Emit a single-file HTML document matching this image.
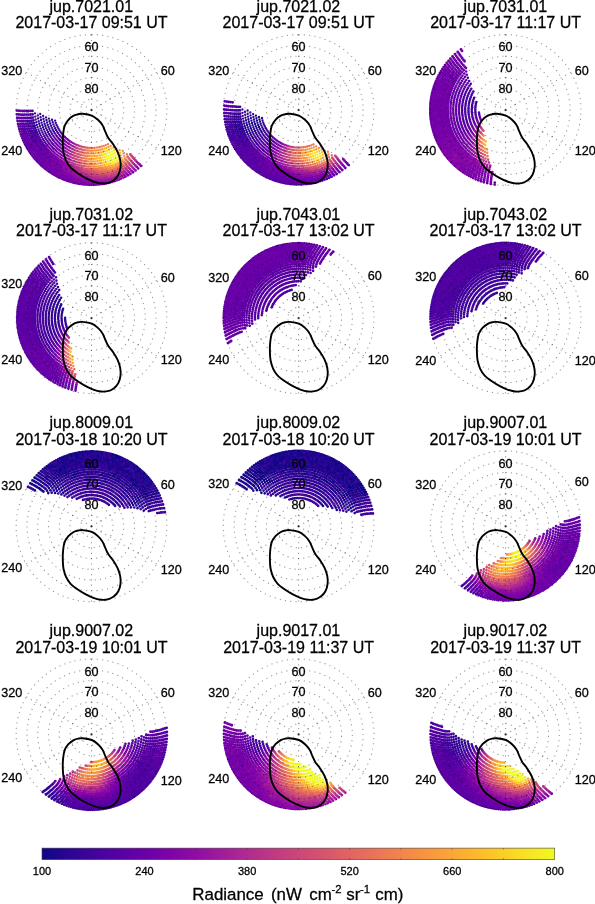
<!DOCTYPE html><html><head><meta charset="utf-8"><title>Radiance maps</title><style>html,body{margin:0;padding:0;background:#fff}svg{display:block}text{font-family:"Liberation Sans",sans-serif;fill:#000;stroke:#000;stroke-width:.28px}.t{font-size:16px;text-anchor:middle}.a{font-size:12.6px}.m{text-anchor:middle}.e{text-anchor:end}.c{font-size:11px;text-anchor:middle}.g{fill:none;stroke:#000;stroke-opacity:.42;stroke-width:1.05;stroke-dasharray:1.15 4.15}.d{fill:none;stroke-width:27.0;stroke-linecap:round}.b{stroke-width:28.5}.o{fill:none;stroke:#000;stroke-width:1.9}</style></head><body><svg width="595" height="904" viewBox="0 0 595 904"><rect width="595" height="904" fill="#fff"/><defs><g id="grid" class="g"><circle r="10.75" transform="rotate(-90)"/><circle r="21.50" transform="rotate(-90)"/><circle r="32.25" transform="rotate(-90)"/><circle r="43.00" transform="rotate(-90)"/><circle r="53.75" transform="rotate(-90)"/><circle r="64.50" transform="rotate(-90)"/><circle r="75.40" transform="rotate(-90)"/><path d="M0 0L0.00 -75.40"/><path d="M0 0L65.30 -37.70"/><path d="M0 0L65.30 37.70"/><path d="M0 0L0.00 75.40"/><path d="M0 0L-65.30 37.70"/><path d="M0 0L-65.30 -37.70"/><circle r="1.1" fill="#000" fill-opacity=".35" stroke="none"/></g><path id="oval" class="o" d="M-8.8 3.8C-6.5 4.0 -2.2 4.6 0.3 5.6C2.8 6.6 4.6 8.2 6.4 9.8C8.2 11.4 9.7 13.1 10.9 15.1C12.2 17.1 12.9 19.8 13.9 21.9C14.9 24.0 15.6 26.0 16.9 28.0C18.2 30.0 20.0 31.7 21.5 34.0C23.0 36.3 24.8 39.0 26.0 41.6C27.2 44.2 28.2 47.2 28.7 49.9C29.2 52.5 29.3 55.0 29.0 57.5C28.7 60.0 27.9 62.9 26.8 65.0C25.7 67.1 24.0 69.0 22.2 70.3C20.4 71.6 18.3 72.6 16.2 73.1C14.1 73.6 11.8 73.7 9.4 73.4C7.0 73.1 4.3 72.4 1.8 71.5C-0.7 70.6 -3.2 69.4 -5.7 68.1C-8.2 66.8 -10.8 65.3 -13.3 63.5C-15.8 61.7 -18.9 59.6 -20.9 57.5C-22.9 55.4 -24.2 53.2 -25.4 50.7C-26.6 48.2 -27.4 45.3 -28.0 42.4C-28.6 39.5 -28.6 36.3 -28.7 33.3C-28.8 30.3 -28.7 27.1 -28.4 24.2C-28.1 21.3 -27.8 18.3 -26.9 15.9C-26.0 13.5 -24.6 11.5 -23.1 9.8C-21.6 8.1 -19.4 6.6 -17.8 5.7C-16.2 4.8 -14.8 4.5 -13.3 4.2C-11.8 3.9 -11.1 3.6 -8.8 3.8Z"/></defs><g class="d" style="stroke-width:23.5" transform="scale(.1)"><path stroke="#1d068e" d="M447 1238h0"/><path stroke="#2a0593" d="M558 1228h0m-24 15h0m-7-22h0m-7-24h0m-18 38h0m-13-49h0m-11 62h0m-13-48h0m-3 82h0m-8-22h0m-13-46h0m-6-27h0m-12 63h0m-7-24h0m-9 57h0m-8-22h0m-30-13h0"/><path stroke="#370499" d="M566 1249h0m-15-43h0m19 110h0m-19-34h0m-15 31h0m-9-18h0m-9-19h0m-8-20h0m-15-44h0m8 96h0m-9-19h0m-8-20h0m-15-44h0m-11-52h0m39 182h0m-19-35h0m-49-162h0m44 208h0m-36-73h0m-8-21h0m-20-72h0m-5-28h0m18 152h0m-9-20h0m-22-67h0m-6-25h0m-6-28h0m-5 87h0m-13-49h0"/><path class="b" stroke="#370499" d="M368 1324h0m-8-21h0m-14-46h0m2 70h0m-22-68h0m-6 49h0m-20-73h0"/><path stroke="#41049d" d="M584 1285h0m-24 14h0m-18-36h0m-29 62h0m-24 13h0m-24 12h0m-18-37h0m-45-173h0m40 221h0m-64-207h0m31 199h0m-9-19h0m-8-19h0m-8-21h0m-27-99h0m-4-29h0"/><path class="b" stroke="#41049d" d="M353 1281h0m-14-49h0m-5-27h0m-5-29h0m-3-32h0m40 223h0m-26-61h0m-26-99h0m-21 80h0"/><path stroke="#4c02a1" d="M604 1317h0m-10-15h0m-19-35h0m5 64h0m-13 29h0m-21-31h0m-13 29h0m-62-57h0m-15 31h0m6 62h0m-29-51h0m-14 28h0m-69-238h0"/><path class="b" stroke="#4c02a1" d="M386 1363h0m-9-19h0m-53-235h0m51 276h0m-18-38h0m-24-64h0m-13-49h0m-10-57h0m45 211h0m-18-38h0m-9-21h0m-22-68h0m-11-53h0m-5-30h0m18 154h0m-7-22h0m-21-73h0m-5-28h0m-4-30h0m-4-33h0m0 118h0m-12-55h0m-28 56h0"/><path stroke="#5601a4" d="M615 1332h0m-2 41h0m-35 1h0m-22-29h0m-2 42h0m-32-45h0m-2 44h0m-13 27h0m-11-15h0m-11-15h0m-12 27h0m-21-32h0m8 58h0m-11-15h0m-20-32h0"/><path class="b" stroke="#5601a4" d="M437 1447h0m-22-32h0m-10-16h0m11 52h0m-11-15h0m-10-16h0m-10-17h0m-79-258h0m111 341h0m-52-80h0m-19-36h0m-33-85h0m-26-139h0m-2-36h0m112 381h0m-43-64h0m-10-17h0m-9-18h0m-9-20h0m-9-19h0m-31-91h0m-20-152h0m58 303h0m-9-19h0m-10-19h0m-8-20h0m-24-67h0m-22-109h0m138 365h0m-121-208h0m-7-23h0m-8-24h0m-6-25h0m-6-26h0m-6-28h0m88 278h0m-10-16h0m-39-72h0m-9-20h0m-17-43h0m-8-23h0m-7-24h0m-12-52h0m-5-28h0m12 128h0m-15-47h0m-17-82h0m-7-64h0m148 428h0m-121-211h0m-29-97h0m-18-122h0"/><path stroke="#6001a6" d="M649 1370h0m-23-25h0m-24 15h0m-11-14h0m-2 41h0m-12 27h0m-12-13h0m-22-28h0m-13 27h0m-21-29h0m20 69h0m-11-13h0m-1 38h0m-23-26h0m-11-14h0m11 52h0m-12-13h0m-11-14h0m-32-45h0"/><path class="b" stroke="#6001a6" d="M470 1489h0m-22-28h0m-22-30h0m-30-50h0m65 127h0m-12-13h0m-11-14h0m-11-15h0m-122-357h0m196 466h0m-95-104h0m-11-15h0m-10-16h0m-10-16h0m56 109h0m-23-28h0m-22-29h0m-22-32h0m58 108h0m-35-42h0m-33-46h0m-20-33h0m-46-97h0m-7-22h0m-21-75h0m-12-91h0m-2-36h0m179 473h0m-24-26h0m-67-89h0m-11-16h0m-10-18h0m-19-37h0m-9-19h0m-9-21h0m-45-178h0m-3-33h0m-1-36h0m176 479h0m-69-85h0m-31-49h0m-10-18h0m-10-18h0m-27-60h0m-44-180h0m-3-33h0m197 474h0m-104-128h0m-10-17h0m-20-35h0m-19-38h0m-9-20h0m-24-67h0m-13-50h0m-15-87h0m-4-71h0m477 697h0m-176-90h0m-53-41h0m-26-23h0m-85-92h0m-11-15h0m-11-15h0m-32-49h0m-10-18h0m-19-37h0m-9-20h0m-33-88h0m-7-25h0m-12-53h0m-5-29h0m-4-32h0"/><path stroke="#6a00a8" d="M637 1358h0m-12 27h0m0 38h0m-12-11h0m-12-12h0m-12 26h0m-12 26h0m-12-12h0m-12-13h0m-11-13h0m23 63h0m-24-24h0m25 59h0m-25-22h0m-12-12h0m-23-26h0m24 62h0"/><path class="b" stroke="#6a00a8" d="M557 1570h0m-63-56h0m-35-39h0m26 58h0m-12-12h0m67 85h0m-26-20h0m-25-23h0m-13-11h0m-12-12h0m-12-13h0m-23-27h0m76 104h0m-13-11h0m-12-11h0m-13-12h0m-12-12h0m-36-39h0m-44-59h0m162 191h0m-27-19h0m-13-10h0m-13-11h0m-26-22h0m-12-12h0m-12-13h0m-24-26h0m-12-13h0m-22-29h0m-11-16h0m-21-32h0m240 256h0m-14-8h0m-55-36h0m-14-10h0m-52-43h0m-12-12h0m-60-65h0m-11-15h0m-11-15h0m-11-16h0m-40-68h0m346 340h0m-102-51h0m-14-9h0m-28-18h0m-13-10h0m-27-21h0m-25-22h0m-13-11h0m-49-51h0m-11-14h0m-23-29h0m223 219h0m-14-8h0m-42-26h0m-67-50h0m-13-12h0m-13-11h0m-25-24h0m-12-13h0m-12-13h0m-12-14h0m-11-14h0m-12-15h0m-22-31h0m-31-50h0m-20-37h0m-26-61h0m-35-122h0m388 534h0m-58-31h0m-14-9h0m-14-9h0m-27-19h0m-53-42h0m-26-24h0m-12-12h0m-12-13h0m-13-13h0m-78-104h0m-31-53h0m-27-60h0m-16-44h0m-40-233h0"/><path stroke="#7401a8" d="M686 1402h0m-12-10h0m-25 16h0m-12-11h0m0 37h0m-36 4h0m0 36h0m-12-11h0m-12 25h0m-24-23h0m1 36h0m1 35h0m-13-11h0m-24-23h0m-12-12h0"/><path class="b" stroke="#7401a8" d="M544 1560h0m-13-11h0m-25-23h0m-24-24h0m107 114h0m-14-9h0m-27-19h0m-13-10h0m-13-11h0m-12-11h0m-13-11h0m97 97h0m-27-17h0m-127-111h0m160 154h0m-14-8h0m-14-8h0m-13-9h0m-14-9h0m-13-10h0m-89-78h0m178 155h0m-14-8h0m-29-15h0m-28-17h0m-79-61h0m142 119h0m-15-8h0m-42-24h0m-14-9h0m-54-38h0m-13-11h0m-13-11h0m-50-48h0m331 217h0m-32-9h0m-46-16h0m-30-12h0m-15-7h0m-44-22h0m-14-8h0m-42-26h0m-41-29h0m-26-21h0m-37-36h0m-25-25h0m-35-42h0m-149-425h0m561 703h0m-49-12h0m-16-4h0m-15-5h0m-16-5h0m-30-12h0m-15-6h0m-15-7h0m-15-7h0m-72-40h0m-27-18h0m-14-10h0m-13-10h0m-13-10h0m-134-142h0m1005 198h0m-378 124h0m-19 1h0m-36 0h0m-17-1h0m-18-1h0m-51-6h0m-17-2h0m-16-3h0m-17-3h0m-16-4h0m-16-4h0m-32-9h0m-16-5h0m-31-11h0m-15-6h0m-15-6h0m-15-7h0m-30-14h0m-14-8h0m-15-8h0m-83-55h0m-13-10h0m-100-97h0m-57-75h0"/><path stroke="#7e03a8" d="M661 1382h0m14 46h0m-13-10h0m-12 26h0m-24 15h0m-13-10h0m14 45h0m-13-10h0m2 34h0m-13-9h0m-13-11h0m-9 58h0m-13-10h0"/><path class="b" stroke="#7e03a8" d="M583 1589h0m-13-9h0m-51-42h0m84 86h0m-41-26h0m61 60h0m-15-8h0m-27-16h0m-28-18h0m-26-20h0m117 94h0m-126-76h0m147 106h0m-29-12h0m-44-22h0m-28-17h0m-41-27h0m196 118h0m-16-5h0m-15-5h0m-15-6h0m-31-12h0m-14-7h0m-100-56h0m264 128h0m-17-3h0m-48-12h0m-31-9h0m-16-5h0m-75-32h0m-15-7h0m424 91h0m-74 7h0m-18 0h0m-36 0h0m-34-2h0m-17-2h0m-17-2h0m-17-3h0m-50-9h0m-16-4h0m-78-25h0m-75-33h0m-43-24h0m871-64h0m-106 79h0m-158 72h0m-62 17h0m-20 5h0m-76 11h0m-19 2h0m-125-2h0m-17-1h0m-115-23h0"/><path stroke="#8707a6" d="M699 1412h0m-11 25h0m-25 17h0m-25 15h0m-9 58h0m3 33h0m-14-9h0m-13-9h0m-13-9h0m-13-10h0m42 60h0m-13-8h0m-14-9h0"/><path class="b" stroke="#8707a6" d="M625 1615h0m-14-9h0m-14-8h0m48 49h0m-14-7h0m-14-8h0m56 71h0m-44-20h0m-14-7h0m81 56h0m-16-6h0m-30-12h0m133 62h0m-32-8h0m-16-4h0m-78-26h0m202 68h0m-17-2h0m-34-4h0m-49-10h0m637-145h0m-28 24h0m-102 68h0m-271 86h0m-37 3h0m-89 0h0m-85-11h0m598-132h0m-103 69h0m-69 34h0m-43 17h0m-122 32h0m-19 4h0m-20 2h0m-92 6h0"/><path stroke="#8f0da4" d="M652 1479h0m-12 24h0m6 65h0m3 31h0"/><path class="b" stroke="#8f0da4" d="M667 1636h0m-14-6h0m-14-8h0m35 39h0m-15-7h0m52 42h0m-15-5h0m-15-6h0m-15-6h0m-14-7h0m-15-7h0m82 54h0m-16-5h0m-45-18h0m133 61h0m-33-7h0m-16-4h0m-15-4h0m-16-5h0m156 50h0m-17-2h0m-34-4h0m-17-2h0m-32-7h0m199 34h0m-36 2h0m-18 0h0m-18-1h0m-17 0h0m-52-5h0m490-94h0m-25 15h0m-47 26h0m-23 11h0m-44 19h0m-123 35h0m-20 4h0m-56 7h0m-73 2h0m451-123h0m-99 61h0m-23 11h0m-45 19h0m-63 22h0m-20 5h0"/><path stroke="#99159f" d="M740 1436h0m-14-8h0m-14-8h0m-11 26h0m-11 25h0m-14-8h0m16 41h0m-27-17h0m2 33h0m-13-8h0m16 40h0m-27-16h0m20 71h0m-28-16h0"/><path class="b" stroke="#99159f" d="M712 1655h0m-23 12h0m77 65h0m-16-4h0m-16-4h0m-46-16h0m187 60h0m-68-8h0m-33-6h0m594-136h0m-466 170h0m-18 0h0m-51-5h0m549-151h0m-81 61h0m-298 109h0m-18 2h0m-37 3h0m393-117h0m-143 80h0m-44 17h0m-41 13h0m-20 5h0m-20 5h0"/><path stroke="#a11b9b" d="M742 1468h0m-14-7h0m-14-7h0m-11 25h0m-25 17h0m17 40h0m-11 24h0m-28-16h0m32 46h0m-14-7h0m-14-7h0m18 37h0"/><path class="b" stroke="#a11b9b" d="M697 1649h0m-15-6h0m37 35h0m-15-5h0m54 37h0m-16-4h0m-15-5h0m88 41h0m-17-3h0m-16-3h0m75 30h0m-17-1h0m-16-2h0m132 24h0m-37 1h0m435-133h0m-101 67h0m-46 23h0m-44 18h0m-21 7h0m-41 13h0m-20 5h0m-20 5h0m-19 3h0m-20 4h0m111-6h0"/><path stroke="#aa2395" d="M768 1449h0m-14-6h0m-48 68h0m3 31h0m-28-14h0m22 69h0m-11 23h0"/><path class="b" stroke="#aa2395" d="M727 1660h0m7 23h0m72 37h0m-32-6h0m57 30h0m79 25h0m-18-1h0m448-127h0m-26 20h0m-264 114h0m-58 9h0m-18 2h0m-37 2h0m390-112h0m-50 32h0m-47 26h0m-45 20h0m-64 23h0"/><path stroke="#b12a90" d="M717 1486h0m3 32h0m-21 48h0m18 37h0m20 34h0m-30-11h0"/><path class="b" stroke="#b12a90" d="M742 1665h0m56 34h0m-32-7h0m-16-4h0m73 35h0m-33-6h0m75 30h0m-17-1h0m507-142h0m-428 165h0m361-91h0m-24 15h0m-24 14h0m-23 12h0m-187 60h0m-19 3h0"/><path stroke="#b7318a" d="M783 1455h0m-26 20h0m-26 18h0m4 32h0m-11 24h0m-11 24h0m19 35h0m-10 24h0"/><path class="b" stroke="#b7318a" d="M789 1677h0m-16-3h0m-15-4h0m24 26h0m57 29h0m503-136h0m-442 160h0m-18-1h0m445-121h0m-345 138h0m-19 2h0m-18 1h0m250-39h0m-22 9h0m-63 22h0m-41 11h0"/><path stroke="#bf3984" d="M771 1481h0m-11 25h0m-14-6h0m-8 55h0m-10 24h0m35 39h0m-16-5h0m21 33h0m-16-4h0"/><path class="b" stroke="#bf3984" d="M814 1702h0m515-127h0m-473 152h0m458-115h0m-379 137h0m365-102h0m-25 17h0m-24 14h0m-193 75h0m-19 4h0m-20 4h0m-18 2h0m150-17h0m-21 8h0m-41 12h0"/><path stroke="#c5407e" d="M797 1460h0m-44 100h0m20 34h0m-30-10h0"/><path class="b" stroke="#c5407e" d="M822 1683h0m-17-2h0m511-121h0m-452 148h0m-34-4h0m60 25h0m-17-1h0m117 17h0m-19 2h0m-18 1h0m-36 1h0m310-58h0m-109 46h0"/><path stroke="#cc4778" d="M812 1465h0m-26 21h0m-11 25h0m-26 19h0m9 60h0m36 36h0m-16-4h0m21 32h0m-15-4h0"/><path class="b" stroke="#cc4778" d="M1304 1545h0m-457 161h0m96 23h0m-18 1h0m-17 0h0m380-98h0m-83 71h0m-23 10h0m-21 9h0m-22 8h0m-41 13h0m-20 6h0"/><path stroke="#d14e72" d="M828 1469h0m-27 22h0m-7 54h0m-15-4h0m-15-5h0m20 34h0m-16-5h0m42 65h0m6 27h0"/><path class="b" stroke="#d14e72" d="M898 1710h0m-17-1h0m381-60h0m-215 87h0m-19 3h0m-19 4h0"/><path stroke="#d6556d" d="M843 1472h0m-26 23h0m-27 21h0m-1 82h0m43 61h0"/><path class="b" stroke="#d6556d" d="M872 1689h0m-17-1h0m-17-2h0m95 24h0m-17 0h0m385-112h0m-51 35h0m-289 95h0m254-52h0m-87 38h0m-61 17h0"/><path stroke="#dc5d67" d="M859 1475h0m-27 23h0m-27 22h0m5 29h0m-11 25h0m5 28h0m44 60h0"/><path class="b" stroke="#dc5d67" d="M1289 1583h0m-338 126h0m324-92h0m-258 104h0m-19 3h0m-18 2h0m258-63h0m-46 24h0m-43 19h0m-42 14h0m-20 6h0"/><path stroke="#e16462" d="M876 1477h0m-55 47h0m-6 54h0m5 27h0m22 30h0m-16-2h0m39 30h0"/><path class="b" stroke="#e16462" d="M1276 1567h0m-370 124h0m-17-1h0m80 18h0m87 6h0m-20 4h0m134-21h0"/><path stroke="#e66c5c" d="M892 1478h0m-44 23h0m-11 26h0m-11 26h0m33 84h0m409-95h0m-386 123h0"/><path class="b" stroke="#e66c5c" d="M924 1691h0m64 15h0m238-58h0m-23 12h0m-108 43h0m-20 6h0"/><path stroke="#ea7457" d="M926 1479h0m-17 0h0m-45 25h0m-11 26h0m-11 25h0m-11 26h0m22 29h0m-17-2h0m39 31h0m24 26h0"/><path class="b" stroke="#ea7457" d="M959 1689h0m-18 1h0m321-88h0m-237 98h0m-19 3h0m174-32h0m-64 26h0"/><path stroke="#ee7b51" d="M1080 1441h0m-22 10h0m-59 19h0m-55 8h0m-64 27h0m-17 80h0m-16-2h0m22 29h0m47 54h0"/><path class="b" stroke="#ee7b51" d="M978 1687h0m260-69h0m-174 74h0m-19 4h0m113-15h0m-21 8h0"/><path stroke="#f2844b" d="M980 1473h0m-18 3h0m-48 31h0m-17-1h0m-28 26h0m5 27h0m-16-1h0m370-50h0m-301 132h0m-17 0h0m-18 0h0m42 25h0"/><path class="b" stroke="#f2844b" d="M1250 1586h0m-235 96h0m-19 3h0m218-53h0"/><path stroke="#f58c46" d="M1038 1459h0m-20 6h0m-87 41h0m-45 27h0m5 28h0m-5 52h0m349-78h0m-283 129h0"/><path class="b" stroke="#f58c46" d="M1034 1679h0"/><path stroke="#f89540" d="M1107 1458h0m-121 43h0m-19 2h0m-18 2h0m-47 29h0m12 54h0m-17 0h0m-17-1h0m40 27h0m-17 0h0m42 25h0m297-78h0m-235 97h0m-37 5h0"/><path class="b" stroke="#f89540" d="M1053 1674h0m138-30h0m-66 29h0m-20 7h0m-21 6h0"/><path stroke="#fa9e3b" d="M1085 1469h0m-61 23h0m-20 5h0m-84 37h0m23 26h0m-35 1h0m288-62h0m-264 89h0m42 23h0m7 25h0"/><path class="b" stroke="#fa9e3b" d="M1226 1603h0m-133 60h0m-20 6h0m95-14h0m-21 10h0"/><path stroke="#fca636" d="M1064 1479h0m72-5h0m-181 58h0m-18 2h0m-12 27h0m42 24h0m-11 28h0m-18 1h0m88 41h0m-38 6h0"/><path stroke="#fdb130" d="M1044 1486h0m-34 38h0m-49 35h0m-12 28h0m253-61h0m-191 79h0m-48 33h0m254-60h0m-172 72h0"/><path class="b" stroke="#fdb130" d="M1202 1616h0m-45 23h0m-43 17h0"/><path stroke="#feba2c" d="M1030 1519h0m-39 8h0m-18 3h0m192-43h0m-167 67h0m-19 3h0m25 23h0m-18 3h0m6 25h0m26 22h0m-18 3h0"/><path class="b" stroke="#feba2c" d="M1179 1629h0m-44 19h0"/><path stroke="#fdc527" d="M1113 1486h0m-96 64h0m193 3h0m-172 73h0m155-34h0m-128 53h0"/><path stroke="#fcce25" d="M1050 1513h0m121 2h0m-148 61h0m7 25h0m76 31h0m-21 7h0"/><path stroke="#fad824" d="M1091 1497h0m-21 9h0m72-4h0m-92 94h0m7 25h0"/><path stroke="#f7e425" d="M1056 1539h0m-20 6h0m7 26h0m135-29h0m8 25h0m-109 48h0m94-10h0"/><path stroke="#f3ee27" d="M1097 1524h0m-34 41h0m85 50h0m-21 9h0"/><path stroke="#f0f921" d="M1119 1514h0m-43 18h0m72-3h0m-22 11h0m-22 10h0m-21 8h0m72-3h0m-22 11h0m-22 9h0m-21 8h0m-20 7h0m93-10h0m-23 11h0m-21 9h0m-21 8h0"/></g><use href="#grid" x="91.5" y="110.0"/><use href="#oval" x="91.5" y="110.0"/><text class="t" x="91.3" y="11.8">jup.7021.01</text><text class="t" x="91.5" y="28.3">2017-03-17 09:51 UT</text><text class="a m" x="91.5" y="51.4">60</text><text class="a m" x="91.5" y="72.0">70</text><text class="a m" x="91.5" y="92.7">80</text><text class="a e" x="22.2" y="74.5">320</text><text class="a" x="160.7" y="74.5">60</text><text class="a e" x="22.2" y="154.8">240</text><text class="a" x="160.7" y="154.8">120</text><g class="d" style="stroke-width:23.5" transform="scale(.1)"><path stroke="#0d0887" d="M2558 1261h0"/><path stroke="#1d068e" d="M2600 1216h0m-6-22h0m-5-25h0m9 118h0m-8-18h0m-21-63h0m-5-24h0m-5-26h0m-8 84h0m-7-22h0m-5-23h0m-13 56h0m-6-22h0m-6-23h0m-5-25h0m8 120h0m-8-19h0m-7-20h0m-7-22h0m-6-23h0m-5-25h0m-30 88h0"/><path stroke="#2a0593" d="M2640 1244h0m-8-20h0m-7-21h0m-5-23h0m3 95h0m-16-38h0m0 67h0m-25-55h0m-7-21h0m-1 70h0m-8-18h0m-32-111h0m-3-28h0m19 168h0m-16-37h0m-29-118h0m29 183h0m-8-17h0m-46-154h0m-4-61h0m26 225h0m-17-38h0m-7-21h0m-7-21h0m-11-48h0m-5-26h0m14 144h0m-22-61h0m-6-23h0m-5-24h0m-5-26h0"/><path class="b" stroke="#2a0593" d="M2430 1289h0m-6-22h0m-14 23h0m-13-45h0m-10-50h0m3 97h0m-6-22h0m-12-49h0"/><path stroke="#370499" d="M2657 1279h0m-9-17h0m-7 46h0m-9-16h0m-17-36h0m21 95h0m-19-31h0m-5 43h0m-20-31h0m-9-16h0m-15 27h0m-9-16h0m-18-36h0m-38-167h0m50 246h0m-76-233h0m52 243h0m-36-69h0m-28-84h0m-13-79h0m10 153h0m-35-143h0m-2-30h0m-1-34h0"/><path class="b" stroke="#370499" d="M2463 1366h0m-9-18h0m-37-104h0m-5-24h0m-9-53h0m-3-30h0m-1-33h0m35 246h0m-9-19h0m-7-20h0m-14-43h0m-12-47h0m13 112h0m-8-20h0m-19-67h0m-14-79h0m-3-30h0m16 177h0m-7-21h0m-6-23h0m-6-23h0m-6-25h0m-4-27h0m17 141h0m-21-65h0m-12-49h0m-22 73h0"/><path stroke="#41049d" d="M2676 1310h0m-10-15h0m-15 28h0m7 55h0m-11-13h0m-21-29h0m7 55h0m-11-14h0m-20-29h0m-25 11h0m-4 41h0m-10-15h0m-24 11h0m-19-32h0m-10-17h0m-60-230h0m65 289h0m-10-16h0m-9-16h0m-9-17h0m-9-18h0"/><path class="b" stroke="#41049d" d="M2491 1415h0m-10-16h0m-9-16h0m-26-54h0m-8-20h0m-31-114h0m63 224h0m-9-16h0m-19-35h0m-59-201h0m-2-30h0m-1-33h0m80 334h0m-20-32h0m-9-17h0m-9-18h0m-9-19h0m-46-157h0m-7-91h0m79 338h0m-38-69h0m-8-19h0m-8-19h0m-41-168h0m-2-30h0m48 257h0m-17-38h0m-16-41h0m-7-21h0m-12-47h0m-13-81h0m53 248h0m-9-18h0m-17-38h0m-8-21h0m-7-21h0m-7-22h0m-7-23h0m-5-24h0m-5-25h0m-5-27h0m-3-29h0m-2-31h0m54 281h0m-17-37h0m-16-41h0m-7-21h0m-14-46h0m-5-24h0m-5-26h0m26 159h0m-36-109h0m-5-25h0m-5-26h0m-4-27h0m38 208h0m-9-20h0m-15-41h0m-14-45h0m-16-76h0"/><path stroke="#4c02a1" d="M2719 1363h0m-12-12h0m-11-13h0m-10-13h0m19 64h0m-23-24h0m-21-27h0m-6 78h0m-11-13h0m-25 13h0m-11-13h0m-10-14h0m-11-15h0m8 54h0m-11-14h0m-40-60h0m73 134h0m-46-49h0m-11-14h0m-11-14h0m-3 39h0m-10-14h0m-11-15h0"/><path class="b" stroke="#4c02a1" d="M2533 1473h0m-11-13h0m-21-29h0m-101-363h0m51 318h0m-70-318h0m89 386h0m-20-32h0m-89-355h0m166 486h0m-68-80h0m-10-16h0m-20-31h0m-10-17h0m-9-18h0m-69-288h0m278 551h0m-191-193h0m-20-32h0m-9-18h0m-18-36h0m-53-180h0m-6-59h0m0-71h0m433 679h0m-145-72h0m-127-108h0m-34-40h0m-52-76h0m-10-17h0m-27-54h0m-58-276h0m1-38h0m3-42h0m281 659h0m-102-86h0m-68-80h0m-11-15h0m-10-16h0m-30-49h0m-34-75h0m-47-194h0m-2-32h0m204 491h0m-92-107h0m-20-31h0m-10-16h0m-20-34h0m-9-18h0m-8-19h0m-17-39h0m-8-21h0m-7-21h0m-7-23h0m-24-132h0m-2-32h0m0-34h0m5-81h0m524 801h0m-32-9h0m-121-51h0m-232-192h0m-22-29h0m-32-47h0m-19-33h0m-44-95h0m-14-43h0m-13-47h0m-5-25h0m-9-55h0m-3-30h0m-2-32h0"/><path stroke="#5601a4" d="M2755 1395h0m-24-20h0m-37 2h0m-22-25h0m8 51h0m-11-12h0m10 48h0m-12-11h0m-13 24h0m-12-11h0m-11-13h0m10 48h0m-12-11h0m-11-12h0m-12-12h0m-13 24h0m-11-13h0m47 81h0m-49-45h0m-11-12h0m-12-13h0"/><path class="b" stroke="#5601a4" d="M2604 1546h0m-36-34h0m-23-25h0m-33-42h0m58 96h0m-35-36h0m-12-13h0m-22-28h0m-10-14h0m-11-15h0m93 135h0m-37-35h0m-11-12h0m-12-13h0m-11-13h0m-11-14h0m-11-14h0m176 185h0m-67-46h0m-13-10h0m-13-10h0m-12-12h0m-12-11h0m-24-24h0m-23-26h0m-11-14h0m-11-14h0m-128-421h0m377 643h0m-140-83h0m-13-10h0m-12-11h0m-13-11h0m-12-11h0m-24-24h0m-12-13h0m-11-13h0m-12-13h0m-11-14h0m-10-15h0m-11-15h0m-20-31h0m-97-343h0m5-79h0m492 740h0m-221-100h0m-14-10h0m-13-10h0m-13-10h0m-13-10h0m-12-11h0m-13-12h0m-24-23h0m-24-26h0m-11-13h0m-22-28h0m-11-15h0m-10-15h0m-10-16h0m520 337h0m-226-57h0m-15-7h0m-43-23h0m-42-25h0m-27-18h0m-26-20h0m-13-11h0m-26-22h0m-12-12h0m-36-37h0m-11-13h0m-11-14h0m-11-14h0m-42-61h0m-10-16h0m-28-53h0m-60-204h0m-6-95h0m1-37h0m4-43h0m969 752h0m-284 52h0m-138-16h0m-33-8h0m-32-9h0m-16-5h0m-15-6h0m-31-12h0m-30-13h0m-14-7h0m-43-23h0m-14-9h0m-14-9h0m-14-9h0m-13-9h0m-14-10h0m-39-31h0m-12-12h0m-25-23h0m-47-52h0m-11-13h0m-11-15h0m-21-30h0m-30-49h0m-91-394h0m981 737h0m-23 8h0m-85 23h0m-118 15h0m-19 1h0m-18 0h0m-19-1h0m-18 0h0m-17-1h0m-18-2h0m-17-2h0m-18-2h0m-33-6h0m-17-4h0m-80-23h0m-16-5h0m-31-12h0m-15-7h0m-15-6h0m-43-23h0m-28-17h0m-14-8h0m-28-19h0m-26-20h0m-13-10h0m-26-22h0m-12-11h0m-13-12h0m-36-38h0m-11-13h0m-23-28h0m-21-30h0m-10-16h0m-49-85h0m-72-325h0m1-39h0m4-43h0"/><path stroke="#6001a6" d="M2742 1420h0m-13-9h0m-12-11h0m-1 35h0m-12-10h0m-12-11h0m-26 83h0m-25 13h0m-12-10h0m-24-23h0m49 76h0m-12-9h0m-26-21h0m-12-11h0m-12-12h0"/><path class="b" stroke="#6001a6" d="M2669 1594h0m-26-18h0m-13-10h0m-50-43h0m-24-24h0m118 121h0m-27-18h0m-14-9h0m-13-9h0m-13-10h0m-12-11h0m-37-34h0m-12-12h0m-34-39h0m224 196h0m-14-7h0m-57-30h0m-27-17h0m-14-9h0m-13-10h0m-13-10h0m-13-10h0m-25-22h0m-12-12h0m272 176h0m-78-25h0m-15-7h0m-43-21h0m-14-8h0m-42-25h0m-13-9h0m-112-100h0m261 199h0m-30-12h0m-45-20h0m-28-15h0m-14-8h0m-14-9h0m-41-27h0m-75-65h0m455 213h0m-71-5h0m-17-2h0m-49-10h0m-33-8h0m-16-4h0m-15-5h0m-46-18h0m-15-6h0m-15-7h0m-29-14h0m-14-8h0m-14-8h0m-14-8h0m-117-92h0m549 211h0m-38 3h0m-37 1h0m-36-1h0m-52-5h0m-17-3h0m-17-3h0m-33-7h0m-16-4h0m-32-9h0m-16-5h0m-16-5h0m-15-6h0m-15-6h0m-59-28h0m-28-16h0m-14-8h0m-54-37h0m-39-32h0m-49-47h0m999 53h0m-169 115h0m-114 44h0m-63 16h0m-20 3h0m-20 3h0m-20 3h0m-19 2h0m-19 1h0m-19 1h0m-55 0h0m-18-1h0m-17-2h0m-18-2h0m-17-2h0m-17-3h0m-17-3h0m-33-7h0m-32-8h0m-63-21h0m-30-13h0m-44-21h0m-14-8h0m-96-64h0m-13-11h0m-62-57h0m-12-13h0m-11-13h0m1046 75h0m-119 89h0m-26 14h0m-25 14h0m-24 11h0m-24 10h0m-68 24h0m-21 6h0m-21 6h0m-42 8h0m-20 4h0m-19 2h0m-20 2h0m-19 2h0m-180-9h0m-49-11h0m-33-8h0m-62-22h0m-60-27h0m-85-49h0m-27-20h0m-39-31h0m-50-47h0m-12-12h0m-98-132h0m-18-35h0"/><path stroke="#6a00a8" d="M2743 1385h0m12 45h0m-13 24h0m-13-9h0m-13 24h0m-25-19h0m13 43h0m-13-9h0m-12-10h0m-13-11h0m13 44h0m-25-20h0m26 53h0m-14-10h0m-12-9h0m68 75h0m-28-16h0m-13-8h0"/><path class="b" stroke="#6a00a8" d="M2697 1611h0m-41-26h0m-39-29h0m-25-21h0m124 108h0m-28-15h0m-28-17h0m-78-59h0m199 139h0m-74-31h0m-14-7h0m-42-24h0m153 90h0m-16-5h0m-15-5h0m-60-24h0m-71-39h0m-40-28h0m274 138h0m-16-3h0m-33-7h0m-16-5h0m-16-4h0m-16-5h0m-30-11h0m-45-19h0m-29-14h0m-69-43h0m479 132h0m-77 7h0m-54 0h0m-18-2h0m-17-1h0m-51-7h0m-17-3h0m-171-59h0m587 33h0m-46 18h0m-43 14h0m-83 18h0m-58 7h0m-38 2h0m-36-1h0m-53-3h0m-68-11h0m-48-12h0m-122-47h0m656 7h0m-49 24h0m-46 19h0m-22 8h0m-44 12h0m-21 5h0m-156 18h0m463-145h0m-59 43h0m-783 20h0"/><path stroke="#7401a8" d="M2808 1430h0m-14-8h0m-13-8h0m-13-9h0m0 34h0m-13 24h0m-12 24h0m-14-9h0m-25-18h0m26 51h0m-13-9h0m1 32h0m-13-8h0m-12 23h0m43 54h0m-28-15h0m-40-25h0"/><path class="b" stroke="#7401a8" d="M2739 1632h0m-56-30h0m107 72h0m-15-6h0m-45-18h0m-28-14h0m126 70h0m-31-9h0m-31-11h0m-15-6h0m-72-35h0m293 100h0m-87-8h0m-17-3h0m-16-3h0m-16-3h0m-79-25h0m-59-25h0m265 86h0m-18 0h0m-18-2h0m-17-2h0m-17-2h0m-50-9h0m282 21h0m-20 4h0m-40 6h0m-19 2h0m-19 1h0m-37 1h0m-250-45h0m576-17h0m-72 33h0m-45 16h0m-43 12h0m-20 5h0m-21 4h0m-40 6h0m365-135h0m-31 23h0m-28 20h0m-27 17h0m69-22h0"/><path stroke="#7e03a8" d="M2732 1542h0m-40-25h0m28 48h0m-14-8h0m59 59h0m-14-6h0"/><path class="b" stroke="#7e03a8" d="M2799 1656h0m-30-11h0m-15-6h0m-29-13h0m-14-8h0m95 61h0m-46-16h0m-15-7h0m132 60h0m-16-3h0m-17-3h0m-31-9h0m106 41h0m-17-2h0m173 19h0m-58 5h0m429-157h0m-117 85h0m-97 46h0m-22 9h0m-22 7h0m-21 6h0m-21 5h0m313-144h0m-33 28h0m-30 23h0m-28 19h0m-27 16h0m-50 27h0"/><path stroke="#8707a6" d="M2822 1437h0m-13 25h0m-14-7h0m-14-8h0m1 32h0m-13-8h0m1 32h0m-14-8h0m2 32h0m-14-8h0m16 38h0m-14-7h0m16 37h0m-14-7h0m-14-7h0"/><path class="b" stroke="#8707a6" d="M2814 1661h0m-30-10h0m69 41h0m-16-4h0m-16-4h0m107 39h0m-34-4h0m114 26h0m-18 0h0m-36 0h0m-18-2h0m497-151h0m-189 121h0m-23 9h0m-65 21h0m-42 9h0m-20 4h0m-39 5h0m-19 2h0m-37 2h0m-18 0h0m432-131h0m-57 42h0m-77 42h0m-24 11h0"/><path stroke="#8f0da4" d="M2836 1444h0m-52 66h0m-7 84h0m33 39h0m-15-5h0m-15-5h0"/><path class="b" stroke="#8f0da4" d="M2846 1670h0m-16-4h0m73 35h0m-17-3h0m-16-3h0m75 29h0m-34-3h0m154 19h0m-38 4h0m374-125h0m-202 111h0m-64 18h0m169-42h0"/><path stroke="#99159f" d="M2823 1468h0m-27 18h0m-10 55h0m-14-7h0m2 30h0m52 74h0"/><path class="b" stroke="#99159f" d="M2895 1680h0m-33-6h0m110 32h0m-52-3h0m135 19h0m-38 3h0m-18 1h0m-18 0h0m-18-1h0m182 0h0m-21 5h0m-40 8h0m-38 5h0m297-82h0m-26 16h0m-25 13h0m-25 12h0m-90 35h0m207-80h0"/><path stroke="#a11b9b" d="M2865 1455h0m-15-5h0m-12 24h0m-27 19h0m-13 24h0m6 59h0m-15-6h0m48 45h0m-15-5h0m-15-5h0m-15-5h0m65 47h0m-15-4h0"/><path class="b" stroke="#a11b9b" d="M2912 1682h0m-34-5h0m149 28h0m-73 0h0m-17-1h0m157 12h0m-20 4h0m-38 4h0m196-28h0m-66 24h0m-62 14h0"/><path stroke="#aa2395" d="M2828 1529h0m-15-6h0m2 30h0m-14-6h0m18 35h0m34 37h0m21 31h0"/><path class="b" stroke="#aa2395" d="M2929 1684h0m79 22h0m-18 0h0m387-117h0m-263 124h0m275-109h0m-109 70h0m-24 12h0m-46 19h0m-22 8h0m183-71h0"/><path stroke="#b12a90" d="M2880 1460h0m-13 25h0m-15-5h0m-12 25h0m-15-6h0m5 59h0m76 98h0m-16-3h0"/><path class="b" stroke="#b12a90" d="M2981 1687h0m-18-1h0m-17-1h0m119 16h0m-19 2h0m131-7h0m-21 6h0m-21 6h0m224-81h0m-28 18h0m-26 16h0"/><path stroke="#b7318a" d="M2896 1464h0m-41 46h0m3 29h0m-15-5h0m6 57h0m-15-4h0m51 40h0m-16-4h0m71 37h0m-17-2h0"/><path class="b" stroke="#b7318a" d="M3018 1686h0m-19 1h0m366-114h0m-281 125h0m185-40h0m-48 22h0"/><path stroke="#bf3984" d="M2911 1468h0m-28 21h0m-13 25h0m-9 54h0m-15-5h0m35 36h0m-16-3h0m37 33h0m56 32h0"/><path class="b" stroke="#bf3984" d="M3036 1685h0m68 10h0m141-25h0"/><path stroke="#c5407e" d="M2873 1543h0m24 59h0m38 32h0m-17-2h0m93 29h0m-36 1h0"/><path class="b" stroke="#c5407e" d="M3353 1558h0m-278 122h0m260-85h0m12 16h0m-27 18h0m-26 16h0m-95 43h0"/><path stroke="#cc4778" d="M2944 1473h0m-16-3h0m-30 23h0m-9 54h0m-12 24h0m116 91h0"/><path class="b" stroke="#cc4778" d="M3055 1683h0m111-4h0m-21 6h0m-21 5h0"/><path stroke="#d14e72" d="M2914 1496h0m-12 26h0m-16-4h0m7 57h0m37 32h0m22 28h0m78 25h0"/><path class="b" stroke="#d14e72" d="M3324 1580h0m-189 88h0m-41 9h0m214-63h0m-26 15h0m-72 34h0"/><path stroke="#d6556d" d="M2978 1475h0m-47 24h0m-26 51h0m4 28h0m38 31h0m-33-4h0m74 31h0m-18 0h0m98 20h0"/><path class="b" stroke="#d6556d" d="M3114 1673h0m143-31h0m-24 11h0m-45 19h0"/><path stroke="#dc5d67" d="M2996 1475h0m-35-1h0m-43 51h0m8 55h0m80 56h0m312-83h0m-269 105h0"/><path class="b" stroke="#dc5d67" d="M3297 1598h0m-141 64h0"/><path stroke="#e16462" d="M3134 1444h0m-187 57h0m-25 52h0m38 30h0m-17-1h0m22 28h0m78 23h0m-19 2h0m64 17h0"/><path stroke="#e66c5c" d="M3112 1453h0m-41 12h0m-57 9h0m-15 29h0m-17 0h0m-18-1h0m-30 25h0m21 29h0m45 54h0m-18 0h0m126 38h0"/><path class="b" stroke="#e66c5c" d="M3178 1655h0"/><path stroke="#ea7457" d="M3091 1460h0m-59 12h0m-64 58h0m-17-1h0m-13 26h0m57 29h0m295-12h0m-162 71h0"/><path class="b" stroke="#ea7457" d="M3271 1613h0m-25 13h0m-23 11h0m-23 9h0"/><path stroke="#ee7b51" d="M3051 1469h0m-33 33h0m-45 55h0m4 27h0m302-67h0m-242 91h0m-19 1h0m266-64h0m-222 86h0m87 6h0"/><path stroke="#f2844b" d="M3161 1463h0m-157 67h0m-18 0h0m22 27h0m-18 0h0m23 26h0m68 45h0"/><path stroke="#f58c46" d="M3138 1473h0m-83 24h0m133-17h0m60 27h0m-216 75h0m24 23h0m45 19h0m163-36h0m-48 25h0"/><path stroke="#f89540" d="M3075 1493h0m-39 7h0m-14 29h0m195-35h0m-167 86h0m25 22h0m164-1h0m-46 21h0m-22 8h0"/><path stroke="#fa9e3b" d="M3116 1481h0m-21 7h0m-35 36h0m-19 3h0m4 26h0m-18 2h0m231 7h0m-136 57h0"/><path stroke="#fca636" d="M3070 1577h0m182-42h0m-157 63h0m47 15h0"/><path stroke="#fdb130" d="M3165 1491h0m-81 56h0m-19 3h0m168 26h0"/><path stroke="#feba2c" d="M3142 1501h0m-42 14h0m-21 5h0m114-12h0m29 14h0m-132 51h0m25 20h0m94-6h0m-45 19h0"/><path stroke="#fdc527" d="M3105 1542h0m31 46h0m50 9h0"/><path stroke="#fcce25" d="M3121 1509h0m48 10h0m-59 49h0m117-18h0"/><path stroke="#fad824" d="M3198 1535h0m-67 27h0"/><path stroke="#f7e425" d="M3147 1528h0m-22 7h0m27 19h0m51 8h0m-45 18h0"/><path stroke="#f3ee27" d="M3174 1546h0m6 26h0"/></g><use href="#grid" x="298.6" y="110.0"/><use href="#oval" x="298.6" y="110.0"/><text class="t" x="298.4" y="11.8">jup.7021.02</text><text class="t" x="298.6" y="28.3">2017-03-17 09:51 UT</text><text class="a m" x="298.6" y="51.4">60</text><text class="a m" x="298.6" y="72.0">70</text><text class="a m" x="298.6" y="92.7">80</text><text class="a e" x="229.3" y="74.5">320</text><text class="a" x="367.8" y="74.5">60</text><text class="a e" x="229.3" y="154.8">240</text><text class="a" x="367.8" y="154.8">120</text><g class="d" style="stroke-width:25.5" transform="scale(.1)"><path stroke="#2a0593" d="M4759 1038h0m-18-60h0"/><path stroke="#370499" d="M4754 1119h0m2-65h0m8-33h0m-46 75h0m2-33h0m-35 25h0m31-137h0"/><path stroke="#41049d" d="M4755 1135h0m-2-32h0m1-32h0m-31 88h0m-2-16h0m-3-31h0m1-32h0m3-33h0m4-17h0m4-17h0m5-18h0m-49 141h0m-1-32h0m5-66h0m3-17h0m4-17h0m5-17h0m22-54h0m10-19h0m-81 214h0m-1-32h0m6-66h0m19-70h0m7-18h0"/><path stroke="#4c02a1" d="M4792 1142h0m-2-16h0m-37-39h0m-34 41h0m-21 69h0m-7-30h0m-3-16h0m-3-31h0m1-48h0m1-17h0m21-86h0m-42 236h0m-4-15h0m-3-15h0m-3-16h0m-2-15h0m-2-32h0m0-33h0m2-16h0m8-50h0m4-18h0m5-17h0m21-54h0m10-18h0m11-19h0m-78 326h0m-3-15h0m-10-63h0m-1-32h0m0-32h0m10-68h0m63-145h0m14-20h0m-115 207h0m19-86h0"/><path stroke="#5601a4" d="M4764 1181h0m-4-15h0m-3-16h0m-17 69h0m-14-45h0m-19 53h0m-5-15h0m-8 67h0m-7-14h0m-17-45h0m-14-174h0m-6 212h0m-10-30h0m-12-46h0m-2-15h0m-2-16h0m-3-32h0m0-32h0m2-33h0m2-17h0m3-17h0m8-34h0m5-17h0m6-18h0m7-18h0m8-18h0m9-19h0m11-19h0m-49 418h0m-7-15h0m-24-75h0m-3-15h0m-8-112h0m5-50h0m22-87h0m7-18h0m8-18h0m9-19h0m22-38h0m28-39h0m-100 464h0m-10-30h0m-5-15h0m-4-16h0m-12-95h0m1-49h0m3-33h0m25-104h0m7-18h0m17-37h0m65-98h0m-81 68h0m11-19h0m26-39h0m16-21h0"/><path stroke="#6001a6" d="M4799 1172h0m-4-15h0m-26 39h0m-34 8h0m-5-15h0m-11 68h0m-6-15h0m-19-60h0m15 126h0m-28-58h0m-6-15h0m3 81h0m-8-14h0m-14-29h0m-11-30h0m-5 66h0m-20-44h0m-5-14h0m-5-15h0m-4-16h0m-10-46h0m-2-16h0m-2-15h0m-1-16h0m-1-33h0m2-33h0m7-50h0m3-17h0m5-18h0m45-109h0m25-38h0m-66 488h0m-7-15h0m-6-14h0m-12-30h0m-16-61h0m-3-16h0m-2-16h0m-2-15h0m-1-16h0m-1-33h0m2-49h0m8-51h0m3-17h0m5-18h0m5-17h0m21-55h0m31-56h0m12-20h0m15-19h0m-99 481h0m-5-15h0m-5-15h0m-8-31h0m-11-63h0m-2-32h0m-1-32h0m3-50h0m3-17h0m6-34h0m4-18h0m4-17h0m6-18h0m6-18h0m7-18h0m17-37h0m33-57h0m-84 479h0m-32-156h0m0-17h0m0-16h0m4-67h0m37-140h0m8-19h0m88-137h0"/><path class="b" stroke="#6001a6" d="M4481 1037h0m79-233h0m25-40h0m-81 564h0m-32-355h0m115-243h0m-164 304h0m-21 21h0m232-457h0m-242 239h0m35-76h0m-100 428h0m-5-83h0m30 263h0"/><path stroke="#6a00a8" d="M4804 1187h0m-58 47h0m-20 37h0m-25 22h0m-15 37h0m-23-43h0m10 79h0m-9-14h0m-9-14h0m-65-228h0m73 292h0m-29-42h0m-8-14h0m-8-15h0m-57-246h0m63-228h0m-18 511h0m-23-44h0m-13-29h0m-20-61h0m-10-46h0m-3-16h0m-3-32h0m-2-32h0m1-33h0m1-17h0m6-50h0m39-124h0m90-137h0m-91 628h0m-15-29h0m-7-15h0m-13-29h0m-11-30h0m-5-16h0m-4-15h0m-4-15h0m-6-32h0m-3-15h0m-5-98h0m1-16h0m1-17h0m4-34h0m3-17h0m4-17h0m4-18h0m5-17h0m6-18h0m6-18h0m24-55h0m21-38h0m12-20h0m14-20h0m15-20h0m37-42h0"/><path class="b" stroke="#6a00a8" d="M4511 1293h0m-14-45h0m-4-16h0m-3-16h0m-3-15h0m-3-16h0m-2-16h0m-2-16h0m-1-16h0m-1-49h0m1-17h0m5-51h0m5-34h0m4-17h0m5-18h0m5-18h0m5-18h0m14-36h0m8-18h0m9-19h0m10-19h0m51-79h0m17-20h0m20-22h0m22-22h0m-188 541h0m-3-16h0m-5-31h0m-2-17h0m-2-48h0m0-17h0m0-17h0m4-50h0m3-17h0m10-52h0m5-18h0m5-18h0m13-36h0m16-37h0m9-19h0m10-19h0m11-19h0m13-20h0m14-20h0m32-41h0m42-43h0m-173 637h0m-18-62h0m-9-47h0m-2-16h0m-3-32h0m-2-33h0m0-33h0m1-17h0m5-51h0m14-69h0m17-54h0m33-75h0m11-19h0m11-19h0m60-81h0m20-22h0m-109 740h0m-42-90h0m-35-140h0m-3-33h0m-1-99h0m4-34h0m9-52h0m4-18h0m5-18h0m5-18h0m13-36h0m15-37h0m9-19h0m20-38h0m12-20h0m13-20h0m14-20h0m34-41h0m68-67h0m-232 622h0m-3-16h0m-9-64h0m-1-17h0m-1-16h0m0-17h0m0-16h0m5-68h0m5-35h0m81-220h0m12-19h0m62-82h0m20-22h0m-130 765h0m-33-75h0m-10-31h0m-9-31h0m-11-47h0m-7-48h0m-2-17h0m-2-33h0m0-16h0m0-34h0m2-34h0m2-17h0m2-17h0m2-17h0m7-35h0m4-18h0m16-54h0m14-37h0m16-37h0m10-19h0m10-20h0m24-39h0m13-20h0m50-62h0m20-22h0m49-46h0m-234 710h0m-15-64h0m-10-81h0m-2-66h0m1-17h0m1-17h0m4-35h0m2-17h0m3-17h0m12-54h0m5-18h0m5-18h0m6-18h0m31-75h0m21-38h0m11-20h0m27-40h0m32-41h0m18-22h0m21-22h0m23-22h0m-194 768h0m-16-46h0m-5-16h0m-8-31h0m-10-48h0m-2-16h0m-7-82h0m0-51h0m1-17h0m3-34h0m3-18h0m23-106h0m36-93h0m9-19h0m46-79h0m14-20h0m15-21h0m17-21h0m19-21h0m71-69h0m310 1269h0m-532-440h0m-12-31h0m-27-94h0m-8-49h0m-4-32h0m-2-17h0m-2-33h0m6-120h0m18-88h0m5-18h0m5-18h0m13-37h0m67-135h0m13-20h0m15-21h0m33-42h0m40-43h0m-224 645h0m-5-33h0m-2-16h0m-1-17h0m-2-33h0m0-34h0m3-68h0m29-142h0m5-19h0m14-37h0m34-76h0m11-20h0m37-60h0m15-20h0m53-64h0m22-23h0m24-23h0m60-48h0"/><path stroke="#7401a8" d="M4809 1202h0m-29 23h0m-6-15h0m-22 38h0m-24 87h0m-10-13h0m-23 22h0m-1 49h0m-11-13h0m-36-56h0m38 105h0m-32-41h0m-10-14h0m-76-356h0m100 433h0m-12-14h0m-11-13h0m-10-14h0m-10-14h0m-10-14h0m-16-29h0m-8-14h0m-14-29h0m-34-107h0m120 282h0m-25-26h0m-11-14h0m-11-14h0m-10-13h0m-9-14h0m-9-15h0m-17-28h0m-21-44h0m-33-107h0m-8-47h0m-1-16h0m66-312h0"/><path class="b" stroke="#7401a8" d="M4621 1480h0m-12-13h0m-11-14h0m-10-14h0m-10-14h0m-18-28h0m-8-15h0m-8-14h0m-8-15h0m-7-15h0m-6-15h0m-6-14h0m-11-31h0m-5-15h0m-23-142h0m0-17h0m8-101h0m29-106h0m57-113h0m28 702h0m-42-56h0m-9-14h0m-9-14h0m-16-29h0m-7-15h0m-7-15h0m-12-30h0m-6-15h0m-5-15h0m-4-15h0m-5-16h0m-4-15h0m-9-47h0m-5-49h0m-1-16h0m1-66h0m1-17h0m8-51h0m23-89h0m14-36h0m117-178h0m6 858h0m-13-14h0m-37-40h0m-31-42h0m-27-43h0m-30-59h0m-6-15h0m-6-15h0m-11-30h0m-9-31h0m-7-31h0m-3-16h0m-7-48h0m-2-32h0m-1-33h0m2-51h0m2-17h0m5-34h0m3-17h0m4-18h0m9-35h0m6-18h0m13-37h0m8-18h0m53-96h0m14-20h0m16-21h0m59-64h0m3 927h0m-41-39h0m-47-55h0m-29-43h0m-53-103h0m-21-61h0m-5-15h0m-3-16h0m-4-16h0m-3-15h0m-3-16h0m-4-32h0m-3-33h0m0-16h0m0-17h0m0-17h0m8-85h0m3-17h0m23-89h0m14-36h0m92-156h0m38-43h0m22-22h0m-160 738h0m-7-15h0m-6-16h0m-6-15h0m-5-15h0m-6-15h0m-4-16h0m-4-15h0m-4-16h0m-10-48h0m-2-16h0m-2-16h0m-3-99h0m2-34h0m4-34h0m6-35h0m8-35h0m5-18h0m6-18h0m6-18h0m7-19h0m8-18h0m8-19h0m9-19h0m10-19h0m37-59h0m30-41h0m61-65h0m243 1123h0m-28-10h0m-94-43h0m-92-61h0m-139-149h0m-27-43h0m-30-59h0m-7-15h0m-6-16h0m-11-30h0m-18-62h0m-4-16h0m-6-32h0m-7-65h0m-1-50h0m1-34h0m11-86h0m12-53h0m5-18h0m12-36h0m15-37h0m40-77h0m41-60h0m16-21h0m62-66h0m317 1175h0m-34-8h0m-195-85h0m-69-50h0m-136-150h0m-10-15h0m-40-73h0m-7-15h0m-7-15h0m-12-31h0m-5-15h0m-5-16h0m-9-31h0m-8-32h0m-6-32h0m-2-16h0m-2-16h0m-2-16h0m-3-50h0m0-17h0m4-67h0m10-70h0m32-108h0m7-19h0m8-19h0m19-38h0m35-59h0m29-41h0m106-110h0m300 1234h0m-66-17h0m-56-20h0m-111-57h0m-36-24h0m-192-204h0m-9-15h0m-9-14h0m-15-30h0m-8-15h0m-6-15h0m-7-15h0m-12-31h0m-5-15h0m-14-47h0m-8-32h0m-3-16h0m-7-48h0m-2-17h0m-2-16h0m-1-50h0m0-17h0m3-51h0m10-70h0m3-18h0m4-17h0m5-18h0m11-37h0m6-18h0m15-37h0m39-77h0m12-20h0m99-125h0m24-23h0m375 1252h0m-74-15h0m-32-9h0m-56-20h0m-72-32h0m-21-12h0m-224-197h0m-30-43h0m-9-15h0m-17-29h0m-8-15h0m-7-15h0m-8-15h0m-19-46h0m-16-46h0m-9-32h0m-4-15h0m-7-32h0m-12-98h0m-1-51h0m1-17h0m0-17h0m2-17h0m1-17h0m5-35h0m3-18h0m3-17h0m4-18h0m21-73h0m14-37h0m8-19h0m9-19h0m9-19h0m11-20h0m11-19h0m56-81h0m36-43h0m45-45h0m27-24h0m319 1305h0m-35-8h0m-33-9h0m-29-10h0m-27-10h0m-50-21h0m-65-35h0m-38-24h0m-122-105h0m-59-70h0m-20-29h0m-35-58h0m-16-30h0m-7-16h0m-7-15h0m-6-15h0m-12-31h0m-5-16h0m-5-15h0m-5-16h0m-4-16h0m-4-16h0m-4-16h0m-8-48h0m-7-66h0m-1-34h0m0-34h0m1-17h0m1-17h0m3-34h0m3-18h0m6-35h0m3-18h0m5-18h0m4-18h0m18-55h0m14-38h0m9-19h0m9-19h0m31-58h0m13-20h0m44-62h0m18-22h0m93-90h0"/><path stroke="#7e03a8" d="M4734 1285h0m-19 86h0m-10-13h0m-31 57h0m5 49h0m25 60h0m-29-25h0m-26-27h0"/><path class="b" stroke="#7e03a8" d="M4688 1546h0m-15-13h0m-14-13h0m-13-13h0m-13-13h0m-64-83h0m-89-357h0m234 536h0m-33-25h0m-15-13h0m-29-26h0m-48-54h0m-11-13h0m-10-14h0m-36-58h0m126 185h0m-67-66h0m-33-42h0m-20-28h0m-9-14h0m-16-29h0m-8-15h0m-7-15h0m-34-90h0m36-440h0m306 852h0m-24-10h0m-22-12h0m-21-11h0m-72-48h0m-45-39h0m-14-13h0m-26-27h0m-23-27h0m-21-28h0m-10-14h0m-18-29h0m-16-29h0m-8-15h0m-7-15h0m-7-15h0m-18-45h0m-5-15h0m-29-225h0m75-268h0m360 924h0m-28-9h0m-26-11h0m-67-33h0m-39-23h0m-51-37h0m-30-26h0m-14-13h0m-38-41h0m-12-14h0m-11-13h0m-11-14h0m-10-15h0m-10-14h0m-9-14h0m-17-29h0m-8-15h0m-7-15h0m-50-437h0m114-244h0m385 1054h0m-34-8h0m-85-29h0m-24-11h0m-23-11h0m-42-23h0m-37-24h0m-17-12h0m-135-134h0m-11-14h0m-19-28h0m-9-15h0m-17-29h0m-15-29h0m-41-107h0m-20-95h0m461 571h0m-29-10h0m-26-10h0m-25-10h0m-44-23h0m-21-11h0m-55-37h0m-48-38h0m-15-13h0m-40-40h0m-24-28h0m-12-14h0m-10-14h0m-11-14h0m-36-58h0m-8-14h0m-8-15h0m-27-61h0m-29-93h0m-18-129h0m17-189h0m497 849h0m-60-18h0m-52-21h0m-23-11h0m-22-11h0m-21-12h0m-39-24h0m-35-25h0m-16-12h0m-15-13h0m-15-13h0m-54-54h0m-12-14h0m-23-28h0m-10-14h0m-10-14h0m-10-15h0m-35-58h0m-82-299h0m9-153h0m462 810h0m-53-20h0m-23-11h0m-64-35h0m-19-12h0m-18-12h0m-18-13h0m-16-12h0m-31-26h0m-15-14h0m-14-13h0m-13-13h0m-13-14h0m-13-14h0m-11-14h0m-71-100h0m-38-75h0m-23-61h0m-10-32h0m-18-79h0m288-713h0m327 1337h0m-190-54h0m-47-23h0m-21-11h0m-40-24h0m-36-25h0m-17-12h0m-32-26h0m-15-14h0m-14-13h0m-64-69h0m-11-14h0m-21-28h0m-19-29h0m-9-15h0m-9-15h0m-16-29h0m-70-203h0m-3-270h0"/><path stroke="#8707a6" d="M4768 1276h0m-8-14h0m-18 37h0m-12 134h0m-13-13h0m-12-13h0m6 48h0m-13-13h0m38 73h0m-30-25h0m-14-13h0m44 72h0m-17-12h0m-30-25h0"/><path class="b" stroke="#8707a6" d="M4757 1595h0m-19-12h0m-34-25h0m67 67h0m-20-11h0m-19-12h0m-35-24h0m-46-39h0m-27-26h0m-12-13h0m199 166h0m-24-11h0m-22-11h0m-20-11h0m-19-12h0m-36-24h0m-16-13h0m-31-25h0m-40-40h0m-35-41h0m355 244h0m-64-17h0m-28-10h0m-111-55h0m-19-12h0m-17-12h0m-114-104h0m349 230h0m-142-48h0m-22-11h0m-41-23h0m-37-24h0m-17-13h0m-31-25h0m-42-40h0m-13-13h0m-84-113h0m199 235h0m-67-50h0m-15-13h0m-15-13h0m-13-13h0m-13-14h0m-25-27h0m-11-14h0m215 199h0m-80-47h0m-34-25h0m-60-52h0m-13-14h0m-26-27h0m-72-99h0m103 160h0m-13-14h0m-50-55h0m86 115h0m-106-109h0m-21-28h0m-10-14h0m130 171h0m-58-53h0m-26-28h0m-12-14h0"/><path stroke="#8f0da4" d="M4787 1239h0m-35 74h0m-14 36h0m-14 119h0m-3 35h0m33 58h0"/><path class="b" stroke="#8f0da4" d="M4720 1571h0m72 65h0m71 50h0m-27-10h0m-129-67h0m182 105h0m-238-123h0m234 142h0m-332-182h0m-16 40h0"/><path stroke="#99159f" d="M4795 1253h0m-18 37h0m-15 36h0m-13 36h0m-11 36h0m-12-13h0m13 96h0m14 46h0"/><path class="b" stroke="#99159f" d="M4821 1628h0m-23-11h0m-21-11h0m120 70h0m-29-9h0m-52-20h0m77 48h0"/><path stroke="#a11b9b" d="M4755 1493h0m16 46h0m21 45h0"/><path class="b" stroke="#a11b9b" d="M4902 1657h0m-57-19h0m-5 19h0"/><path stroke="#aa2395" d="M4803 1267h0m-42 109h0m-2 83h0m-15-13h0m45 105h0m25 44h0m-42-22h0"/><path class="b" stroke="#aa2395" d="M4872 1648h0"/><path stroke="#b12a90" d="M4787 1304h0m-36 107h0m20 94h0m66 101h0"/><path stroke="#b7318a" d="M4813 1281h0m-41 59h0m1 49h0m1 82h0m36 91h0m80 64h0m-28-10h0"/><path stroke="#bf3984" d="M4797 1317h0m-13 36h0m-19 71h0m24 93h0"/><path stroke="#c5407e" d="M4823 1294h0"/><path stroke="#cc4778" d="M4779 1436h0m29 93h0m23 44h0"/><path stroke="#d14e72" d="M4835 1307h0m-26 23h0m-18 153h0m90 111h0m-26-10h0"/><path stroke="#d6556d" d="M4797 1366h0m-10 35h0m8 48h0m14 46h0m19 45h0"/><path stroke="#e16462" d="M4822 1343h0m-20 71h0m48 137h0"/><path stroke="#e66c5c" d="M4810 1379h0m2 82h0m16 45h0m47 55h0"/><path stroke="#ee7b51" d="M4835 1356h0m14 161h0"/><path stroke="#f2844b" d="M4825 1391h0m5 81h0m42 56h0"/><path stroke="#f58c46" d="M4817 1426h0"/><path stroke="#f89540" d="M4850 1484h0"/><path stroke="#fa9e3b" d="M4841 1403h0m-6 35h0"/><path stroke="#fca636" d="M4871 1494h0"/><path stroke="#feba2c" d="M4859 1415h0m-6 34h0"/></g><use href="#grid" x="505.6" y="110.0"/><use href="#oval" x="505.6" y="110.0"/><text class="t" x="505.4" y="11.8">jup.7031.01</text><text class="t" x="505.6" y="28.3">2017-03-17 11:17 UT</text><text class="a m" x="505.6" y="51.4">60</text><text class="a m" x="505.6" y="72.0">70</text><text class="a m" x="505.6" y="92.7">80</text><text class="a e" x="436.3" y="74.5">320</text><text class="a" x="574.8" y="74.5">60</text><text class="a e" x="436.3" y="154.8">240</text><text class="a" x="574.8" y="154.8">120</text><g class="d" style="stroke-width:25.5" transform="scale(.1)"><path stroke="#1d068e" d="M626 3103h0m-39 24h0m18-67h0m7-18h0m-59 91h0m21-84h0m25-52h0"/><path stroke="#2a0593" d="M651 3194h0m-34 6h0m-1-15h0m0-16h0m1-16h0m2-16h0m12-50h0m-44 151h0m-4-31h0m-1-16h0m1-32h0m1-16h0m6-33h0m4-16h0m5-17h0m-41 183h0m-5-31h0m-4-47h0m1-16h0m1-16h0m7-50h0m5-17h0m5-16h0m13-35h0m9-18h0m21-36h0m-87 272h0m-4-31h0m8-129h0m5-17h0m36-87h0m-82 208h0m105-293h0"/><path stroke="#370499" d="M658 3240h0m-3-15h0m-2-16h0m-2-31h0m-31 53h0m-2-15h0m4-96h0m-32 133h0m-5-30h0m-3-48h0m-16 115h0m-4-15h0m-7-31h0m-4-31h0m-1-15h0m5-81h0m-4 224h0m-6-15h0m-18-60h0m-6-31h0m-3-31h0m0-16h0m0-16h0m1-16h0m1-17h0m2-16h0m3-16h0m13-51h0m6-17h0m15-35h0m21-36h0m12-19h0m-77 383h0m-10-30h0m-8-30h0m-3-16h0m-5-31h0m-1-63h0m2-33h0m9-50h0m5-17h0m5-17h0m14-35h0m8-17h0m9-18h0m23-37h0m13-18h0m-108 358h0m-3-16h0m-5-31h0m-2-48h0m0-16h0m1-16h0m6-49h0m3-17h0m8-34h0m12-34h0m15-36h0m10-18h0m35-55h0m32-38h0m-94 82h0"/><path stroke="#41049d" d="M662 3255h0m-35 7h0m-4-15h0m-19 51h0m-10-30h0m-11 66h0m-25 21h0m-18-44h0m-5-15h0m-4-15h0m20-260h0m-24 341h0m-6-15h0m-12-30h0m-8-30h0m-10-46h0m-3-32h0m-1-31h0m2-33h0m4-33h0m3-16h0m20-68h0m35-71h0m-47 426h0m-13-30h0m-6-15h0m-9-30h0m-5-15h0m-9-46h0m-3-32h0m1-80h0m2-17h0m10-50h0m10-34h0m13-35h0m28-54h0m12-18h0m28-38h0m-80 515h0m-26-60h0m-17-61h0m-6-31h0m-2-16h0m-3-47h0m1-33h0m1-16h0m1-17h0m3-16h0m10-50h0m52-123h0m11-19h0m13-18h0m14-19h0m17-20h0m-117 507h0m-5-15h0m-28-140h0m-1-32h0m2-33h0m3-33h0m6-33h0m71-176h0m27-38h0m54-59h0m-189 344h0m16-100h0m4-17h0m166-260h0"/><path class="b" stroke="#41049d" d="M409 3436h0m-59-216h0m115-415h0m-171 311h0"/><path stroke="#4c02a1" d="M666 3270h0m-34 7h0m-23 36h0m-11-30h0m-27 22h0m-37 71h0m4 64h0m-9-14h0m-17-29h0m-14-29h0m-18-45h0m-22-124h0m33 219h0m-15-29h0m-7-15h0m-6-15h0m-11-30h0m-5-15h0m-4-15h0m-6-31h0m-8-96h0m9-82h0m3-17h0m9-34h0m6-17h0m6-17h0m7-18h0m101-149h0m-61 658h0m-20-29h0m-18-28h0m-9-15h0m-14-29h0m-23-60h0m-5-16h0m-4-15h0m-3-15h0m-3-16h0m-3-16h0m-2-15h0m-4-48h0m1-33h0m2-32h0m4-34h0m12-50h0m5-17h0m5-18h0m7-17h0m7-18h0m8-18h0m10-18h0m10-18h0m24-37h0m30-38h0m17-20h0m-128 559h0m-6-15h0m-11-30h0m-4-15h0m-8-31h0m-3-16h0m-4-31h0m-3-32h0m-1-32h0m0-17h0m2-32h0m4-34h0m20-85h0m5-17h0m7-18h0m8-17h0m8-18h0m9-18h0m10-18h0m11-19h0m13-18h0m14-19h0m15-20h0"/><path class="b" stroke="#4c02a1" d="M425 3465h0m-42-89h0m-10-31h0m-15-62h0m-7-47h0m-2-32h0m0-17h0m0-16h0m1-33h0m2-16h0m2-17h0m5-34h0m4-17h0m4-17h0m5-17h0m5-17h0m7-18h0m6-17h0m8-18h0m28-54h0m11-19h0m12-19h0m14-19h0m32-38h0m-153 502h0m-3-16h0m-8-64h0m1-98h0m4-33h0m15-68h0m41-106h0m132-173h0m25-21h0m-214 629h0m-15-62h0m-5-32h0m-3-130h0m4-34h0m6-34h0m12-51h0m34-89h0m144-191h0m25-22h0m-243 539h0m-3-33h0m-1-32h0m1-33h0m5-50h0m77-229h0m36-56h0m49-59h0m-146 652h0m-34-322h0m3-17h0m16-69h0m-43 123h0m13-85h0m166-313h0m43-41h0m56-44h0m-264 761h0m-36-191h0m1-66h0m177-451h0m-157 778h0m-53-389h0m5-34h0m215-392h0m-241 430h0m13-70h0m113-255h0m13-20h0m50-60h0m19-20h0"/><path stroke="#5601a4" d="M672 3284h0m-29 22h0m-6-15h0m-47 58h0m-16 35h0m-8-14h0m-6 50h0m-9-15h0m-9-14h0m6 63h0m-28-42h0m8 63h0m-10-14h0m-10-14h0m-9-14h0m-68-212h0m-1-16h0m47-235h0m21 512h0m-19-29h0m-24-44h0m-14-29h0m-38-154h0m12-164h0m87 468h0m-22-28h0m-10-14h0m-18-29h0m-24-44h0m-7-15h0m-18-45h0m-13-46h0m-9-47h0m-4-31h0m-2-32h0m3-82h0m5-33h0m4-17h0m132-253h0m19-20h0"/><path class="b" stroke="#5601a4" d="M511 3578h0m-77-98h0m-32-59h0m-7-15h0m-6-15h0m-11-30h0m-9-31h0m-4-16h0m-12-62h0m-4-97h0m57-223h0m10-18h0m99-134h0m21-20h0m-47 823h0m-36-42h0m-64-101h0m-13-30h0m-6-15h0m-6-15h0m-5-15h0m-5-16h0m-9-31h0m-9-47h0m-2-16h0m-2-16h0m-2-32h0m-1-16h0m0-16h0m1-33h0m4-33h0m5-34h0m3-17h0m4-17h0m10-35h0m6-17h0m6-18h0m7-17h0m8-18h0m18-36h0m11-19h0m11-18h0m13-19h0m14-19h0m33-39h0m19-21h0m6 864h0m-86-97h0m-37-58h0m-8-15h0m-7-15h0m-7-15h0m-13-30h0m-11-30h0m-13-47h0m-3-16h0m-6-31h0m-6-48h0m-1-16h0m0-16h0m0-17h0m1-33h0m3-33h0m11-68h0m5-17h0m10-35h0m20-53h0m17-36h0m21-36h0m12-19h0m13-19h0m14-19h0m33-39h0m20-21h0m26 912h0m-179-244h0m-17-45h0m-19-79h0m-5-31h0m-6-65h0m0-33h0m2-33h0m9-67h0m4-17h0m4-17h0m4-18h0m5-17h0m6-18h0m6-17h0m23-54h0m10-18h0m61-94h0m16-20h0m37-40h0m23-21h0m25-21h0m-179 790h0m-22-45h0m-6-15h0m-17-46h0m-13-47h0m-3-16h0m-4-16h0m-2-16h0m-3-16h0m-2-16h0m-1-16h0m-1-16h0m-1-33h0m0-16h0m1-33h0m2-17h0m10-68h0m8-34h0m10-35h0m13-36h0m15-35h0m29-55h0m11-19h0m13-19h0m13-19h0m15-20h0m34-39h0m69-63h0m-13 1023h0m-175-213h0m-28-60h0m-11-31h0m-5-15h0m-9-32h0m-4-15h0m-4-16h0m-3-16h0m-2-16h0m-8-64h0m0-17h0m-1-16h0m0-17h0m1-16h0m0-17h0m6-50h0m5-34h0m8-35h0m10-35h0m5-17h0m14-36h0m16-36h0m41-74h0m58-78h0m39-40h0m48-43h0m112 1133h0m-254-214h0m-61-103h0m-20-46h0m-25-78h0m-8-31h0m-3-16h0m-3-16h0m-2-16h0m-2-16h0m-4-66h0m0-33h0m8-84h0m3-17h0m7-35h0m4-17h0m5-18h0m12-35h0m6-18h0m8-18h0m35-73h0m11-19h0m12-19h0m13-19h0m30-39h0m17-19h0m18-21h0m21-20h0m23-21h0m144 1147h0m-105-63h0m-244-316h0m-11-31h0m-14-47h0m-4-16h0m-4-16h0m-3-15h0m-3-17h0m-4-32h0m-2-16h0m-2-33h0m-1-16h0m0-33h0m1-17h0m1-17h0m3-34h0m5-34h0m4-17h0m3-17h0m9-35h0m5-18h0m6-18h0m6-17h0m7-18h0m16-37h0m9-18h0m31-56h0m12-19h0m44-58h0m17-20h0m63-63h0m26-21h0m100 1192h0m-250-216h0m-70-120h0m-25-61h0m-15-47h0m-8-32h0m-7-32h0m-3-16h0m-4-32h0m-2-16h0m-2-17h0m-1-16h0m0-33h0m0-17h0m0-17h0m1-17h0m2-16h0m6-52h0m11-52h0m9-35h0m5-17h0m6-18h0m7-18h0m7-18h0m26-55h0m9-19h0m11-19h0m12-19h0m26-38h0m15-20h0m16-19h0m36-41h0m72-64h0m31-23h0m153 1286h0m-214-124h0m-130-141h0m-11-15h0m-27-45h0m-67-153h0m-4-16h0m-5-16h0m-4-16h0m-3-16h0m-11-65h0m-1-16h0m-4-49h0m0-17h0m0-17h0m1-16h0m1-17h0m1-17h0m1-17h0m5-34h0m6-35h0m13-53h0m11-35h0m13-36h0m7-18h0m8-19h0m9-18h0m10-19h0m10-18h0m11-19h0m12-19h0m199-207h0"/><path stroke="#6001a6" d="M624 3342h0m-8-14h0m-18 35h0m-21-43h0m6 79h0m-13 35h0m-7 82h0m-12-13h0m-12-14h0m-7 34h0m-12-13h0m35 75h0m-28-27h0m-12-14h0m-24-28h0m-30-42h0m-18-29h0m-8-15h0"/><path class="b" stroke="#6001a6" d="M525 3592h0m-27-28h0m-12-13h0m-12-14h0m-11-14h0m-10-15h0m-10-14h0m-26-44h0m-56-151h0m-6-32h0m1-179h0m122-268h0m39 790h0m-41-41h0m-11-13h0m-42-57h0m-9-15h0m-9-15h0m-8-14h0m-15-30h0m-33-91h0m-19-176h0m210 498h0m-46-40h0m-14-14h0m-48-56h0m-29-43h0m-9-14h0m-38-75h0m-11-30h0m-15-46h0m-17-95h0m-3-81h0m8-84h0m28-103h0m7-18h0m34-72h0m66-95h0m96 898h0m-17-13h0m-32-27h0m-28-27h0m-38-41h0m-12-15h0m-10-14h0m-11-14h0m-9-15h0m-18-29h0m-9-15h0m-7-15h0m-8-14h0m-7-16h0m-12-30h0m-6-15h0m-10-31h0m-4-15h0m-4-16h0m-3-16h0m-6-31h0m-6-48h0m6-149h0m39-139h0m8-18h0m39-73h0m12-19h0m206 911h0m-59-37h0m-66-53h0m-14-14h0m-39-41h0m-11-14h0m-22-29h0m-20-29h0m-9-15h0m-8-14h0m-23-45h0m-25-61h0m-10-31h0m-4-16h0m-21-143h0m0-50h0m4-50h0m13-68h0m20-70h0m14-35h0m17-37h0m9-18h0m79-114h0m38-41h0m154 1056h0m-164-116h0m-63-69h0m-21-29h0m-10-15h0m-19-29h0m-24-45h0m-7-15h0m-6-15h0m-13-31h0m-15-46h0m-20-95h0m-2-16h0m-1-16h0m1-132h0m21-103h0m17-53h0m14-36h0m18-36h0m9-19h0m11-18h0m24-38h0m14-19h0m15-20h0m268 1053h0m-75-34h0m-22-13h0m-75-51h0m-47-40h0m-41-42h0m-24-28h0m-51-73h0m-8-15h0m-17-29h0m-14-31h0m-7-15h0m-12-30h0m-10-31h0m-5-16h0m-8-31h0m-16-97h0m-1-16h0m-1-49h0m2-50h0m1-17h0m2-17h0m9-51h0m19-70h0m27-72h0m9-18h0m9-18h0m61-95h0m120-123h0m30-23h0m64 1180h0m-22-12h0m-20-13h0m-20-13h0m-36-26h0m-63-54h0m-27-27h0m-12-15h0m-35-42h0m-10-15h0m-10-15h0m-10-14h0m-9-15h0m-16-30h0m-8-15h0m-8-15h0m-7-15h0m-6-16h0m-12-30h0m-10-31h0m-5-16h0m-20-96h0m-5-48h0m-2-50h0m4-67h0m4-34h0m13-69h0m37-106h0m26-56h0m11-18h0m37-57h0m14-20h0m73-80h0m80-66h0m176 1261h0m-30-11h0m-27-11h0m-26-12h0m-46-24h0m-41-25h0m-54-39h0m-16-14h0m-30-27h0m-15-14h0m-38-42h0m-12-15h0m-32-43h0m-10-15h0m-10-14h0m-9-15h0m-8-15h0m-16-30h0m-20-46h0m-7-16h0m-11-31h0m-14-47h0m-7-32h0m-8-48h0m-7-82h0m4-100h0m12-69h0m8-35h0m38-107h0m8-19h0m54-94h0m62-78h0m64-63h0m274 1262h0m-33-10h0m-58-22h0m-26-11h0m-89-50h0m-19-13h0m-36-26h0m-32-27h0m-43-41h0m-14-14h0m-24-29h0m-12-14h0m-11-15h0m-30-44h0m-10-15h0m-17-30h0m-15-30h0m-8-15h0m-6-16h0m-7-15h0m-6-15h0m-6-16h0m-29-111h0m-3-16h0m-3-16h0m-5-49h0m-1-17h0m11-169h0m11-52h0m10-35h0m12-36h0m115-207h0m17-20h0m59-61h0m24-22h0"/><path stroke="#6a00a8" d="M607 3377h0m-15 36h0m-12 34h0m-21 21h0m-1 83h0m-13-14h0m-4 34h0"/><path class="b" stroke="#6a00a8" d="M555 3618h0m-15-13h0m42 58h0m-18-13h0m-17-13h0m-45-40h0m-60-70h0m-10-14h0m143 169h0m-18-13h0m-34-26h0m-56-55h0m-12-13h0m-12-15h0m-31-42h0m156 183h0m-82-66h0m-28-28h0m-12-13h0m-64-86h0m179 212h0m-36-26h0m-33-27h0m-42-40h0m-13-14h0m-35-43h0m-21-28h0m-43-74h0m150-770h0m156 1089h0m-48-24h0m-21-12h0m-20-12h0m-19-13h0m-18-13h0m-33-26h0m-16-14h0m-28-27h0m-13-14h0m-13-14h0m-12-14h0m-22-29h0m-47-73h0m-74-430h0m379 734h0m-90-48h0m-20-13h0m-18-13h0m-34-26h0m-15-14h0m-29-27h0m-39-42h0m-23-28h0m-21-29h0m-10-15h0m-26-44h0m446 360h0m-36-10h0m-33-10h0m-30-11h0m-27-11h0m-164-100h0m-16-13h0m-15-14h0m-28-27h0m-38-43h0m-12-14h0m-58-88h0m417 351h0m-183-81h0m-39-25h0m-18-13h0m-49-40h0m-42-42h0m-13-14h0m-35-43h0m-117-226h0m531 512h0m-202-77h0m-22-12h0m-57-39h0m-65-54h0m-14-13h0m-40-43h0m-100-147h0m-45-108h0m250-817h0"/><path stroke="#7401a8" d="M651 3321h0m-80 161h0m6 48h0m-4 34h0"/><path class="b" stroke="#7401a8" d="M589 3644h0m-18-13h0m-40-7h0m63 70h0m36 43h0m-22-12h0m-21-12h0m38 43h0m-44-24h0m-73-51h0m-157-149h0m344 296h0m-276-177h0m338 235h0m-482-370h0m301 325h0"/><path stroke="#7e03a8" d="M659 3335h0m-27 21h0m-29 71h0m-11 34h0m-9 35h0m5 81h0m-1 34h0m-16-13h0"/><path class="b" stroke="#7e03a8" d="M608 3657h0m13 31h0m-20-13h0m13 31h0m40 43h0m21 30h0m-26-11h0m50 41h0m-29-11h0m94 49h0m-37-9h0"/><path stroke="#8707a6" d="M668 3349h0m-52 43h0m-25 151h0"/><path class="b" stroke="#8707a6" d="M627 3669h0m16 31h0m17 30h0m-24-12h0m96 101h0"/><path stroke="#8f0da4" d="M641 3370h0m-15 35h0m-12 35h0m-10 35h0m-8 34h0m8 81h0m1 33h0"/><path class="b" stroke="#8f0da4" d="M680 3760h0m24 30h0"/><path stroke="#99159f" d="M611 3522h0m-5 34h0m17 80h0"/><path class="b" stroke="#99159f" d="M666 3711h0"/><path stroke="#a11b9b" d="M678 3363h0m-27 21h0m-29 219h0m21 45h0"/><path class="b" stroke="#a11b9b" d="M649 3681h0m60 90h0m27 29h0m32 28h0"/><path stroke="#aa2395" d="M638 3419h0m-12 35h0m-9 34h0m6 81h0"/><path class="b" stroke="#aa2395" d="M672 3693h0m14 48h0"/><path stroke="#b12a90" d="M689 3376h0m-27 22h0m-36 137h0m39 125h0"/><path class="b" stroke="#b12a90" d="M692 3723h0m49 58h0"/><path stroke="#b7318a" d="M650 3433h0m-11 34h0m-7 34h0m8 81h0m0 33h0"/><path stroke="#bf3984" d="M642 3548h0"/><path class="b" stroke="#bf3984" d="M714 3752h0"/><path stroke="#c5407e" d="M675 3411h0m-14 216h0"/><path class="b" stroke="#c5407e" d="M697 3704h0"/><path stroke="#cc4778" d="M654 3480h0m34 192h0"/><path class="b" stroke="#cc4778" d="M720 3733h0"/><path stroke="#d14e72" d="M663 3446h0m-16 68h0m12 80h0"/><path class="b" stroke="#d14e72" d="M746 3762h0"/><path stroke="#d6556d" d="M683 3639h0"/><path class="b" stroke="#d6556d" d="M725 3715h0"/><path stroke="#dc5d67" d="M688 3425h0"/><path class="b" stroke="#dc5d67" d="M751 3743h0"/><path stroke="#e16462" d="M660 3561h0m20 45h0"/><path stroke="#e66c5c" d="M678 3459h0m-9 34h0m-5 34h0m43 124h0m7 32h0"/><path stroke="#ea7457" d="M679 3573h0"/><path stroke="#f2844b" d="M693 3472h0m9 146h0"/><path stroke="#f58c46" d="M686 3506h0m-4 34h0m51 121h0m10 32h0"/><path stroke="#f89540" d="M700 3585h0"/><path stroke="#fa9e3b" d="M711 3484h0m16 145h0"/><path stroke="#fca636" d="M701 3552h0"/><path stroke="#fdb130" d="M705 3518h0m19 78h0"/><path stroke="#feba2c" d="M723 3563h0"/></g><use href="#grid" x="91.5" y="318.1"/><use href="#oval" x="91.5" y="318.1"/><text class="t" x="91.3" y="219.9">jup.7031.02</text><text class="t" x="91.5" y="236.4">2017-03-17 11:17 UT</text><text class="a m" x="91.5" y="259.5">60</text><text class="a m" x="91.5" y="280.2">70</text><text class="a m" x="91.5" y="300.8">80</text><text class="a e" x="22.2" y="287.5">320</text><text class="a" x="160.7" y="282.0">60</text><text class="a e" x="22.2" y="364.1">240</text><text class="a" x="160.7" y="364.1">120</text><g class="d" style="stroke-width:27" transform="scale(.1)"><path stroke="#41049d" d="M2717 3073h0"/><path stroke="#4c02a1" d="M2731 3042h0m9-14h0m9-14h0m30-36h0m35-30h0m13-9h0m27-16h0m15-7h0m47-17h0m-236 156h0m61-97h0m46-42h0m54-33h0m15-6h0m15-6h0m33-11h0m-271 213h0m27-65h0m26-41h0m9-13h0m10-12h0m11-12h0m22-22h0m12-10h0m12-10h0m204-75h0m20-1h0m-403 347h0m23-116h0m47-90h0m99-101h0m116-57h0m52-13h0m100-4h0m-314 68h0m12-9h0m-191 261h0m113-230h0m154-112h0m-221 154h0m558-202h0"/><path stroke="#5601a4" d="M2724 3057h0m34-55h0m10-12h0m22-23h0m12-10h0m38-27h0m44-20h0m16-6h0m-237 203h0m5-18h0m6-18h0m13-32h0m8-15h0m36-54h0m21-23h0m23-21h0m25-19h0m27-16h0m60-26h0m34-9h0m18-3h0m18-2h0m-339 300h0m3-21h0m18-74h0m6-17h0m7-15h0m16-30h0m9-14h0m50-61h0m48-41h0m26-16h0m15-8h0m14-7h0m15-7h0m15-6h0m17-5h0m16-5h0m17-4h0m18-3h0m19-3h0m61-1h0m-424 324h0m3-20h0m4-20h0m4-19h0m5-18h0m13-34h0m14-31h0m17-29h0m18-26h0m10-13h0m21-24h0m22-22h0m24-20h0m26-18h0m13-9h0m14-7h0m14-8h0m30-13h0m16-6h0m33-10h0m17-4h0m36-6h0m40-3h0m21 0h0m-449 393h0m1-22h0m2-22h0m7-40h0m5-18h0m17-52h0m7-16h0m7-16h0m8-14h0m9-15h0m8-14h0m9-13h0m10-13h0m20-25h0m11-11h0m11-11h0m48-41h0m13-9h0m28-17h0m28-15h0m15-6h0m16-7h0m16-5h0m16-5h0m17-5h0m17-4h0m18-3h0m18-3h0m20-2h0m62-1h0m-494 440h0m0-23h0m1-23h0m3-21h0m17-76h0m12-35h0m7-16h0m23-45h0m9-14h0m9-14h0m9-13h0m20-25h0m33-35h0m11-11h0m12-10h0m25-20h0m13-9h0m117-57h0m16-5h0m17-5h0m18-4h0m18-3h0m18-3h0m20-2h0m61-1h0m23 2h0m48 7h0m-588 455h0m0-23h0m34-155h0m21-47h0m17-30h0m18-27h0m9-13h0m20-25h0m57-56h0m25-20h0m39-26h0m59-30h0m64-22h0m-349 275h0m8-16h0m23-45h0m47-68h0m10-12h0m57-56h0m38-29h0m27-17h0m14-8h0m43-22h0m31-13h0m33-11h0m17-5h0m53-11h0m19-2h0m177 9h0"/><path class="b" stroke="#5601a4" d="M2454 3067h0m158-280h0m48-41h0m194-92h0m277 3h0m-709 568h0m-2-50h0m1-24h0m4-44h0m7-40h0m9-38h0m12-36h0m20-50h0m80-126h0m-133 213h0m46-118h0m34-58h0m84-99h0m504-151h0m-632 249h0m92-188h0m199-117h0m-223 114h0m12-11h0m-260 595h0m249-632h0m155-97h0m169-54h0"/><path stroke="#6001a6" d="M2703 3010h0m9-14h0m9-13h0m42-47h0m50-37h0m-189 211h0m4-19h0m160-221h0m-206 312h0m38-171h0m15-30h0m47-66h0m22-23h0m23-21h0m94-59h0m137-34h0m85 3h0m-493 413h0m6-88h0m14-56h0m6-18h0m74-130h0m44-45h0m63-47h0m28-16h0m186-49h0m21 0h0m44 2h0m24 4h0m-537 486h0m-3-27h0m11-132h0m5-18h0m11-36h0m20-48h0m8-15h0m45-69h0m31-36h0m47-42h0m39-28h0m14-8h0m14-8h0m14-7h0m30-14h0m16-6h0m142-28h0m21 0h0m67 5h0m51 10h0m-608 528h0m-4-28h0m-2-26h0m2-71h0m3-21h0m3-20h0m4-20h0m4-18h0m6-19h0m5-17h0m13-33h0m8-16h0m15-30h0m46-68h0m21-24h0m11-12h0m11-11h0m12-11h0m50-39h0m13-9h0m27-16h0m29-15h0m31-13h0m16-6h0m16-6h0m34-9h0m18-4h0m18-3h0m18-3h0m20-2h0m19-1h0m21 0h0m21 0h0m23 2h0m23 2h0m24 4h0m26 6h0m-632 553h0m-3-28h0m-2-26h0m0-25h0m1-23h0m2-22h0m2-21h0m3-21h0m4-19h0m5-19h0m5-19h0m6-17h0m6-17h0m21-49h0m43-71h0m10-13h0m31-37h0m11-11h0m11-11h0m12-11h0m24-21h0m39-28h0m42-24h0m14-7h0m62-26h0m51-14h0m18-4h0m76-9h0m21 0h0m21 1h0m23 1h0m23 2h0m24 4h0m53 12h0"/><path class="b" stroke="#6001a6" d="M2452 3282h0m-5-30h0m-3-28h0m-2-50h0m1-23h0m2-23h0m2-21h0m12-59h0m5-19h0m6-18h0m6-17h0m13-33h0m7-16h0m16-30h0m8-15h0m28-41h0m20-26h0m21-24h0m11-11h0m23-22h0m25-21h0m25-19h0m13-9h0m14-8h0m14-9h0m14-8h0m76-33h0m16-6h0m52-14h0m18-3h0m18-3h0m39-4h0m41-2h0m44 2h0m23 3h0m49 8h0m56 16h0m-730 617h0m-9-84h0m2-70h0m5-42h0m8-40h0m11-37h0m12-34h0m7-17h0m14-31h0m53-86h0m10-13h0m21-24h0m11-12h0m11-12h0m11-11h0m24-21h0m12-10h0m13-10h0m13-9h0m13-10h0m14-8h0m13-9h0m15-8h0m14-7h0m15-8h0m15-7h0m15-6h0m16-6h0m16-6h0m17-5h0m89-20h0m39-3h0m63-1h0m22 1h0m23 3h0m25 4h0m52 11h0m-726 651h0m-9-84h0m0-25h0m1-23h0m6-66h0m4-20h0m4-19h0m29-90h0m7-16h0m7-16h0m16-31h0m8-14h0m9-15h0m18-27h0m31-39h0m21-23h0m11-12h0m24-22h0m24-21h0m26-19h0m13-9h0m13-9h0m14-8h0m29-16h0m14-8h0m15-7h0m32-13h0m16-6h0m33-10h0m35-9h0m36-7h0m38-5h0m20-1h0m42-1h0m22 1h0m96 13h0m56 16h0m-779 666h0m-8-58h0m-2-51h0m1-24h0m3-45h0m3-21h0m7-41h0m15-56h0m13-34h0m29-64h0m17-30h0m48-67h0m21-25h0m11-12h0m11-11h0m11-11h0m12-11h0m12-11h0m25-20h0m27-19h0m13-8h0m28-17h0m29-16h0m15-7h0m15-7h0m16-6h0m32-12h0m34-10h0m17-4h0m18-4h0m18-4h0m19-3h0m39-4h0m20-1h0m42-1h0m22 1h0m23 2h0m24 3h0m51 10h0m27 7h0m60 20h0m-840 649h0m-5-55h0m-1-26h0m2-47h0m1-22h0m3-22h0m7-41h0m9-38h0m6-19h0m5-18h0m28-66h0m15-31h0m9-15h0m17-29h0m29-40h0m21-25h0m22-24h0m34-34h0m13-10h0m25-20h0m13-10h0m113-65h0m32-13h0m121-32h0m19-3h0m39-4h0m21 0h0m42 0h0m70 6h0m25 5h0m26 5h0m28 7h0m-793 756h0m-16-92h0m-4-53h0m0-24h0m1-24h0m4-44h0m7-42h0m4-20h0m5-19h0m5-18h0m11-36h0m14-34h0m7-17h0m79-130h0m21-25h0m22-24h0m23-22h0m89-70h0m42-25h0m29-15h0m15-8h0m32-13h0m49-16h0m17-5h0m18-5h0m55-10h0m19-3h0m20-2h0m20-1h0m21-1h0m21 0h0m22 1h0m46 4h0m50 8h0m115 35h0m-893 694h0m-6-57h0m-2-26h0m7-115h0m8-41h0m9-38h0m6-19h0m5-17h0m35-84h0m34-59h0m9-14h0m20-27h0m10-13h0m10-13h0m22-24h0m34-35h0m75-61h0m42-26h0m29-16h0m14-8h0m63-26h0m50-17h0m35-8h0m56-10h0m19-2h0m105-3h0m23 2h0m24 3h0m135 32h0m-888 729h0m-4-29h0m-5-80h0m4-70h0m3-21h0m11-61h0m15-56h0m20-52h0m22-49h0m8-15h0m66-98h0m10-12h0m33-37h0m72-64h0m13-10h0m41-28h0m28-16h0m15-8h0m144-57h0m36-8h0m18-3h0m19-3h0m19-3h0m104-4h0m176 29h0m30 11h0m33 12h0m-934 806h0m-8-34h0m-13-90h0m-3-52h0m2-48h0m4-45h0m20-101h0m11-36h0m28-68h0m7-16h0m34-60h0m18-28h0m20-27h0m10-13h0m11-13h0m22-24h0m22-24h0m49-43h0m80-56h0m29-17h0m15-7h0m15-8h0m80-32h0m17-5h0m168-29h0m187 16h0m87 26h0m-954 639h0m8-91h0m3-20h0m4-21h0m4-20h0m5-19h0m6-19h0m5-18h0m6-18h0m7-17h0m7-17h0m30-64h0m17-30h0m18-29h0m30-41h0m43-50h0m11-12h0m35-34h0m25-21h0m13-10h0m53-37h0m153-74h0m17-5h0m89-22h0m120-11h0m167 19h0m28 7h0m29 9h0m65 25h0m-997 818h0m-15-92h0m-4-79h0m2-48h0m12-86h0m19-77h0m6-18h0m6-18h0m37-83h0m53-88h0m10-13h0m42-51h0m58-58h0m38-31h0m26-20h0m14-9h0m14-9h0m28-18h0m124-56h0m17-6h0m17-5h0m17-5h0m18-5h0m18-4h0m76-12h0m40-4h0m64 0h0m46 3h0m49 6h0m26 5h0m55 13h0m61 21h0m71 32h0m-1052 860h0m-9-36h0m-7-33h0m-6-31h0m-7-134h0m1-24h0m2-23h0m22-124h0m30-90h0m39-80h0m9-15h0m37-57h0m20-27h0m32-38h0m11-12h0m35-35h0m13-11h0m91-69h0m14-9h0m14-9h0m45-24h0m15-7h0m81-32h0m17-6h0m17-5h0m72-16h0m39-6h0m40-4h0m86-1h0m240 51h0"/><path stroke="#6a00a8" d="M2680 2793h0m81-52h0m-232 192h0m17-29h0m9-13h0m121-127h0m113-64h0m156-37h0"/><path class="b" stroke="#6a00a8" d="M2443 3199h0m8-113h0m31-109h0m22-47h0m25-44h0m9-14h0m20-26h0m20-25h0m57-55h0m108-71h0m14-7h0m16-7h0m15-6h0m49-17h0m90-17h0m40-3h0m42 0h0m70 7h0m-654 608h0m63-341h0m9-14h0m8-15h0m9-14h0m9-13h0m86-97h0m247-129h0m18-3h0m18-4h0m38-5h0m40-2h0m21-1h0m117 14h0m56 15h0m-748 674h0m-11-62h0m-3-28h0m0-97h0m2-22h0m27-116h0m6-17h0m82-149h0m31-38h0m58-55h0m25-20h0m67-45h0m60-29h0m48-17h0m34-10h0m36-8h0m37-6h0m60-4h0m65 3h0m24 2h0m77 16h0m60 20h0m-803 688h0m-11-63h0m-5-54h0m1-72h0m8-64h0m9-39h0m5-18h0m11-36h0m14-34h0m7-16h0m23-46h0m18-29h0m9-14h0m10-13h0m9-13h0m21-26h0m81-78h0m25-19h0m41-27h0m28-16h0m77-34h0m33-11h0m108-22h0m61-4h0m115 10h0m82 21h0m-796 724h0m-8-33h0m-8-58h0m-3-77h0m9-88h0m8-39h0m23-73h0m6-17h0m7-16h0m15-32h0m44-72h0m9-14h0m20-26h0m22-24h0m22-24h0m12-11h0m36-31h0m39-29h0m13-9h0m14-9h0m14-8h0m14-8h0m15-8h0m15-7h0m31-14h0m49-17h0m16-5h0m18-5h0m17-4h0m19-4h0m56-8h0m62-3h0m44 2h0m23 2h0m132 30h0m32 11h0m-862 702h0m-5-30h0m-6-56h0m2-97h0m5-42h0m23-97h0m13-34h0m21-49h0m8-16h0m8-15h0m9-15h0m9-14h0m9-14h0m9-14h0m10-14h0m20-25h0m22-25h0m22-23h0m24-22h0m12-11h0m12-10h0m13-10h0m13-10h0m13-9h0m27-18h0m14-8h0m29-16h0m46-21h0m32-13h0m16-5h0m88-22h0m164-8h0m48 6h0m52 11h0m28 7h0m30 10h0m-849 770h0m-7-33h0m-10-60h0m-4-79h0m1-23h0m1-23h0m3-23h0m6-42h0m8-39h0m23-73h0m6-17h0m7-17h0m8-16h0m24-46h0m36-57h0m41-51h0m22-24h0m35-34h0m12-10h0m12-11h0m13-10h0m13-9h0m27-19h0m14-9h0m28-16h0m45-23h0m15-7h0m48-18h0m17-6h0m34-9h0m36-8h0m19-3h0m58-7h0m21-1h0m21-1h0m21 0h0m94 9h0m25 5h0m27 6h0m28 8h0m62 23h0m-906 782h0m-8-34h0m-13-89h0m-1-26h0m0-50h0m1-23h0m8-65h0m4-21h0m9-39h0m5-18h0m11-36h0m7-17h0m14-34h0m7-16h0m25-46h0m9-15h0m9-14h0m9-14h0m9-13h0m10-14h0m32-38h0m11-12h0m22-23h0m12-11h0m12-11h0m25-21h0m39-30h0m13-9h0m28-17h0m59-31h0m15-7h0m16-7h0m49-18h0m17-5h0m35-9h0m94-15h0m20-2h0m21-1h0m21 0h0m44 2h0m24 2h0m24 3h0m24 4h0m26 5h0m27 6h0m-856 771h0m-4-30h0m-5-55h0m-1-50h0m3-46h0m6-43h0m3-21h0m4-20h0m15-57h0m13-36h0m6-17h0m7-17h0m23-47h0m8-16h0m9-15h0m18-28h0m19-28h0m42-51h0m22-24h0m23-23h0m50-42h0m39-29h0m14-9h0m28-16h0m60-31h0m32-13h0m16-6h0m51-16h0m17-5h0m18-4h0m19-3h0m18-4h0m19-3h0m20-2h0m20-2h0m41-2h0m22 0h0m22 1h0m22 1h0m24 3h0m24 3h0m25 4h0m54 12h0m29 9h0m64 23h0m-949 868h0m-12-38h0m-8-35h0m-7-32h0m-5-30h0m-5-56h0m-1-26h0m1-49h0m2-23h0m2-22h0m64-224h0m8-16h0m17-31h0m17-29h0m19-28h0m10-14h0m20-26h0m11-12h0m10-13h0m34-35h0m12-12h0m63-52h0m13-9h0m14-9h0m28-18h0m14-9h0m14-8h0m15-7h0m15-8h0m16-7h0m15-7h0m16-7h0m16-6h0m51-16h0m17-5h0m18-4h0m18-4h0m38-7h0m19-3h0m20-2h0m20-1h0m20-1h0m43-1h0m23 1h0m23 2h0m24 3h0m24 3h0m26 4h0m114 33h0m70 31h0m-1011 875h0m-13-39h0m-16-68h0m-5-31h0m-5-56h0m-2-26h0m1-49h0m3-46h0m3-22h0m3-22h0m8-40h0m5-20h0m5-19h0m24-71h0m14-34h0m8-16h0m16-31h0m9-15h0m8-15h0m10-15h0m9-14h0m29-40h0m11-13h0m11-13h0m22-24h0m11-12h0m11-12h0m12-11h0m25-22h0m38-30h0m55-37h0m43-25h0m16-7h0m30-15h0m16-6h0m16-7h0m160-40h0m40-4h0m41-3h0m21 0h0m45 2h0m47 4h0m78 15h0m58 17h0m65 25h0m-1002 918h0m-38-170h0m-3-27h0m-1-27h0m-1-26h0m6-93h0m3-21h0m4-21h0m4-21h0m14-58h0m6-18h0m6-18h0m7-17h0m14-34h0m7-17h0m8-16h0m8-16h0m44-73h0m20-28h0m21-26h0m10-12h0m34-37h0m12-11h0m36-33h0m13-11h0m12-10h0m13-10h0m14-10h0m13-9h0m57-35h0m15-8h0m46-22h0m16-7h0m16-6h0m16-6h0m69-21h0m17-5h0m19-4h0m37-6h0m81-8h0m21-1h0m22 0h0m45 2h0m23 3h0m25 3h0m25 4h0m26 5h0m27 6h0m29 8h0m30 9h0m66 26h0m37 19h0"/><path class="b" stroke="#7401a8" d="M2839 2635h0m-414 376h0m104-197h0m-85 98h0m339-320h0m74-39h0m-452 317h0m17-30h0m102-129h0m219-142h0m-58 6h0m78-33h0m-451 470h0m263-391h0m13-9h0m131-72h0m-384 351h0m190-253h0m-211 256h0m321-354h0m233-80h0m-610 546h0m92-220h0m9-14h0m555-336h0"/></g><use href="#grid" x="298.6" y="318.1"/><use href="#oval" x="298.6" y="318.1"/><text class="t" x="298.4" y="219.9">jup.7043.01</text><text class="t" x="298.6" y="236.4">2017-03-17 13:02 UT</text><text class="a m" x="298.6" y="259.5">60</text><text class="a m" x="298.6" y="280.2">70</text><text class="a m" x="298.6" y="300.8">80</text><text class="a e" x="229.3" y="282.0">320</text><text class="a" x="367.8" y="280.4">60</text><text class="a e" x="229.3" y="364.1">240</text><text class="a" x="367.8" y="364.1">120</text><g class="d" style="stroke-width:27" transform="scale(.1)"><path stroke="#2a0593" d="M4833 3034h0m19-26h0m22-22h0m-26-33h0m-175 208h0m-27-58h0"/><path stroke="#370499" d="M4863 2997h0m23-22h0m12-9h0m26-17h0m14-7h0m14-7h0m-186 140h0m6-17h0m8-16h0m17-29h0m29-38h0m46-42h0m13-9h0m13-9h0m28-14h0m15-7h0m15-5h0m32-9h0m17-4h0m18-2h0m-308 238h0m16-55h0m40-76h0m30-37h0m23-22h0m24-20h0m40-25h0m75-31h0m89-13h0m-353 208h0m22-47h0m9-15h0m9-14h0m29-38h0m11-12h0m47-41h0m82-47h0m16-6h0m15-6h0m16-4h0m52-11h0m18-2h0m39-1h0m-424 349h0m22-100h0m85-145h0m11-12h0m47-41h0m13-10h0m27-17h0m57-28h0m137-29h0m40 1h0m22 1h0m22 3h0m23 5h0m-524 298h0m117-207h0m35-32h0m140-77h0m49-13h0m54-8h0m59-1h0m-468 220h0"/><path class="b" stroke="#370499" d="M4510 3116h0m7-43h0m35-110h0m241-288h0"/><path stroke="#41049d" d="M4842 3021h0m69-64h0m57-28h0m-208 164h0m28-66h0m18-27h0m10-13h0m21-24h0m23-21h0m52-34h0m130-36h0m-322 221h0m5-19h0m20-50h0m9-15h0m8-14h0m19-27h0m10-12h0m21-23h0m24-21h0m25-19h0m13-8h0m28-16h0m14-6h0m15-7h0m16-5h0m32-9h0m17-4h0m18-2h0m18-2h0m40 0h0m-397 304h0m3-22h0m4-20h0m5-19h0m18-52h0m8-16h0m35-57h0m10-13h0m44-45h0m37-29h0m13-9h0m13-8h0m14-8h0m15-7h0m78-26h0m17-4h0m55-6h0m41 1h0m21 3h0m23 3h0m-490 366h0m4-46h0m8-41h0m5-19h0m12-36h0m7-16h0m7-16h0m8-15h0m9-15h0m9-14h0m9-14h0m10-13h0m10-12h0m32-35h0m12-11h0m12-10h0m38-27h0m28-16h0m28-14h0m31-12h0m32-10h0m17-4h0m17-4h0m18-2h0m18-2h0m39-2h0m-451 419h0m1-25h0m2-23h0m2-22h0m14-59h0m6-19h0m6-17h0m7-17h0m7-16h0m8-15h0m9-15h0m8-15h0m9-13h0m20-27h0m10-12h0m45-45h0m37-29h0m13-9h0m14-8h0m14-8h0m43-21h0m47-17h0m51-11h0m18-3h0m37-3h0m20-1h0m63 5h0m23 4h0m24 5h0m-584 481h0m-2-28h0m0-26h0m3-47h0m3-22h0m4-21h0m4-20h0m5-19h0m6-18h0m7-17h0m7-17h0m7-16h0m8-16h0m8-15h0m9-15h0m9-14h0m19-27h0m10-12h0m32-36h0m12-11h0m24-20h0m51-37h0m28-15h0m29-14h0m31-13h0m16-5h0m16-5h0m34-8h0m35-6h0m19-2h0m19-1h0m20 0h0m20 0h0m43 4h0m47 8h0m25 7h0m27 9h0m-662 488h0m-1-27h0m0-26h0m1-24h0m2-23h0m7-42h0m22-75h0m30-65h0m8-15h0m9-14h0m19-28h0m20-25h0m11-12h0m22-23h0m11-11h0m24-21h0m26-19h0m13-9h0m70-39h0m30-12h0m16-6h0m67-18h0m17-3h0m19-2h0m37-3h0m41 0h0m43 3h0m22 4h0m24 4h0m25 7h0"/><path class="b" stroke="#41049d" d="M4529 3190h0m4-72h0m7-43h0m10-39h0m5-19h0m28-68h0m34-59h0m29-40h0m11-13h0m21-23h0m12-12h0m101-76h0m14-8h0m14-8h0m45-20h0m48-16h0m51-12h0m18-2h0m18-3h0m39-3h0m19 0h0m64 4h0m23 4h0m24 4h0m24 6h0m54 18h0m-732 404h0m13-60h0m32-88h0m73-114h0m80-79h0m12-10h0m13-9h0m26-18h0m42-24h0m30-14h0m15-6h0m16-6h0m48-16h0m70-14h0m38-3h0m39-1h0m21 0h0m21 2h0m45 5h0m24 5h0m108 36h0m-794 484h0m6-69h0m38-134h0m15-32h0m8-16h0m8-15h0m18-29h0m61-78h0m46-44h0m65-48h0m86-44h0m16-7h0m82-24h0m131-13h0m43 2h0m69 11h0m79 23h0m-748 315h0m7-17h0m7-17h0m8-16h0m17-30h0m18-29h0m187-177h0m28-16h0m91-39h0m122-26h0m122 0h0m179 47h0m-845 584h0m39-263h0m30-66h0m45-72h0m41-51h0m23-24h0m11-11h0m75-60h0m56-34h0m212-67h0m38-3h0m-582 508h0m8-42h0m11-39h0m6-19h0m20-52h0m59-107h0m98-110h0m91-67h0m28-16h0m91-40h0m66-20h0m36-7h0m304 24h0m-832 714h0m-10-170h0m23-128h0m75-166h0m39-55h0m21-26h0m82-78h0m138-85h0m15-6h0m-400 721h0m6-282h0m44-127h0m82-131h0m91-94h0m497-152h0m70 12h0m-820 658h0m0-26h0m1-25h0m20-132h0m24-74h0m318-357h0m159-59h0m171-18h0m-707 755h0m-4-84h0m43-235h0m257-331h0m339-121h0m81-2h0m-732 598h0m116-302h0m85-103h0m364-197h0m133-14h0m-705 874h0m0-319h0m22-78h0m7-18h0m82-159h0m348-272h0m388-35h0m133 38h0m63 28h0m-981 285h0m28-44h0m19-29h0m88-100h0"/><path stroke="#4c02a1" d="M4972 2884h0m-234 156h0m-46 19h0m98-155h0m24-21h0m59-77h0m61-24h0m-317 310h0m80-179h0m31-37h0m22-22h0m37-31h0m67-41h0m14-8h0m30-12h0m49-15h0m150-12h0m-516 415h0m88-246h0m30-39h0m11-11h0m35-33h0m24-20h0m13-9h0m13-9h0m27-17h0m29-15h0m29-13h0m65-20h0m34-7h0m117-5h0m45 6h0m-581 387h0m9-40h0m5-19h0m6-19h0m13-34h0m7-17h0m42-74h0m20-27h0m32-36h0m34-33h0m25-20h0m39-27h0m14-8h0m14-8h0m91-37h0m17-5h0m16-4h0m72-11h0m39-2h0m42 2h0m119 25h0"/><path class="b" stroke="#4c02a1" d="M4533 3247h0m-3-30h0m-1-52h0m7-69h0m8-41h0m17-56h0m7-17h0m7-17h0m16-31h0m8-15h0m9-15h0m18-28h0m10-13h0m31-38h0m34-34h0m12-10h0m12-10h0m13-10h0m13-9h0m13-9h0m13-9h0m57-31h0m15-6h0m31-12h0m16-6h0m33-9h0m17-4h0m72-11h0m60 0h0m21 1h0m120 24h0m-704 597h0m-5-31h0m-2-30h0m-1-53h0m1-24h0m14-86h0m10-38h0m6-18h0m7-18h0m22-49h0m8-15h0m9-15h0m9-14h0m9-14h0m10-14h0m10-13h0m20-25h0m11-12h0m11-12h0m12-11h0m11-11h0m12-11h0m51-38h0m70-40h0m61-25h0m17-5h0m33-9h0m35-7h0m37-5h0m38-2h0m84 4h0m72 14h0m26 8h0m28 9h0m-761 580h0m-3-29h0m-1-28h0m1-50h0m2-23h0m7-43h0m4-21h0m5-20h0m6-19h0m6-18h0m6-18h0m14-33h0m33-62h0m18-28h0m10-14h0m10-13h0m10-13h0m33-36h0m12-11h0m11-11h0m25-20h0m12-10h0m13-10h0m13-9h0m27-17h0m14-8h0m29-15h0m15-7h0m46-18h0m16-6h0m17-5h0m17-4h0m34-8h0m18-3h0m18-2h0m19-2h0m39-2h0m41 1h0m44 4h0m23 3h0m49 11h0m26 8h0m58 22h0m-812 623h0m-4-32h0m-3-30h0m-1-28h0m0-26h0m1-24h0m5-46h0m3-21h0m4-21h0m5-20h0m5-19h0m6-19h0m6-18h0m38-82h0m17-30h0m29-41h0m10-13h0m10-13h0m45-47h0m11-11h0m25-21h0m12-9h0m13-10h0m13-9h0m14-9h0m28-16h0m28-16h0m15-7h0m31-13h0m15-6h0m33-10h0m16-5h0m35-8h0m35-6h0m38-4h0m19-1h0m41 0h0m21 1h0m44 4h0m23 4h0m24 5h0m26 6h0m26 8h0m28 10h0m-807 659h0m-5-33h0m-4-109h0m5-46h0m3-22h0m4-21h0m5-20h0m10-39h0m6-18h0m14-35h0m7-17h0m8-16h0m16-31h0m9-15h0m9-14h0m29-42h0m21-25h0m21-24h0m35-34h0m25-21h0m12-10h0m13-9h0m27-18h0m14-9h0m13-8h0m29-15h0m15-7h0m15-7h0m15-7h0m16-6h0m16-5h0m16-6h0m17-4h0m17-5h0m17-4h0m18-3h0m18-3h0m37-5h0m39-2h0m20 0h0m21 0h0m21 1h0m22 2h0m22 3h0m74 16h0m27 8h0m28 10h0m30 13h0m-864 668h0m-5-33h0m-3-30h0m-2-28h0m0-27h0m0-25h0m2-24h0m2-23h0m7-44h0m9-40h0m18-56h0m7-17h0m14-34h0m34-62h0m9-14h0m19-28h0m10-13h0m54-61h0m12-11h0m24-22h0m13-10h0m38-29h0m14-9h0m27-16h0m44-23h0m15-7h0m15-7h0m16-6h0m32-11h0m16-5h0m17-4h0m90-17h0m19-2h0m19-1h0m20 0h0m20 0h0m21 0h0m22 2h0m22 2h0m47 8h0m25 5h0m25 7h0m86 32h0m-883 726h0m-13-70h0m-6-86h0m0-25h0m4-48h0m3-23h0m12-62h0m17-57h0m21-52h0m8-16h0m8-16h0m8-15h0m9-15h0m18-29h0m73-91h0m11-11h0m12-11h0m62-52h0m13-9h0m14-9h0m14-8h0m14-9h0m14-8h0m14-7h0m61-28h0m16-6h0m16-5h0m16-5h0m34-9h0m35-8h0m18-3h0m37-5h0m20-1h0m19-1h0m21 0h0m41 1h0m22 2h0m23 2h0m23 4h0m24 4h0m25 6h0m82 27h0m64 30h0m-964 574h0m0-26h0m1-25h0m2-24h0m3-22h0m3-22h0m4-21h0m10-41h0m5-19h0m13-37h0m6-17h0m8-17h0m15-33h0m8-16h0m9-15h0m18-30h0m49-67h0m11-13h0m11-12h0m23-23h0m12-11h0m12-11h0m24-21h0m13-10h0m13-10h0m27-18h0m14-9h0m14-8h0m14-8h0m14-8h0m30-15h0m15-6h0m16-7h0m15-6h0m17-5h0m16-6h0m17-5h0m17-4h0m17-4h0m17-4h0m18-3h0m19-3h0m18-2h0m39-4h0m40 0h0m21 0h0m22 1h0m45 5h0m23 4h0m76 18h0m27 9h0m30 11h0m65 31h0m-972 754h0m-9-37h0m-6-34h0m-4-32h0m-2-29h0m1-103h0m3-23h0m7-44h0m15-60h0m5-19h0m7-18h0m13-35h0m8-17h0m24-49h0m8-15h0m9-15h0m10-14h0m29-42h0m10-13h0m44-49h0m12-11h0m11-12h0m13-11h0m24-20h0m13-10h0m13-10h0m13-9h0m14-9h0m14-9h0m14-9h0m14-8h0m44-22h0m31-14h0m15-6h0m49-16h0m52-13h0m36-7h0m18-2h0m19-2h0m20-2h0m40-1h0m41 0h0m68 7h0m23 4h0m25 6h0m25 6h0m27 8h0m28 9h0m95 43h0m-1000 776h0m-9-38h0m-6-34h0m-8-90h0m2-76h0m13-89h0m10-40h0m6-19h0m6-19h0m20-53h0m16-33h0m8-16h0m17-30h0m28-44h0m10-13h0m10-14h0m11-13h0m10-13h0m11-12h0m11-12h0m23-24h0m12-11h0m12-11h0m25-21h0m13-10h0m13-9h0m27-19h0m28-17h0m14-8h0m14-8h0m30-15h0m15-7h0m16-7h0m31-12h0m33-11h0m17-4h0m17-5h0m35-8h0m18-3h0m38-5h0m38-3h0m20-1h0m108 5h0m23 4h0m24 4h0m77 20h0m29 10h0m30 12h0m66 32h0m-1028 799h0m-9-39h0m-7-34h0m-7-63h0m-2-55h0m1-51h0m3-24h0m6-44h0m4-22h0m4-20h0m5-21h0m12-38h0m6-18h0m14-36h0m7-17h0m8-16h0m16-32h0m9-16h0m9-15h0m28-43h0m10-14h0m10-13h0m11-13h0m11-13h0m11-12h0m34-36h0m12-11h0m25-21h0m12-11h0m13-10h0m13-10h0m13-9h0m14-9h0m14-9h0m14-9h0m14-8h0m14-8h0m15-7h0m15-8h0m15-7h0m16-6h0m15-7h0m16-6h0m16-6h0m17-5h0m17-5h0m34-9h0m36-7h0m18-3h0m19-3h0m58-5h0m41 0h0m21 0h0m44 3h0m23 3h0m23 4h0m25 5h0m51 12h0m27 9h0m29 10h0m30 12h0m32 15h0m35 18h0m-1056 822h0m-17-75h0m-5-32h0m-5-60h0m0-53h0m1-25h0m2-24h0m3-24h0m3-22h0m4-22h0m9-41h0m5-20h0m6-19h0m19-55h0m15-34h0m8-16h0m8-16h0m9-16h0m9-15h0m18-30h0m19-28h0m10-14h0m11-13h0m10-13h0m11-13h0m22-24h0m24-24h0m12-11h0m12-11h0m12-11h0m39-30h0m27-18h0m14-9h0m14-9h0m43-24h0m30-15h0m16-6h0m47-19h0m34-11h0m17-4h0m17-5h0m18-4h0m17-3h0m19-4h0m37-5h0m39-3h0m20-1h0m20 0h0m21 0h0m22 1h0m22 1h0m22 2h0m23 3h0m49 9h0m52 14h0m27 8h0m60 23h0m-1017 879h0m-11-39h0m-7-36h0m-5-34h0m-3-31h0m-2-29h0m-1-54h0m1-26h0m1-24h0m3-23h0m3-23h0m4-22h0m4-21h0m10-41h0m5-20h0m6-19h0m6-18h0m7-18h0m7-18h0m15-34h0m8-16h0m9-16h0m17-31h0m9-15h0m40-56h0m10-13h0m11-13h0m11-13h0m11-12h0m11-13h0m35-34h0m13-11h0m12-11h0m39-30h0m13-10h0m42-26h0m43-25h0m15-7h0m15-7h0m16-7h0m15-7h0m16-6h0m33-12h0m34-10h0m17-5h0m17-4h0m18-4h0m18-3h0m57-8h0m19-1h0m20-2h0m20 0h0m21 0h0m43 1h0m22 2h0m23 2h0m23 4h0m24 4h0m51 11h0m27 8h0m27 9h0"/><path stroke="#5601a4" d="M4834 2730h0m30-13h0"/><path class="b" stroke="#5601a4" d="M4531 3140h0m-24 49h0m270-481h0m14-8h0m157-58h0m-454 637h0m135-476h0m397-191h0m-556 507h0m106-280h0m41-51h0m11-12h0m11-12h0m35-32h0m151-93h0m97-32h0m35-7h0m95-8h0m-603 606h0m0-26h0m2-49h0m20-105h0m83-180h0m30-40h0m79-80h0m507-134h0m24 6h0m-696 308h0m8-16h0m9-15h0m58-83h0m10-12h0m11-13h0m11-11h0m72-65h0m13-9h0m83-51h0m161-55h0m36-7h0m185 2h0m130 36h0m-870 639h0m-2-29h0m10-144h0m4-21h0m16-58h0m13-37h0m7-17h0m68-122h0m9-14h0m21-26h0m22-25h0m46-45h0m12-11h0m25-20h0m111-68h0m111-41h0m34-8h0m55-10h0m98-4h0m164 26h0m27 9h0m60 24h0m-911 749h0m-14-71h0m-3-31h0m-3-29h0m34-245h0m61-132h0m19-29h0m10-14h0m10-13h0m53-63h0m99-83h0m85-49h0m236-65h0m40-2h0m181 21h0m114 41h0m-952 491h0m8-42h0m51-146h0m8-16h0m45-74h0m10-14h0m31-39h0m11-13h0m11-12h0m59-56h0m136-89h0m30-14h0m47-19h0m17-5h0m86-22h0m94-10h0m107 4h0m180 47h0m32 14h0m-988 660h0m-1-80h0m4-47h0m3-23h0m4-22h0m9-41h0m30-94h0m15-33h0m24-48h0m18-30h0m10-15h0m84-103h0m48-44h0m79-58h0m57-32h0m61-27h0m33-11h0m67-19h0m55-10h0m98-6h0m42 1h0m22 2h0m95 15h0m25 7h0m117 44h0m-1014 711h0m-4-58h0m0-53h0m29-175h0m19-55h0m30-68h0m35-61h0m83-105h0m47-46h0m293-155h0m109-19h0m19-2h0m104 0h0m118 19h0m-902 755h0m-2-56h0m60-295h0m50-95h0m81-108h0m23-24h0m61-55h0m13-10h0m26-19h0m56-35h0m14-8h0m30-15h0m46-21h0m49-17h0m123-28h0m38-5h0m244 20h0m182 74h0m-1114 647h0m20-186h0m45-130h0m69-124h0m87-102h0m61-55h0m13-10h0m40-29h0m14-9h0m28-17h0m14-8h0m108-48h0m34-11h0m106-24h0m18-3h0m121-5h0m139 18h0m110 34h0m31 13h0m33 16h0m36 19h0"/><path class="b" stroke="#6001a6" d="M4882 2524h0m231-20h0"/></g><use href="#grid" x="505.6" y="318.1"/><use href="#oval" x="505.6" y="318.1"/><text class="t" x="505.4" y="219.9">jup.7043.02</text><text class="t" x="505.6" y="236.4">2017-03-17 13:02 UT</text><text class="a m" x="505.6" y="259.5">60</text><text class="a m" x="505.6" y="280.2">70</text><text class="a m" x="505.6" y="300.8">80</text><text class="a e" x="436.3" y="280.7">320</text><text class="a" x="574.8" y="280.1">60</text><text class="a e" x="436.3" y="364.7">240</text><text class="a" x="574.8" y="364.7">120</text><g class="d" style="stroke-width:27" transform="scale(.1)"><path stroke="#0d0887" d="M820 4966h0m263 34h0m55 44h0m42-51h0m-137-118h0m-410 52h0m259-102h0m162-8h0m214 141h0m-717-29h0m508-139h0m-337-11h0m152-35h0m16-1h0m112 7h0m16 2h0m91 28h0m117 66h0m170 217h0m-892-160h0m116-99h0m36-22h0m122-48h0m34-7h0m99-10h0m48 2h0m170 42h0m15 6h0m59 32h0m178 179h0m24 44h0m-875-180h0m94-70h0m37-19h0m87-35h0m199-24h0m187 43h0m15 6h0m131 82h0m55 53h0m66 86h0"/><path class="b" stroke="#0d0887" d="M496 4842h0m77-64h0m74-44h0m18-9h0m35-15h0m153-37h0m66-4h0m49 3h0m16 1h0m63 11h0m122 43h0m159 110h0m14 13h0m13 15h0m-894-14h0m260-169h0m85-22h0m34-5h0m50-5h0m49 0h0m48 4h0m110 24h0m15 5h0m46 17h0m30 14h0m30 16h0m58 38h0m29 22h0m14 12h0m14 12h0m27 28h0m14 15h0m27 32h0m-998 3h0m178-166h0m18-11h0m18-10h0m36-18h0m105-37h0m52-11h0m66-7h0m17-1h0m192 23h0m92 33h0m147 93h0m14 13h0m14 12h0m106 134h0m-1071-58h0m102-112h0m77-57h0m36-21h0m37-19h0m35-15h0m88-28h0m151-18h0m16 0h0m81 7h0m32 5h0m47 12h0m31 9h0m46 17h0m30 14h0m15 7h0m45 25h0m15 10h0m114 94h0m53 63h0m75 129h0m-1143-133h0m236-203h0m36-17h0m53-22h0m35-11h0m17-4h0m86-16h0m50-5h0m33-1h0m33 1h0m64 7h0m80 16h0m31 10h0m31 11h0m30 12h0m46 22h0m59 36h0m29 21h0m98 90h0m79 109h0m-1099-120h0m119-107h0m37-25h0m19-11h0m55-28h0m71-28h0m18-5h0m17-5h0m35-9h0m34-6h0m17-3h0m100-7h0m49 2h0m17 2h0m48 6h0m63 14h0m32 10h0m15 5h0m31 12h0m76 36h0m15 8h0m15 9h0m73 53h0m56 51h0m28 30h0m40 51h0m-1140-10h0m22-29h0m21-26h0m139-122h0m19-12h0m37-22h0m37-19h0m54-22h0m87-27h0m18-4h0m17-3h0m34-6h0m17-2h0m33-2h0m100 1h0m112 18h0m47 13h0m78 30h0m15 7h0m30 16h0m30 17h0m59 40h0m29 23h0m28 25h0m28 28h0m14 15h0m41 49h0m13 18h0m38 61h0m-1129-174h0m60-52h0m113-73h0m54-26h0m36-14h0m36-11h0m17-6h0m35-8h0m17-4h0m52-8h0m34-4h0m16-1h0m17 0h0m50 0h0m82 7h0m95 21h0m32 10h0m15 6h0m16 6h0m15 6h0m31 14h0m149 94h0m14 12h0m14 13h0m29 27h0m-1131 82h0m44-56h0m21-24h0m100-89h0m76-50h0m37-20h0m36-17h0m18-7h0m36-14h0m35-11h0m36-9h0m17-4h0m34-7h0m35-5h0m17-1h0m50-3h0m50 0h0m17 1h0m16 1h0m49 6h0m96 21h0m32 10h0m15 5h0m16 6h0m15 6h0m137 74h0m29 21h0m15 12h0m57 50h0m55 61h0m91 141h0"/><path stroke="#1d068e" d="M1089 5048h0m-220-94h0m-60-20h0m50-12h0m360 117h0m-483-143h0m135-39h0m260 59h0m96 83h0m-538-112h0m187-61h0m127 7h0m191 91h0m41 39h0m-614-63h0m56-39h0m121-50h0m83-14h0m16-1h0m111 9h0m91 29h0m58 30h0m85 65h0m77 100h0m12 22h0m-722-176h0m37-27h0m18-11h0m238-68h0m32 0h0m16 1h0m32 3h0m167 54h0m14 8h0m43 28h0m14 11h0m14 11h0m68 70h0m73 127h0m-760-244h0m125-65h0m17-6h0m34-10h0m33-7h0m330 50h0m58 35h0m56 45h0m28 27h0m64 86h0m-877-64h0m41-48h0m20-19h0m183-112h0m17-6h0m134-26h0m160 13h0m46 13h0m15 5h0m60 26h0m15 7h0m86 58h0m14 12h0m-784 30h0m275-169h0m17-5h0m17-3h0m51-9h0m49-3h0m128 11h0m15 3h0m122 43h0m30 16h0m15 8h0m57 40h0m83 79h0m76 115h0"/><path class="b" stroke="#1d068e" d="M434 4915h0m21-28h0m81-80h0m56-42h0m90-48h0m35-14h0m18-6h0m17-5h0m68-15h0m17-2h0m33-4h0m33-1h0m112 8h0m63 14h0m15 5h0m91 37h0m73 44h0m29 22h0m147 173h0m-1015-69h0m63-74h0m59-52h0m37-27h0m73-41h0m105-39h0m68-14h0m50-6h0m33-1h0m175 23h0m181 84h0m125 115h0m27 34h0m25 39h0m-994-105h0m60-59h0m57-43h0m73-42h0m141-50h0m84-13h0m49-3h0m17 1h0m32 1h0m143 26h0m15 5h0m16 6h0m15 5h0m45 20h0m15 8h0m15 8h0m15 9h0m44 28h0m28 22h0m57 50h0m13 14h0m27 32h0m27 34h0m12 19h0m25 42h0m-1020-154h0m20-19h0m58-49h0m56-37h0m37-20h0m36-17h0m122-39h0m34-6h0m33-4h0m99-3h0m49 4h0m32 4h0m32 7h0m93 28h0m90 43h0m44 28h0m15 11h0m14 10h0m111 110h0m27 35h0m-1104 12h0m65-87h0m41-42h0m20-18h0m38-32h0m38-26h0m74-41h0m36-16h0m17-7h0m36-12h0m52-14h0m34-7h0m17-3h0m50-6h0m99 0h0m16 2h0m16 2h0m48 7h0m16 4h0m16 3h0m139 52h0m30 15h0m116 84h0m14 13h0m14 13h0m41 45h0m40 53h0m49 86h0m-1166-112h0m123-131h0m113-76h0m55-26h0m18-7h0m122-35h0m68-10h0m83-2h0m65 5h0m48 7h0m16 4h0m16 3h0m31 9h0m47 16h0m30 12h0m31 14h0m89 53h0m72 57h0m109 127h0m37 63h0m-1027-256h0m130-74h0m18-7h0m35-14h0m35-11h0m221-27h0m16 0h0m33 3h0m80 13h0m48 12h0m31 10h0m16 6h0m30 12h0m76 38h0m59 38h0m29 22h0m57 51h0m42 44h0m66 91h0m24 45h0m-1249-63h0m23-34h0m22-30h0m22-26h0m61-63h0m20-17h0m39-31h0m19-13h0m19-13h0m92-50h0m36-15h0m89-28h0m52-11h0m17-3h0m101-8h0m66 3h0m81 11h0m48 11h0m139 53h0m15 8h0m30 17h0m30 19h0m15 10h0m15 11h0m113 104h0m27 32h0m14 18h0m13 18h0m-1190-46h0m123-124h0m151-94h0m54-22h0m36-13h0m35-10h0m52-12h0m35-5h0m51-6h0m50-2h0m17 0h0m65 4h0m17 2h0m128 29h0m78 29h0m76 39h0m15 9h0m15 9h0m73 55h0m14 12h0m43 41h0m28 30h0m40 51h0m26 39h0m26 43h0"/><path stroke="#2a0593" d="M973 4992h0m-87-40h0m31-1h0m47 4h0m31 6h0m15 5h0m29 11h0m85 54h0m35-13h0m-360-115h0m33-9h0m97-9h0m181 54h0m42 30h0m14 12h0m-521-25h0m55-41h0m187-60h0m16-1h0m94 9h0m16 3h0m60 20h0m86 49h0m55 49h0m51 68h0m-651-108h0m128-84h0m198-35h0m47 5h0m76 20h0m223 179h0m12 21h0m-715-115h0m57-50h0m141-70h0m67-14h0m191 12h0m30 9h0m74 33h0m29 18h0m83 70h0m26 30h0m-711-65h0m20-18h0m38-29h0m54-34h0m18-9h0m17-8h0m52-20h0m68-15h0m49-6h0m32 0h0m48 2h0m78 15h0m45 14h0m30 13h0m143 98h0m53 61h0m13 18h0m24 42h0m12 23h0m-847-128h0m41-43h0m19-17h0m128-80h0m218-45h0m32 2h0m31 3h0m47 9h0m16 4h0m15 4h0m15 5h0m60 24h0m44 24h0m15 9h0m42 30h0m42 38h0m53 61h0m13 18h0m25 41h0m-809-169h0m37-29h0m73-43h0m18-8h0m69-26h0m34-9h0m34-6h0m16-3h0m130-1h0m78 15h0m61 20h0m75 36h0m57 38h0m42 35h0m14 14h0m14 14h0m13 15h0m26 33h0m13 18h0m25 41h0m23 48h0m11 27h0m-957-167h0m80-82h0m19-15h0m19-14h0m18-12h0m37-22h0m35-18h0m18-8h0m35-13h0m102-24h0m82-6h0m16 0h0m142 22h0m31 10h0m15 6h0m119 62h0m70 57h0m14 13h0m40 46h0m26 35h0m49 89h0"/><path class="b" stroke="#2a0593" d="M476 4863h0m40-40h0m94-69h0m19-11h0m140-55h0m34-8h0m83-10h0m223 32h0m45 18h0m45 22h0m15 8h0m14 9h0m15 9h0m57 43h0m95 103h0m13 18h0m12 20h0m25 44h0m34 81h0m10 34h0m-969-317h0m38-30h0m38-24h0m18-11h0m18-10h0m140-52h0m231-11h0m47 9h0m78 23h0m45 19h0m60 32h0m58 39h0m56 50h0m80 97h0m25 42h0m12 22h0m11 25h0m12 28h0m10 30h0m-1073-208h0m61-65h0m186-120h0m18-7h0m17-6h0m18-6h0m17-5h0m52-13h0m50-7h0m99-4h0m32 2h0m64 10h0m16 3h0m108 35h0m90 46h0m43 30h0m210 279h0m11 30h0m-1108-213h0m139-128h0m145-75h0m18-6h0m17-5h0m17-5h0m52-12h0m34-5h0m66-6h0m66 2h0m16 1h0m95 16h0m32 9h0m30 10h0m46 19h0m45 22h0m117 81h0m14 12h0m14 14h0m27 28h0m66 87h0m13 20h0m24 46h0m-1109-136h0m42-47h0m97-83h0m38-24h0m18-11h0m195-72h0m68-10h0m82-3h0m207 38h0m31 12h0m31 13h0m74 41h0m30 20h0m28 22h0m15 11h0m96 101h0m14 17h0m-1127 27h0m87-110h0m40-39h0m39-32h0m38-27h0m74-42h0m71-31h0m70-21h0m86-15h0m33-3h0m34-2h0m49 1h0m65 7h0m188 56h0m162 105h0m28 25h0m55 60h0m13 17h0m39 57h0m13 21h0m36 73h0m-1150-221h0m21-20h0m135-103h0m36-20h0m296-76h0m17-1h0m16 0h0m82 6h0m16 2h0m279 105h0m15 10h0m72 56h0m83 88h0m89 143h0m12 27h0m-1185-227h0m211-155h0m90-37h0m156-33h0m83-4h0m66 4h0m16 2h0m33 5h0m32 6h0m63 17h0m78 30h0m60 31h0m30 17h0m116 91h0m28 28h0m28 32h0m78 114h0m13 24h0m23 51h0m11 30h0m-1212-284h0m21-19h0m20-18h0m58-45h0m19-13h0m372-121h0m181 13h0m16 4h0m32 7h0m125 46h0m15 7h0m16 8h0m15 8h0m74 48h0m73 59h0m42 42h0m41 49h0"/><path stroke="#370499" d="M830 4999h0m65-12h0m16-1h0m122 26h0m14 7h0m28 18h0m-307-49h0m18-9h0m67-22h0m80-5h0m46 6h0m46 13h0m43 20h0m29 18h0m54 50h0m-429-83h0m36-21h0m134-37h0m16-1h0m31 1h0m47 7h0m30 7h0m30 11h0m58 30h0m14 10h0m14 11h0m13 11h0m27 27h0m13 15h0m-510-76h0m37-26h0m17-11h0m18-9h0m35-16h0m67-18h0m64-6h0m63 5h0m16 3h0m104 38h0m28 17h0m-460-7h0m18-14h0m36-22h0m35-17h0m18-7h0m17-6h0m50-13h0m97-7h0m16 1h0m31 4h0m46 10h0m59 22h0m15 7h0m15 8h0m56 39h0m14 12h0m14 12h0m-494-93h0m52-24h0m34-11h0m34-9h0m16-3h0m81-5h0m32 1h0m16 2h0m61 13h0m90 36h0m28 17h0m15 9h0m55 46h0m40 44h0m49 80h0m-598-231h0m52-21h0m51-14h0m50-8h0m48-3h0m32 1h0m32 3h0m107 28h0m144 88h0m66 75h0m49 84h0m-608-273h0m51-16h0m17-5h0m50-9h0m17-1h0m158 11h0m76 24h0m30 14h0m114 78h0m27 26h0m14 15h0m-751-35h0m58-53h0m37-26h0m141-63h0m34-9h0m33-6h0m17-2h0m49-3h0m187 32h0m30 12h0m45 22h0m85 60h0m55 54h0m75 115h0m-675-280h0m153-37h0m65-3h0m64 5h0m16 3h0m15 3h0m47 11h0m149 70h0m14 9h0m206 288h0m-927-245h0m203-132h0m102-28h0m67-7h0m80 1h0m16 1h0m16 2h0m16 3h0m47 10h0m31 9h0m90 38h0m44 25h0m29 20h0m42 34h0m81 89h0m73 134h0m10 30h0"/><path class="b" stroke="#370499" d="M555 4791h0m231-107h0m149-14h0m17 1h0m79 10h0m31 7h0m210 101h0m42 35h0m55 56h0m13 16h0m75 124h0m-1017-144h0m61-65h0m167-109h0m18-8h0m17-6h0m35-12h0m51-13h0m68-10h0m65-3h0m33 1h0m64 8h0m16 3h0m31 7h0m77 25h0m104 54h0m260 357h0m-1042-287h0m59-52h0m19-15h0m447-116h0m16 2h0m16 3h0m48 10h0m196 87h0m154 144h0m74 128h0m-1065-181h0m434-215h0m17-1h0m532 229h0m77 113h0m-996-214h0m536-139h0m79 19h0m296 182h0m79 103h0m25 44h0m24 49h0m11 28h0m11 31h0m10 34h0m9 40h0m-1197-300h0m62-68h0m448-190h0m349 78h0m103 66h0m85 78h0m116 173h0m23 54h0m-1120-288h0m19-17h0m240-131h0m35-10h0m69-14h0m51-6h0m180 8h0m16 3h0m457 307h0m72 145h0m11 31h0m10 35h0m9 40h0m-1070-487h0m18-11h0m399-91h0m130 19h0m274 133h0m166 181h0m-1248-1h0m245-243h0m37-21h0m529-68h0m443 308h0m26 41h0m37 71h0m11 27h0"/><path stroke="#41049d" d="M846 4995h0m33-7h0m48-2h0m31 3h0m30 7h0m15 4h0m15 6h0m-215-34h0m33-11h0m66-10h0m47 2h0m161 67h0m-370-55h0m35-18h0m51-18h0m17-4h0m32-5h0m48-2h0m47 4h0m31 6h0m30 9h0m44 20h0m14 8h0m109 99h0m-434-148h0m133-30h0m155 25h0m15 6h0m72 41h0m54 49h0m13 15h0m-401-153h0m16-4h0m33-6h0m65-5h0m47 3h0m92 23h0m87 45h0m108 108h0m24 40h0m-625-161h0m19-13h0m53-31h0m52-21h0m34-10h0m50-9h0m48-3h0m110 12h0m30 8h0m30 11h0m30 13h0m29 16h0m71 51h0m40 41h0m-646-61h0m128-82h0m17-7h0m182-31h0m63 6h0m31 7h0m91 31h0m14 7h0m58 36h0m14 10h0m107 116h0m-555-213h0m68-18h0m177-3h0m16 3h0m61 17h0m118 58h0m148 157h0m-689-196h0m18-10h0m18-9h0m284-50h0m351 193h0m-739-108h0m312-113h0m48 1h0m399 205h0m-476-228h0m547 290h0"/><path class="b" stroke="#41049d" d="M999 4675h0m125 32h0m15 6h0m329 334h0m-497-394h0m232 69h0m-377-85h0m567 212h0m89 135h0m44 116h0m-1017-347h0m820 6h0m195 272h0m21 65h0m-646-504h0m361 95h0m34-1h0m30 20h0m249 347h0m19 75h0m-1278-243h0m167-183h0m619-124h0m78 26h0m61 28h0m302 257h0m37 71h0m43 123h0m-578-557h0m597 555h0m9 41h0"/><path stroke="#4c02a1" d="M942 4987h0m112-3h0m-262-44h0m163-20h0m105 29h0m-367 8h0m172-69h0m16-1h0m64-1h0m16 2h0m46 8h0m15 5h0m15 4h0m44 19h0m151 133h0m8-42h0m-147-153h0m87 51h0m-522-40h0m37-22h0m137-48h0m382 101h0m-36-60h0m-239-101h0m468 348h0m-769-299h0"/><path class="b" stroke="#4c02a1" d="M1535 5062h0m48 26h0m28-41h0m9-34h0m10 32h0"/><path stroke="#5601a4" d="M863 4991h0m-47-93h0m428 179h0m30-66h0"/><path class="b" stroke="#5601a4" d="M1630 5123h0"/><path stroke="#6001a6" d="M1061 5028h0m-100-230h0"/></g><use href="#grid" x="91.5" y="526.3"/><use href="#oval" x="91.5" y="526.3"/><text class="t" x="91.3" y="428.1">jup.8009.01</text><text class="t" x="91.5" y="444.6">2017-03-18 10:20 UT</text><text class="a m" x="91.5" y="467.7">60</text><text class="a m" x="91.5" y="488.3">70</text><text class="a m" x="91.5" y="509.0">80</text><text class="a e" x="22.2" y="490.0">320</text><text class="a" x="160.7" y="489.1">60</text><text class="a e" x="22.2" y="572.1">240</text><text class="a" x="160.7" y="574.0">120</text><g class="d" style="stroke-width:27" transform="scale(.1)"><path stroke="#0d0887" d="M3180 4932h0m82 64h0m-61-88h0m50-2h0m-604 27h0m40-37h0m199-95h0m-272 127h0m119-97h0m445-30h0m128 77h0m-703 24h0m278-155h0m164-7h0m32 4h0m151 51h0m15 8h0m14 8h0m14 9h0m56 42h0m116 138h0m22 45h0m-896-143h0m21-24h0m61-54h0m76-49h0m243-64h0m336 102h0m28 21h0m67 65h0m106 183h0m-951-202h0m21-23h0m61-53h0m19-14h0m38-25h0m56-28h0m71-26h0m18-5h0m68-14h0m99-5h0m16 1h0m17 1h0m16 2h0m31 5h0m62 14h0m311 225h0m12 18h0"/><path class="b" stroke="#0d0887" d="M2542 4860h0m62-59h0m20-16h0m77-49h0m18-10h0m73-30h0m52-16h0m18-3h0m51-9h0m50-4h0m65 1h0m32 3h0m16 2h0m16 3h0m93 25h0m15 5h0m45 19h0m30 16h0m14 8h0m58 38h0m82 75h0m51 64h0m12 19h0m12 19h0m-977-113h0m21-23h0m21-20h0m20-17h0m20-16h0m20-15h0m39-25h0m74-38h0m54-20h0m17-5h0m35-10h0m35-6h0m17-3h0m33-4h0m67-2h0m32 2h0m16 1h0m17 2h0m78 15h0m122 46h0m29 16h0m15 9h0m57 39h0m14 11h0m14 12h0m105 119h0m-1033-23h0m88-100h0m41-34h0m114-71h0m212-60h0m16-2h0m50-2h0m33 1h0m49 5h0m47 8h0m16 3h0m77 24h0m16 6h0m45 20h0m14 7h0m44 26h0m15 9h0m84 68h0m40 42h0m13 15h0m13 17h0m13 17h0m-1010-68h0m103-93h0m20-14h0m38-24h0m38-20h0m18-9h0m19-8h0m18-7h0m18-7h0m18-6h0m35-10h0m52-11h0m102-10h0m49 1h0m16 1h0m17 2h0m32 4h0m63 13h0m16 5h0m61 21h0m30 12h0m15 7h0m15 8h0m15 8h0m29 17h0m86 63h0m13 13h0m28 26h0m13 14h0m26 31h0m13 17h0m38 55h0m34 66h0m-1126-150h0m22-27h0m43-44h0m21-18h0m20-17h0m20-16h0m20-13h0m38-25h0m94-46h0m18-6h0m18-7h0m18-5h0m17-6h0m18-4h0m69-13h0m17-2h0m17-2h0m100-1h0m49 5h0m48 8h0m31 7h0m16 4h0m31 10h0m31 11h0m45 20h0m15 8h0m30 16h0m58 37h0m14 11h0m28 22h0m14 12h0m28 26h0m40 44h0m25 33h0m26 37h0m-1093-97h0m43-44h0m42-36h0m20-16h0m96-61h0m74-33h0m18-6h0m36-12h0m18-4h0m18-5h0m17-4h0m35-6h0m68-7h0m50-1h0m33 2h0m33 3h0m16 2h0m16 2h0m32 6h0m32 7h0m15 5h0m47 15h0m61 25h0m30 15h0m15 8h0m29 18h0m29 19h0m29 21h0m28 24h0m27 25h0m27 28h0m14 15h0m13 15h0m26 34h0m25 37h0m-1175-42h0m24-32h0m23-27h0m64-65h0m81-61h0m76-44h0m92-37h0m53-16h0m18-4h0m87-14h0m84-3h0m16 1h0m17 1h0m16 1h0m16 2h0m33 5h0m16 2h0m32 7h0m31 8h0m108 40h0m60 32h0m15 9h0m44 29h0m28 22h0m42 36h0m41 42h0m52 65h0m37 59h0m-1154-151h0m22-22h0m141-107h0m19-11h0m38-19h0m73-30h0m90-24h0m69-11h0m17-2h0m68-3h0m33 1h0m49 4h0m81 14h0m32 9h0m15 4h0m16 5h0m47 17h0m60 28h0m30 17h0m15 8h0m15 10h0m29 19h0m14 11h0m98 88h0m13 14h0m40 49h0m13 18h0m12 19h0m13 20h0m12 20h0m12 22h0m11 24h0m-1235-177h0m22-25h0m84-77h0m40-30h0m39-25h0m113-55h0m19-7h0m18-6h0m36-11h0m18-4h0m35-8h0m18-4h0m34-5h0m52-5h0m34-1h0m16 0h0m34 1h0m33 3h0m33 4h0m16 2h0m64 14h0m47 14h0m47 17h0m46 20h0m15 7h0m15 8h0m74 46h0m43 32h0m29 24h0m14 13h0m54 57h0m52 68h0m25 39h0m24 44h0"/><path stroke="#1d068e" d="M2911 4990h0m17-4h0m49-6h0m-127-5h0m18-7h0m282 23h0m68 54h0m-308-125h0m367 146h0m-262-186h0m92 19h0m205 161h0m-244-204h0m215 118h0m62 82h0m12 21h0m11 23h0m-557-245h0m69-24h0m51-9h0m16-2h0m112 4h0m16 3h0m90 29h0m43 22h0m56 38h0m66 66h0m-296-190h0m167 49h0m71 45h0m27 22h0m27 26h0m51 62h0m12 19h0m-694-159h0m57-35h0m36-18h0m53-19h0m34-9h0m100-12h0m17 0h0m16 0h0m16 1h0m63 9h0m15 3h0m46 13h0m44 18h0m44 23h0m97 73h0m100 135h0m-750-206h0m19-13h0m19-11h0m55-28h0m53-20h0m35-9h0m67-12h0m130 3h0m77 17h0m16 5h0m15 5h0m15 6h0m15 6h0m86 49h0m69 56h0m27 28h0m25 31h0m25 36h0m45 89h0m-806-260h0m20-13h0m127-60h0m69-17h0m34-5h0m33-3h0m82 1h0m31 4h0m78 17h0m119 52h0m57 37h0m119 125h0m12 18h0m-853-129h0m116-82h0m19-10h0m72-29h0m52-15h0m68-11h0m17-2h0m177 14h0m15 4h0m46 14h0m15 6h0m30 13h0m15 7h0m29 15h0m29 17h0m28 20h0m14 11h0m28 23h0m27 25h0m13 14h0m26 30h0m13 16h0m60 100h0m11 24h0"/><path class="b" stroke="#1d068e" d="M2563 4838h0m81-67h0m38-25h0m56-29h0m18-8h0m123-36h0m17-3h0m50-5h0m33-2h0m33 1h0m32 2h0m64 10h0m16 3h0m15 4h0m91 33h0m88 48h0m14 10h0m42 32h0m14 12h0m14 13h0m114 152h0m22 47h0m30 88h0m-919-374h0m129-64h0m53-16h0m35-8h0m84-11h0m66 0h0m143 24h0m31 9h0m30 12h0m15 6h0m45 22h0m72 46h0m82 72h0m40 46h0m72 118h0m22 51h0m-1079-189h0m22-26h0m103-92h0m20-14h0m19-12h0m19-11h0m19-10h0m37-18h0m18-8h0m36-13h0m18-6h0m17-5h0m35-8h0m35-7h0m149-6h0m17 2h0m110 22h0m16 4h0m15 5h0m61 25h0m59 31h0m43 28h0m42 33h0m41 38h0m78 96h0m12 19h0m12 21h0m-1092-69h0m89-101h0m20-18h0m20-16h0m97-64h0m180-64h0m34-6h0m34-4h0m34-2h0m33-1h0m114 11h0m16 3h0m15 3h0m212 91h0m14 10h0m43 32h0m81 80h0m39 50h0m36 59h0m12 22h0m-1139-96h0m68-81h0m178-131h0m19-9h0m178-55h0m68-7h0m34-1h0m16 0h0m98 8h0m16 3h0m78 19h0m31 11h0m120 57h0m15 9h0m14 10h0m177 176h0m37 59h0m-992-247h0m38-25h0m94-47h0m142-42h0m35-5h0m17-2h0m17-2h0m34-1h0m241 35h0m46 18h0m16 6h0m104 57h0m28 21h0m29 22h0m28 24h0m80 88h0m25 35h0m60 107h0m-1153-213h0m21-21h0m42-37h0m20-16h0m59-40h0m19-12h0m94-44h0m18-7h0m36-12h0m18-5h0m53-13h0m17-3h0m17-2h0m17-3h0m68-5h0m17 0h0m147 15h0m94 27h0m16 6h0m15 6h0m61 28h0m59 35h0m14 10h0m29 21h0m42 35h0m41 40h0m27 29h0m13 16h0m39 53h0m12 19h0m24 42h0m-1062-263h0m40-26h0m94-50h0m73-28h0m18-5h0m18-5h0m71-15h0m85-8h0m17-1h0m33 1h0m50 3h0m33 3h0m32 6h0m16 3h0m110 32h0m31 13h0m15 6h0m15 8h0m30 15h0m103 68h0m28 23h0m14 13h0m68 71h0m-1160 7h0m89-95h0m61-51h0m40-27h0m39-23h0m38-19h0m37-17h0m73-27h0m106-23h0m35-5h0m17-1h0m199 10h0m32 7h0m79 23h0m16 6h0m46 19h0m90 48h0m14 10h0m72 54h0m56 52h0m54 62h0m38 55h0m24 41h0"/><path stroke="#2a0593" d="M2945 4983h0m79 0h0m16 2h0m15 3h0m59 22h0m42 26h0m-64-73h0m99 57h0m39 40h0m-407-109h0m153-39h0m48 1h0m162 61h0m27 21h0m27 25h0m13 14h0m12 15h0m-470-119h0m36-18h0m35-14h0m51-13h0m82-6h0m31 3h0m62 12h0m143 77h0m13 12h0m-500-60h0m242-75h0m109 16h0m74 29h0m56 34h0m67 61h0m-578-80h0m75-45h0m121-39h0m176 7h0m30 8h0m30 11h0m30 13h0m14 7h0m111 83h0m13 14h0m72 110h0m-627-231h0m157-51h0m66-5h0m64 4h0m15 3h0m31 6h0m15 4h0m31 9h0m15 6h0m29 12h0m214 201h0m-744-148h0m114-75h0m53-22h0m119-26h0m17-1h0m81 2h0m15 2h0m16 3h0m46 10h0m16 4h0m74 30h0m113 76h0m27 26h0m13 14h0m95 157h0m9 29h0m-724-319h0m158-53h0m66-7h0m17-1h0m16 0h0m16 1h0m16 1h0m63 9h0m31 7h0m176 86h0m42 34h0m26 26h0m26 29h0m61 93h0m32 76h0m-855-258h0m77-54h0m37-20h0m37-16h0m53-18h0m68-15h0m83-6h0m64 4h0m63 11h0m16 4h0m75 26h0m15 7h0m15 7h0m15 7h0m43 26h0m69 55h0m14 13h0m13 14h0m39 46h0m36 55h0m34 68h0m20 58h0m-984-206h0m144-129h0m92-48h0m18-7h0m104-27h0m84-8h0m16 0h0m80 6h0m94 22h0m89 38h0m100 67h0m130 153h0m12 21h0m32 74h0"/><path class="b" stroke="#2a0593" d="M2520 4886h0m289-196h0m18-5h0m103-19h0m225 22h0m60 21h0m200 135h0m27 29h0m-756-152h0m19-10h0m19-9h0m36-15h0m157-39h0m50-4h0m16 0h0m113 10h0m16 3h0m16 3h0m46 13h0m31 11h0m118 60h0m15 9h0m69 57h0m41 41h0m13 15h0m62 89h0m12 22h0m22 47h0m-1024-211h0m231-149h0m71-21h0m34-8h0m35-5h0m197 5h0m139 42h0m59 30h0m72 47h0m14 11h0m28 23h0m41 40h0m143 248h0m-1123-226h0m164-146h0m303-98h0m67-1h0m175 30h0m16 5h0m15 6h0m177 98h0m55 49h0m91 111h0m69 138h0m-945-374h0m56-27h0m125-40h0m18-4h0m102-11h0m50 0h0m32 2h0m17 2h0m80 13h0m108 36h0m60 28h0m101 68h0m42 36h0m27 27h0m40 46h0m73 117h0m-1150-133h0m86-90h0m80-60h0m76-43h0m19-9h0m72-27h0m207-33h0m33 1h0m223 46h0m61 27h0m44 25h0m142 112h0m115 157h0m12 22h0m22 50h0m10 28h0m-1071-356h0m77-47h0m38-19h0m18-8h0m230-55h0m149 5h0m80 16h0m31 9h0m16 5h0m61 23h0m31 15h0m29 15h0m116 80h0m42 39h0m140 196h0m-1246-111h0m23-32h0m23-28h0m65-66h0m21-17h0m60-45h0m133-71h0m18-7h0m90-27h0m35-8h0m86-10h0m166 8h0m64 13h0m63 20h0m165 83h0m58 43h0m42 38h0m164 239h0m-1202-249h0m42-39h0m138-92h0m182-67h0m139-17h0m50 0h0m33 1h0m98 14h0m64 17h0m153 66h0m15 8h0m73 50h0m70 61h0m54 60h0m26 34h0m125 273h0"/><path stroke="#370499" d="M2961 4981h0m124 17h0m14 6h0m-196-48h0m16-4h0m50-7h0m108 13h0m45 17h0m83 57h0m-400-70h0m54-27h0m17-6h0m17-5h0m34-8h0m16-2h0m127 8h0m15 4h0m44 16h0m43 23h0m28 19h0m27 23h0m-469-53h0m19-13h0m37-21h0m35-16h0m52-15h0m50-8h0m16-1h0m110 10h0m74 26h0m14 8h0m29 16h0m14 10h0m14 10h0m53 50h0m12 15h0m-578-71h0m20-16h0m38-27h0m36-20h0m36-16h0m17-6h0m18-5h0m67-13h0m65-2h0m108 19h0m29 11h0m15 7h0m29 14h0m70 49h0m-579-7h0m59-47h0m37-23h0m54-25h0m18-6h0m17-5h0m117-18h0m16 1h0m32 1h0m15 2h0m62 13h0m30 9h0m143 84h0m13 12h0m88 115h0m-712-142h0m59-45h0m19-12h0m36-20h0m18-8h0m53-19h0m85-17h0m16-1h0m17-1h0m32 0h0m16 1h0m212 66h0m14 9h0m14 10h0m54 45h0m27 27h0m13 15h0m60 94h0m11 24h0m-787-175h0m40-36h0m182-91h0m34-8h0m17-3h0m254 27h0m59 26h0m43 26h0m28 20h0m92 94h0m13 17h0m12 19h0m12 20h0m22 45h0m-821-181h0m21-19h0m150-89h0m18-7h0m35-11h0m68-14h0m33-3h0m265 50h0m206 174h0m-808-104h0m153-100h0m35-15h0m53-15h0m17-5h0m68-10h0m65-2h0m16 1h0m141 27h0m15 5h0m15 6h0m89 44h0m70 52h0m138 184h0m-868-210h0m256-122h0m410 72h0m28 18h0m226 310h0m9 33h0"/><path class="b" stroke="#370499" d="M2584 4818h0m79-60h0m111-56h0m396-10h0m90 38h0m44 25h0m57 40h0m94 94h0m12 17h0m60 99h0m22 51h0m10 30h0m-1054-212h0m575-223h0m170 52h0m171 120h0m65 76h0m25 36h0m-540-310h0m33 0h0m81 7h0m469 339h0m22 48h0m30 91h0m-1088-309h0m389-191h0m166 1h0m171 47h0m75 37h0m297 377h0m9 34h0m8 37h0m-369-498h0m228 168h0m77 104h0m35 68h0m11 25h0m20 58h0m-1217-208h0m228-205h0m402-86h0m65 9h0m32 7h0m47 12h0m462 468h0m17 72h0m-718-589h0m604 284h0m85 145h0m11 26h0m37 133h0m-1153-455h0m117-73h0m234-73h0m622 213h0m54 61h0m128 252h0m9 35h0m8 39h0m-1342-303h0m709-317h0m113 22h0m93 33h0m150 85h0m112 101h0m137 215h0"/><path stroke="#41049d" d="M2993 4980h0m77 13h0m58 25h0m-192-69h0m96-1h0m15 3h0m15 3h0m45 15h0m57 31h0m14 9h0m-337-66h0m151-32h0m16 1h0m46 6h0m46 12h0m44 19h0m14 7h0m-274-63h0m99-14h0m63 5h0m15 3h0m61 17h0m178 138h0m-515-142h0m36-18h0m70-23h0m33-6h0m49-5h0m64 3h0m16 3h0m30 6h0m46 13h0m86 44h0m28 20h0m66 66h0m25 34h0m-578-154h0m141-56h0m67-8h0m48 0h0m211 68h0m14 9h0m106 102h0m12 17h0m45 87h0m-693-221h0m110-60h0m18-6h0m34-10h0m34-8h0m224 14h0m88 38h0m70 48h0m79 82h0m-650-136h0m212-77h0m353 91h0m94 88h0m-709-99h0m94-58h0m350-38h0m205 100h0m-231-131h0m16 3h0m377 285h0m-517-320h0m145 12h0m107 33h0m172 112h0m39 42h0"/><path class="b" stroke="#41049d" d="M2996 4664h0m582 417h0m-1004-306h0m574-130h0m417 349h0m22 53h0m27 100h0m-811-516h0m573 102h0m219 282h0m-972-324h0m1002 347h0m-1139-260h0m1102 134h0m75 187h0m-623-569h0m632 470h0m11 29h0m-1007-453h0m994 369h0m22 53h0m20 61h0m17 75h0"/><path stroke="#4c02a1" d="M2894 4995h0m275 52h0m13 12h0m-297-98h0m67-14h0m49-2h0m15 1h0m120 37h0m-176-71h0m79 3h0m76 21h0m-181-53h0m202 27h0m187 170h0m-415-224h0m113-6h0m-323 74h0m669 110h0m-286-235h0m90 29h0m262 279h0m-183-269h0m164 76h0"/><path class="b" stroke="#4c02a1" d="M3587 5114h0m-633-489h0m-115-3h0m805 480h0m8 38h0m21-77h0m9 34h0m20-70h0"/><path stroke="#5601a4" d="M3142 5027h0m-157-82h0m-28-96h0m313 112h0m51 58h0m-515-223h0"/><path class="b" stroke="#5601a4" d="M3663 5032h0"/><path stroke="#6001a6" d="M3009 4981h0"/></g><use href="#grid" x="298.6" y="526.3"/><use href="#oval" x="298.6" y="526.3"/><text class="t" x="298.4" y="428.1">jup.8009.02</text><text class="t" x="298.6" y="444.6">2017-03-18 10:20 UT</text><text class="a m" x="298.6" y="467.7">60</text><text class="a m" x="298.6" y="488.3">70</text><text class="a m" x="298.6" y="509.0">80</text><text class="a e" x="229.3" y="488.4">320</text><text class="a" x="367.8" y="488.4">60</text><text class="a e" x="229.3" y="574.0">240</text><text class="a" x="367.8" y="574.0">120</text><g class="d" style="stroke-width:27" transform="scale(.1)"><path class="b" stroke="#41049d" d="M4647 5836h0m-14 12h0m-14 12h0"/><path class="b" stroke="#4c02a1" d="M4692 5844h0m1010-300h0m-967 346h0m-57-33h0m16 31h0m-43-6h0"/><path stroke="#5601a4" d="M5557 5320h0"/><path class="b" stroke="#5601a4" d="M5622 5360h0m5 69h0m-29 78h0m4 36h0m-125 167h0m195-304h0m-26 83h0m-8 19h0m65-306h0m-12 202h0m-6 22h0m-40 153h0m-39 63h0m-901 189h0m891-145h0m-935 138h0m1094-479h0m-117 315h0m-930 215h0m1070-623h0m-49 272h0m-954 404h0m-26-12h0m-27-13h0m-57-33h0m1024-224h0m-30 46h0m-872 260h0m-25-10h0m-26-12h0m-27-13h0m-28-16h0"/><path stroke="#6001a6" d="M5471 5334h0m34-37h0m-3 27h0m59-62h0m-12 107h0m-17 63h0m46-80h0"/><path class="b" stroke="#6001a6" d="M5608 5244h0m-1 61h0m-17 98h0m-61 146h0m-74 96h0m175-398h0m0 32h0m-2 29h0m-2 27h0m-9 49h0m-5 22h0m-27 80h0m-142 201h0m207-439h0m0 31h0m-4 57h0m-13 72h0m33-73h0m-13 73h0m-19 63h0m-8 19h0m-82 145h0m-56 64h0m200-457h0m-4 90h0m-7 51h0m-11 45h0m-13 42h0m-40 91h0m-9 16h0m-9 16h0m-51 72h0m-11 13h0m-59 59h0m232-499h0m0 33h0m-3 58h0m-24 119h0m-13 41h0m-8 19h0m-43 86h0m-29 46h0m-32 41h0m-11 13h0m-35 36h0m-24 23h0m-767 65h0m-30-20h0m1036-565h0m1 34h0m-1 30h0m-2 28h0m-36 163h0m-50 107h0m-19 32h0m-20 29h0m-10 14h0m-11 14h0m-11 13h0m-11 13h0m-12 12h0m-12 12h0m-114 92h0m-682 22h0m-59-37h0m1064-619h0m3 101h0m-2 29h0m-2 27h0m-14 73h0m-12 44h0m-21 60h0m-17 36h0m-56 96h0m-10 14h0m-33 41h0m-11 13h0m-36 36h0m-12 11h0m-64 51h0m-13 9h0m-664 55h0m-26-12h0m1012-619h0m0 32h0m-8 83h0m-10 48h0m-5 23h0m-6 21h0m-7 21h0m-7 20h0m-41 91h0m-9 17h0m-10 16h0m-9 16h0m-111 132h0m-77 62h0m-27 18h0m-552 88h0m-94-31h0m-25-12h0m1015-684h0m1 66h0m-4 58h0m-4 26h0m-9 49h0m-5 23h0m-13 44h0m-30 77h0m-26 52h0m-39 63h0m-10 14h0m-11 15h0m-11 13h0m-11 14h0m-11 13h0m-23 24h0m-12 12h0m-12 12h0m-25 22h0m-122 83h0m-237 79h0m-167 5h0m794-809h0m4 38h0m2 36h0m-7 117h0m-4 26h0m-5 24h0m-5 24h0m-6 22h0m-20 63h0m-16 38h0m-8 18h0m-17 35h0m-29 48h0m-10 15h0m-21 30h0m-10 14h0m-11 13h0m-12 13h0m-11 13h0m-12 13h0m-48 46h0m-26 22h0m-39 29h0m-84 51h0m-60 27h0m-79 28h0m-17 4h0m-176 23h0m-78-3h0m-41-5h0m-86-19h0m-23-7h0m-24-8h0"/><path stroke="#6a00a8" d="M5474 5309h0m-8 48h0m32-9h0m36-66h0m-2 28h0m-3 26h0m-4 24h0m-6 22h0m41-90h0m-6 53h0m-10 46h0m-27 78h0m68-198h0m-1 29h0m-3 27h0m-8 49h0m-5 22h0"/><path class="b" stroke="#6a00a8" d="M5608 5276h0m-4 56h0m-4 25h0m-4 23h0m-25 84h0m-24 53h0m-28 47h0m-10 15h0m-21 28h0m-44 49h0m156-208h0m-7 19h0m-16 37h0m-36 66h0m-9 15h0m-10 14h0m-21 27h0m-22 26h0m-12 12h0m182-451h0m0 95h0m-11 77h0m-17 65h0m-15 39h0m-16 36h0m-18 33h0m-19 31h0m-9 15h0m-11 14h0m-10 13h0m-22 27h0m-11 12h0m-12 12h0m-12 11h0m-24 22h0m226-504h0m2 35h0m0 32h0m-2 29h0m-6 53h0m-15 69h0m-6 21h0m-22 58h0m-8 18h0m-27 50h0m-19 31h0m-10 14h0m-21 28h0m-11 13h0m-11 13h0m-12 12h0m-36 34h0m-12 11h0m-12 10h0m-26 20h0m272-555h0m2 68h0m-1 29h0m-6 54h0m-21 91h0m-38 95h0m-37 64h0m-20 30h0m-10 13h0m-34 40h0m-11 12h0m-12 12h0m-49 43h0m-53 37h0m-696-10h0m999-430h0m-4 25h0m-22 89h0m-23 57h0m-17 36h0m-9 16h0m-18 32h0m-10 15h0m-21 29h0m-10 14h0m-34 38h0m-11 13h0m-24 23h0m-25 21h0m-52 39h0m-41 26h0m343-631h0m-7 181h0m-5 24h0m-5 23h0m-6 22h0m-6 21h0m-14 39h0m-8 19h0m-8 18h0m-9 18h0m-27 49h0m-133 157h0m-12 11h0m-13 10h0m-26 19h0m-682 54h0m981-634h0m1 34h0m-9 113h0m-5 24h0m-10 46h0m-21 62h0m-15 37h0m-26 52h0m-10 16h0m-9 16h0m-10 15h0m-42 57h0m-34 38h0m-12 12h0m-36 34h0m-13 10h0m-13 11h0m-53 37h0m-14 9h0m-28 16h0m-29 14h0m-530 27h0m-24-9h0m-79-38h0m1036-675h0m3 37h0m-1 95h0m-49 207h0m-16 37h0m-8 17h0m-58 95h0m-10 14h0m-11 14h0m-22 27h0m-12 12h0m-11 13h0m-12 12h0m-24 22h0m-13 11h0m-13 11h0m-26 20h0m-54 36h0m-28 16h0m-14 8h0m-15 7h0m-45 20h0m-47 17h0m-48 13h0m-34 7h0m-202 10h0m-20-3h0m-63-11h0m-68-19h0m-24-8h0m962-744h0m3 135h0m-26 148h0m-13 42h0m-15 39h0m-17 36h0m-9 18h0m-18 33h0m-10 16h0m-10 15h0m-76 96h0m-48 47h0m-25 21h0m-13 10h0m-27 20h0m-13 9h0m-14 9h0m-14 9h0m-14 8h0m-28 15h0m-15 8h0m-15 7h0m-93 35h0m-16 4h0m-50 12h0m-52 8h0m-72 6h0m-19 0h0m-19 0h0m-20-1h0m-102-13h0m-22-5h0m-22-6h0m-46-14h0m973-667h0m-4 59h0m-29 144h0m-7 20h0m-15 40h0m-24 55h0m-19 33h0m-130 167h0m-63 54h0m-13 10h0m-41 27h0m-13 9h0m-58 31h0m-15 7h0m-46 20h0m-15 5h0m-16 6h0m-16 5h0m-118 25h0m-17 3h0m-18 1h0m-19 2h0m-95-1h0m-103-14h0m-22-5h0"/><path stroke="#7401a8" d="M5437 5341h0m-11 42h0m35-4h0m32-8h0m-5 21h0m-7 20h0m32-9h0m-6 20h0m31-11h0m-14 39h0m-16 35h0m-8 17h0m62-84h0m-7 20h0m-7 19h0m-8 18h0m-8 18h0m-8 17h0m-19 32h0m-9 14h0m-20 29h0m-11 13h0m-34 37h0m-11 12h0"/><path class="b" stroke="#7401a8" d="M5584 5424h0m-6 20h0m-15 38h0m-8 18h0m-17 33h0m-60 87h0m-58 59h0m186-252h0m-37 95h0m-18 32h0m-40 59h0m-21 26h0m-35 37h0m-24 22h0m-12 10h0m-13 10h0m-13 10h0m-13 9h0m263-376h0m-29 109h0m-33 72h0m-18 32h0m-51 71h0m-58 60h0m-50 40h0m-13 9h0m-14 9h0m281-379h0m-65 176h0m-18 32h0m-148 160h0m-40 28h0m-645 10h0m-30-18h0m918-246h0m-55 97h0m-89 103h0m-24 22h0m-26 20h0m-13 9h0m-13 10h0m-27 17h0m-653 0h0m975-503h0m-63 243h0m-184 229h0m-13 10h0m-39 28h0m-14 9h0m-43 23h0m-29 14h0m-522 3h0m-52-26h0m972-482h0m-200 394h0m-13 11h0m-50 42h0m-27 19h0m-27 17h0m-14 8h0m-14 8h0m-14 8h0m-15 7h0m-30 13h0m-46 17h0m-365 17h0m-45-12h0m-47-17h0m-25-10h0m919-387h0m-40 92h0m-201 235h0m-68 45h0m-28 15h0m-30 14h0m-15 7h0m-15 6h0m-31 11h0m-48 15h0m-138 21h0m-115-4h0m-84-15h0m855-533h0m-152 320h0m-108 104h0m-40 29h0m-42 25h0m-58 30h0m-15 7h0m-30 12h0m-16 5h0m-32 11h0m-49 12h0m-69 11h0m-54 5h0m-57-1h0m-80-8h0m-21-3h0m-66-16h0m908-546h0m-283 452h0m-142 81h0m-30 13h0m-16 5h0m-16 6h0m-48 14h0m-17 4h0m-104 15h0m-19 1h0m-115-3h0m-21-3h0m-21-3h0m-87-21h0m-48-16h0m996-629h0m-215 476h0m-24 23h0m-25 22h0m-66 50h0m-42 25h0m-14 8h0m-59 29h0m-127 42h0m-17 4h0m-17 3h0m-17 3h0m-90 9h0m-38 0h0m-19-1h0m-60-5h0m-42-6h0"/><path stroke="#7e03a8" d="M5432 5363h0m15 55h0m27 13h0m26 11h0m-8 18h0m-8 17h0m-3 57h0m-9 15h0m-42 53h0m85-75h0m-29 45h0m-43 52h0m-35 34h0m-51 40h0"/><path class="b" stroke="#7e03a8" d="M5499 5593h0m-32 40h0m-35 35h0m-37 31h0m-26 19h0m-13 9h0m204-189h0m-207 216h0m-13 8h0m90-36h0m-13 10h0m-53 36h0m-611 3h0m-30-19h0m678 15h0m-55 33h0m-15 8h0m38 0h0m-14 8h0m-15 7h0m-106 42h0m-476-49h0m674-27h0m-68 42h0m-29 15h0m-359 58h0m-84-16h0m-69-22h0m506 3h0m-30 12h0m-47 16h0m-152 29h0m-37 1h0m-77-4h0m-41-5h0m-64-14h0m-46-15h0m458 14h0m-32 11h0m-16 4h0m-32 9h0m-34 7h0m-17 3h0m-35 4h0m-18 2h0m-36 2h0m-19 0h0m-19 0h0m-19-1h0m-20-2h0m-40-4h0m-21-4h0m-21-4h0m-44-11h0m-23-7h0m391 27h0m-67 15h0m-17 2h0m-36 4h0m-18 2h0m-37 1h0m-18 0h0m281-34h0m-146 41h0m-52 7h0"/><path stroke="#8707a6" d="M5397 5365h0m57 34h0m12 50h0m9 45h0m-9 15h0m25 10h0m-29 44h0m-11 14h0m-10 13h0m-23 24h0m-11 12h0m-12 11h0m-25 21h0m84-46h0m-58 57h0m-13 10h0m-13 10h0"/><path class="b" stroke="#8707a6" d="M5408 5689h0m-26 20h0m-40 26h0m25 11h0m-17 34h0m-14 8h0m-14 7h0m52-7h0m-14 9h0m-73 35h0m-517-26h0m556 28h0m-15 7h0m-15 7h0m-78 26h0m-294 7h0m-90-26h0m-24-10h0m-26-11h0m521 29h0m-15 6h0m-47 16h0m-208 28h0m-39-3h0m-61-8h0m-21-5h0m-45-11h0m-23-8h0m-74-30h0m512 43h0m-48 15h0m-16 5h0m-16 3h0m-17 4h0m-17 3h0m-17 3h0m-17 2h0m-18 2h0m-36 3h0m-37 0h0m-20-1h0m-19-1h0m-40-4h0m-42-7h0m272 17h0m-51 8h0m-139 22h0"/><path stroke="#8f0da4" d="M5352 5384h0m38 1h0m-7 18h0m29 18h0m28 15h0m18 30h0m-1 59h0m-42 54h0m-11 12h0m-11 12h0m-12 11h0m-23 54h0m-13 9h0m-1 30h0m-13 8h0"/><path class="b" stroke="#8f0da4" d="M5329 5743h0m-3 27h0m-19 32h0m-14 7h0m-30 12h0m-483-31h0m537 29h0m-45 19h0m-451-8h0m-25-11h0m485 35h0m-15 5h0m-16 5h0m-81 21h0m-125 10h0m-19-1h0m-19-1h0m-61-8h0m-42-9h0m-45-13h0m417 12h0m-16 5h0m-48 14h0m-16 4h0m-17 3h0m-52 8h0m-17 2h0m-37 2h0m-18 0h0m-38-1h0m-60-7h0"/><path stroke="#99159f" d="M5419 5403h0m-15 35h0m27 15h0m18 29h0m-9 16h0m7 41h0m-10 14h0m-93 92h0m39 3h0m-65 46h0m-1 29h0"/><path class="b" stroke="#99159f" d="M5315 5751h0m-15 7h0m11 19h0m-14 7h0m-535-28h0m516 59h0m24 10h0m-45 18h0m-16 5h0m-307 17h0m-66-17h0m-23-8h0m357 38h0m-16 4h0m-34 6h0m-71 6h0m-95-3h0m-20-2h0m-86-19h0m347 20h0m-66 14h0m-17 3h0m-53 5h0"/><path stroke="#a11b9b" d="M5296 5411h0m49-10h0m78 68h0m8 44h0m-10 14h0m5 39h0m-69 69h0m-25 51h0m-29 45h0m-14 7h0"/><path class="b" stroke="#a11b9b" d="M5286 5765h0m-15 7h0m-501-36h0m482 67h0m-462-31h0m457 54h0m-15 5h0m-401-17h0m-25-11h0m419 50h0m-16 4h0m-16 4h0m-16 4h0m-201 7h0m-63-12h0m-22-6h0m244 36h0m-18 2h0m-18 2h0m-36 1h0"/><path stroke="#aa2395" d="M5395 5454h0m19 31h0m-3 56h0m-42 84h0m-38 29h0m-13 9h0m-14 39h0m-30 43h0"/><path class="b" stroke="#aa2395" d="M5282 5791h0m-15 6h0m-451-12h0m384 55h0m-33 7h0m-266-10h0m259 31h0m-17 3h0m-18 2h0m-17 2h0m-74 2h0m-19-1h0m-19-2h0m-41-5h0"/><path stroke="#b12a90" d="M5336 5418h0m39 3h0m-9 16h0m38 63h0m-4 54h0m-11 12h0m-11 12h0m-12 12h0m-12 11h0m-12 10h0m-25 19h0m-12 42h0m-28 15h0m14 23h0m-15 7h0m-14 7h0m-2 27h0m-15 6h0"/><path class="b" stroke="#b12a90" d="M5256 5778h0m-15 5h0m-15 6h0m-428-38h0m439 57h0m-32 9h0m-32 8h0m-68 10h0m111 1h0m-33 8h0m-33 6h0m-17 3h0m-53 4h0m-37 1h0m-39-3h0m-19-2h0m-62-10h0m-45-12h0m-23-8h0m217 54h0m-19 0h0"/><path stroke="#b7318a" d="M5386 5470h0m-2 57h0m-54 94h0m-26 18h0m-13 41h0m-44 50h0m-438-27h0m421 60h0m-426-34h0"/><path class="b" stroke="#b7318a" d="M5210 5793h0m-16 5h0m27 15h0m-32 9h0m-325-18h0m-23-9h0m274 60h0m-17 1h0m-37 2h0m-37-1h0m-60-6h0m126 25h0"/><path stroke="#bf3984" d="M5286 5426h0m71 26h0m19 32h0m-10 14h0m7 42h0m-11 12h0m-47 43h0m-24 53h0m-28 15h0m0 31h0m-14 7h0m-17 35h0m-18 32h0"/><path class="b" stroke="#bf3984" d="M4849 5775h0m273 58h0m-149-2h0m-21-3h0m-42-10h0m-23-6h0m57 35h0"/><path stroke="#c5407e" d="M5276 5439h0m51-6h0m21 34h0m46 47h0m-43 50h0m-12 11h0m-12 10h0m-50 71h0m-438 34h0m-3 27h0m-5 25h0"/><path class="b" stroke="#c5407e" d="M5162 5805h0m-69 9h0m-269-50h0m332 64h0m-17 3h0m-52 5h0m-37 1h0m-57-3h0m-62-11h0"/><path stroke="#cc4778" d="M5318 5447h0m38 64h0m-122 196h0m-17 34h0"/><path class="b" stroke="#cc4778" d="M5178 5802h0m-33 6h0m-17 3h0m-53 4h0m-203-31h0m160 53h0m-20-1h0"/><path stroke="#d14e72" d="M5302 5605h0m-13 9h0m-27 16h0m-13 40h0m-382 2h0m337 46h0m-339-17h0m337 45h0m-3 27h0m-16 4h0m-17 4h0m-16 3h0m-34 5h0m-261-36h0"/><path class="b" stroke="#d14e72" d="M5057 5815h0m-118-12h0m-44-11h0m174 45h0"/><path stroke="#d6556d" d="M5307 5461h0m30 19h0m-3 56h0m-58 86h0m-41 55h0m-16 36h0m-33 38h0m-301-13h0m-24-10h0m272 59h0m-231-18h0m-23-7h0"/><path class="b" stroke="#d6556d" d="M5111 5813h0m-73 2h0m-38-2h0m-20-3h0m-20-3h0m-43-9h0"/><path stroke="#dc5d67" d="M5266 5452h0m79 72h0m-34 34h0m-63 79h0m-356 14h0m328 32h0m-32 40h0m-18 32h0"/><path class="b" stroke="#dc5d67" d="M5019 5814h0"/><path stroke="#e16462" d="M5327 5493h0m-11 13h0m6 41h0m-49 39h0m-335 48h0m296 10h0m-29 44h0m-32 39h0m-19 31h0m-17 3h0m-38 30h0m-18 1h0m-95-4h0m-41-7h0m-21-5h0"/><path stroke="#e66c5c" d="M5255 5463h0m42 11h0m1 94h0m-12 9h0m-66 74h0m-30 42h0m-299-11h0m212 83h0m-40 27h0m-38-1h0m-19-1h0m-40-5h0"/><path stroke="#ea7457" d="M4916 5660h0m240 71h0m-244-12h0m208 45h0m-35 3h0m-18 1h0m-138-16h0m-22-7h0m137 47h0"/><path stroke="#ee7b51" d="M5017 5581h0m288-64h0m-326 93h0m281-15h0m-14 8h0m-41 54h0m-15 5h0m-16 36h0m-34 36h0m-251-23h0m141 56h0"/><path stroke="#f2844b" d="M5243 5474h0m-175 71h0m218-59h0m7 42h0m-61 82h0m-57 57h0m-237 0h0m220 35h0m-244-11h0m209 46h0m-17 2h0m-57 29h0m-38-2h0m-19-2h0m-21-4h0m-20-3h0"/><path stroke="#f58c46" d="M5274 5497h0m-238 85h0m245-43h0m-281 75h0m218 3h0m-14 6h0m-244 17h0m182 65h0m-205-8h0m134 44h0m-95-6h0"/><path stroke="#f89540" d="M5231 5484h0m38 64h0m-250 69h0m140 54h0m-34 37h0m-36 32h0m-134-9h0m-21-5h0"/><path stroke="#fa9e3b" d="M5085 5543h0m171 14h0m-67 72h0m-15 5h0m-193 11h0m162 30h0m-17 3h0m-17 32h0m-18 2h0m-133-9h0m95 38h0m-19 0h0m-38-3h0"/><path stroke="#fca636" d="M5218 5494h0m-164 89h0m189-17h0m-14 8h0m-71 65h0m-198 34h0m114 40h0m-18 1h0m-38-2h0m-39-5h0m36 33h0"/><path stroke="#fdb130" d="M5263 5507h0m-13 10h0m-178 66h0m-34 35h0m105 25h0m-142 5h0m109 32h0m-130-3h0m57 36h0m-38-3h0"/><path stroke="#feba2c" d="M5102 5541h0m24 105h0m-69 6h0m-37-1h0m73 31h0m-93-2h0"/><path stroke="#fdc527" d="M5118 5538h0m97 43h0m-14 7h0m-144 31h0m36 32h0m-18 1h0m-36 0h0m36 31h0m-18 1h0m-18 0h0m-19-2h0"/><path stroke="#fcce25" d="M5205 5502h0m33 24h0m-149 55h0m83 18h0m-62 50h0"/><path stroke="#fad824" d="M5192 5510h0m33 25h0m-119 44h0m81 15h0m-30 10h0m-48 11h0m-17 2h0m-18 1h0"/><path stroke="#f7e425" d="M5134 5534h0m-12 42h0m19 32h0m-16 4h0"/><path stroke="#f3ee27" d="M5178 5517h0m-14 7h0"/><path stroke="#f0f921" d="M5149 5529h0m62 14h0m-14 7h0m-14 7h0m-14 6h0m-15 5h0m-16 4h0"/></g><use href="#grid" x="505.6" y="526.3"/><use href="#oval" x="505.6" y="526.3"/><text class="t" x="505.4" y="428.1">jup.9007.01</text><text class="t" x="505.6" y="444.6">2017-03-19 10:01 UT</text><text class="a m" x="505.6" y="467.7">60</text><text class="a m" x="505.6" y="488.3">70</text><text class="a m" x="505.6" y="509.0">80</text><text class="a e" x="436.3" y="488.7">320</text><text class="a" x="574.8" y="486.2">60</text><text class="a e" x="436.3" y="574.2">240</text><text class="a" x="574.8" y="574.2">120</text><g class="d" style="stroke-width:27" transform="scale(.1)"><path class="b" stroke="#1d068e" d="M458 7898h0m31 68h0"/><path class="b" stroke="#2a0593" d="M518 7942h0m-43-8h0m42 51h0m-57-40h0"/><path class="b" stroke="#370499" d="M1454 7700h0m-953 163h0m906-46h0m-75 67h0m-815 14h0m-30-23h0m45 55h0m-29-20h0m-30-23h0m148 112h0m-76-39h0m298 117h0m-59-9h0m-107-27h0m-45-18h0m-24-10h0m-50-25h0m-54-34h0m-61-45h0m101 91h0m-116-80h0"/><path stroke="#41049d" d="M1355 7422h0m25 14h0m48 19h0"/><path class="b" stroke="#41049d" d="M1467 7489h0m-65 152h0m57-66h0m-46 120h0m-43 56h0m-24 24h0m98-92h0m-42 58h0m-149 132h0m230-221h0m-39 63h0m-11 15h0m-22 28h0m-59 62h0m-808 53h0m959-220h0m-29 49h0m-748 278h0m737-230h0m-106 113h0m-785 71h0m844-101h0m-76 67h0m-13 10h0m-141 80h0m-552-5h0m-24-11h0m-51-27h0m924-163h0m-70 77h0m-51 45h0m-26 20h0m-14 9h0m-527 117h0m-198-64h0m-26-14h0m-82-52h0m981-94h0m-12 13h0m-12 12h0m-75 69h0m-13 10h0m-13 10h0m-28 18h0m-258 106h0m-51 8h0m-108 6h0m-76-6h0m-20-2h0m-41-8h0m-42-10h0m-66-22h0m-72-31h0m-52-29h0m809-5h0m-14 9h0m-14 9h0m-14 9h0m-43 23h0m-60 27h0m-145 42h0m-69 9h0m-54 3h0m-37 0h0m-225-43h0m-71-29h0m-24-12h0"/><path stroke="#4c02a1" d="M1369 7482h0m46-119h0m-2 31h0m-3 27h0m6 80h0m-22 59h0m-90 137h0"/><path class="b" stroke="#4c02a1" d="M1380 7635h0m101-222h0m-89 244h0m-10 15h0m-11 14h0m-22 28h0m-84 80h0m228-327h0m-61 162h0m-19 33h0m-10 15h0m-10 15h0m-33 41h0m-23 25h0m-12 11h0m196-355h0m-9 54h0m-5 24h0m-6 23h0m-31 81h0m-17 36h0m-19 33h0m-31 45h0m-69 77h0m-12 11h0m-25 21h0m-13 11h0m-13 9h0m242-303h0m-50 114h0m-29 48h0m-11 15h0m-10 14h0m-23 27h0m-11 13h0m-12 13h0m-12 12h0m-12 11h0m-25 22h0m-25 21h0m-27 19h0m295-519h0m-17 143h0m-43 127h0m-27 52h0m-52 76h0m-34 40h0m-12 12h0m-12 12h0m-24 23h0m-26 21h0m-80 54h0m-199 73h0m-463-88h0m-57-40h0m1063-546h0m1 37h0m-50 255h0m-8 19h0m-9 19h0m-28 51h0m-20 32h0m-11 15h0m-21 28h0m-12 14h0m-11 13h0m-23 25h0m-25 23h0m-12 11h0m-13 10h0m-13 11h0m-13 10h0m-40 27h0m-57 32h0m-14 7h0m-371 58h0m-124-28h0m-93-40h0m-80-48h0m1063-482h0m-54 212h0m-56 104h0m-32 44h0m-11 14h0m-23 26h0m-23 25h0m-13 12h0m-90 71h0m-14 9h0m-14 9h0m-487 82h0m-107-32h0m-72-32h0m-52-31h0m1067-621h0m-70 358h0m-9 18h0m-20 33h0m-20 32h0m-10 15h0m-22 29h0m-11 14h0m-12 13h0m-11 13h0m-24 24h0m-13 12h0m-12 11h0m-26 22h0m-39 29h0m-27 18h0m-28 17h0m-15 8h0m-43 21h0m-31 13h0m-46 16h0m-32 9h0m-49 11h0m-141 12h0m-37-2h0m-19-1h0m-80-13h0m-21-5h0m-21-6h0m-44-14h0m-23-8h0m974-598h0m-87 293h0m-40 64h0m-10 15h0m-22 29h0m-12 13h0m-23 26h0m-12 12h0m-25 24h0m-12 11h0m-13 11h0m-26 21h0m-40 28h0m-14 9h0m-28 17h0m-29 15h0m-14 7h0m-15 7h0m-61 24h0m-48 15h0m-16 4h0m-33 7h0m-17 3h0m-17 3h0m-35 4h0m-35 2h0m-18 1h0m-56-1h0m-19-2h0m-19-1h0m-20-3h0m-61-11h0m-21-5h0m-43-13h0m-23-8h0m-23-9h0m995-531h0m-25 96h0m-7 21h0m-16 40h0m-36 73h0m-10 16h0m-20 32h0m-11 15h0m-11 15h0m-22 28h0m-72 75h0m-12 11h0m-13 11h0m-53 40h0m-42 27h0m-14 8h0m-14 8h0m-15 7h0m-29 14h0m-15 7h0m-15 6h0m-16 6h0m-15 6h0m-32 10h0m-16 4h0m-33 8h0m-50 10h0m-34 4h0m-18 2h0m-36 2h0m-55-1h0m-140-20h0m-42-11h0m966-770h0m-4 170h0m-28 124h0m-32 82h0m-27 54h0m-10 17h0m-10 17h0m-10 16h0m-10 15h0m-33 44h0m-11 14h0m-12 13h0m-48 50h0m-13 11h0m-51 43h0m-14 10h0m-84 52h0m-29 14h0m-15 7h0m-46 19h0m-63 21h0m-16 4h0m-17 4h0m-16 4h0m-34 6h0m-17 2h0m-17 2h0m-36 3h0m-54 2h0m-38-1h0m-19-2h0m-20-2h0m-19-2h0m-41-7h0m-21-4h0m-21-5h0m-43-12h0m-69-26h0"/><path stroke="#5601a4" d="M1289 7436h0m38-30h0m-4 25h0m-6 23h0m-7 22h0m49-80h0m-9 51h0m38-65h0m-13 78h0m-21 63h0m45-53h0m-6 22h0m-14 41h0m-9 19h0m-8 18h0m-19 33h0m-30 45h0m126-275h0m-6 57h0m-10 48h0m-14 44h0m-7 19h0m-17 37h0m-9 17h0m-9 17h0m-41 59h0m-11 13h0m-35 37h0"/><path class="b" stroke="#5601a4" d="M1463 7347h0m-1 32h0m-2 30h0m-4 27h0m-5 25h0m-12 46h0m-7 21h0m-16 39h0m-8 18h0m-9 18h0m-10 16h0m-40 60h0m-11 14h0m-11 13h0m-12 13h0m-11 12h0m-12 11h0m-12 12h0m-13 10h0m-25 20h0m243-433h0m-8 89h0m-5 25h0m-19 67h0m-15 40h0m-9 18h0m-18 35h0m-51 75h0m-34 39h0m-11 12h0m-12 11h0m-13 11h0m-12 11h0m-52 38h0m279-505h0m-1 68h0m-3 30h0m-20 99h0m-15 42h0m-16 38h0m-27 52h0m-41 60h0m-34 39h0m-35 36h0m-13 11h0m-12 10h0m-13 10h0m-13 10h0m-13 9h0m268-389h0m-23 95h0m-8 20h0m-7 20h0m-17 37h0m-19 35h0m-19 31h0m-32 44h0m-11 13h0m-23 26h0m-48 46h0m-79 57h0m-28 16h0m336-470h0m-3 28h0m-5 26h0m-5 25h0m-6 23h0m-14 43h0m-8 20h0m-17 38h0m-8 18h0m-19 34h0m-123 147h0m-25 22h0m-26 19h0m-752-16h0m1032-530h0m-10 155h0m-12 49h0m-6 22h0m-7 22h0m-8 20h0m-8 20h0m-17 37h0m-28 51h0m-64 86h0m-73 70h0m-26 21h0m-13 9h0m-13 10h0m-70 40h0m-14 7h0m-60 25h0m-292 32h0m-123-26h0m-45-17h0m-48-22h0m955-544h0m-15 112h0m-6 24h0m-63 158h0m-51 77h0m-46 53h0m-24 24h0m-90 72h0m-27 18h0m-14 8h0m-14 8h0m-44 21h0m-76 28h0m-81 20h0m-17 2h0m-88 7h0m-37-1h0m-37-2h0m-80-13h0m-21-6h0m-88-29h0m-24-11h0m-50-26h0m-26-16h0m1037-603h0m1 37h0m-6 95h0m-4 27h0m-11 50h0m-6 23h0m-14 44h0m-24 58h0m-9 18h0m-9 18h0m-10 17h0m-10 16h0m-20 31h0m-44 56h0m-60 61h0m-25 22h0m-26 20h0m-14 9h0m-55 35h0m-14 8h0m-14 7h0m-15 7h0m-15 7h0m-15 7h0m-15 6h0m-15 5h0m-15 6h0m-16 5h0m-115 25h0m-17 2h0m-36 2h0m-17 1h0m-19 0h0m-18 0h0m-77-7h0m-60-12h0m-21-5h0m-22-6h0m-22-7h0m-46-18h0m-23-11h0m992-591h0m-5 61h0m-15 78h0m-20 68h0m-15 40h0m-9 20h0m-27 53h0m-20 33h0m-138 157h0m-66 49h0m-70 41h0m-15 7h0m-60 26h0m-15 5h0m-81 22h0m-50 9h0m-17 2h0m-35 3h0m-18 1h0m-55-1h0m-58-5h0m-20-2h0m-20-4h0m-84-21h0m-117-50h0m1046-671h0m2 39h0m0 35h0m-9 91h0m-29 120h0m-8 21h0m-8 20h0m-8 19h0m-8 19h0m-9 18h0m-19 35h0m-20 32h0m-234 223h0m-28 16h0m-59 28h0m-15 6h0m-16 6h0m-31 10h0m-16 5h0m-49 13h0m-67 11h0m-35 3h0m-54 2h0m-19 0h0m-117-14h0m-63-15h0m937-749h0m2 40h0m-2 69h0m-6 59h0m-10 52h0m-5 24h0m-29 87h0m-17 39h0m-8 19h0m-10 18h0m-29 50h0m-43 59h0m-58 66h0m-12 12h0m-119 91h0m-71 39h0m-190 61h0m-87 10h0m-36 1h0m-56-2h0m806-759h0m-22 207h0m-21 68h0m-15 41h0m-17 38h0m-10 18h0m-60 97h0m-11 15h0m-46 54h0m-12 13h0m-12 12h0m-37 34h0m-13 11h0m-13 11h0m-96 64h0m-74 36h0m-46 18h0m-16 5h0m-16 5h0m-187 31h0m-152-9h0m-84-19h0m-67-22h0"/><path stroke="#6001a6" d="M1254 7438h0m29 21h0m61 11h0m-7 21h0m-8 20h0m56-101h0m-23 93h0m-16 39h0m-8 17h0m-9 17h0m76-129h0m-19 66h0m-33 74h0m-29 46h0m-33 41h0m146-272h0m-80 226h0m-10 15h0m-10 14h0m-45 53h0m-36 33h0m-12 11h0m-13 10h0m-13 9h0"/><path class="b" stroke="#6001a6" d="M1445 7485h0m-21 63h0m-54 103h0m-11 14h0m-104 110h0m-26 19h0m-41 25h0m296-435h0m-24 127h0m-14 42h0m-26 55h0m-82 118h0m-86 78h0m-13 9h0m267-460h0m-8 89h0m-24 93h0m-33 77h0m-70 107h0m-136 121h0m-13 9h0m-42 23h0m-627-61h0m971-494h0m1 35h0m-1 33h0m-266 463h0m-14 9h0m-674-10h0m-29-21h0m1001-513h0m1 37h0m-1 32h0m-52 215h0m-251 285h0m-14 8h0m-14 8h0m-43 21h0m-15 6h0m-30 12h0m-47 14h0m-349-8h0m-67-25h0m-24-11h0m-51-29h0m-27-18h0m1002-481h0m-2 31h0m-4 28h0m-293 451h0m-13 9h0m-29 16h0m-43 21h0m-15 6h0m-15 6h0m-46 16h0m-32 9h0m-16 3h0m-102 14h0m-18 1h0m-18 0h0m-19 0h0m-37-3h0m-99-16h0m-22-6h0m-89-33h0m-50-25h0m978-500h0m-3 29h0m-5 26h0m-17 73h0m-7 21h0m-7 21h0m-240 310h0m-128 70h0m-15 6h0m-15 6h0m-16 5h0m-47 14h0m-16 4h0m-67 11h0m-18 2h0m-17 2h0m-18 1h0m-36 0h0m-37-2h0m-58-7h0m-21-3h0m-106-30h0m914-593h0m-14 113h0m-19 69h0m-15 42h0m-448 403h0m-16 5h0m-16 4h0m-17 3h0m-16 3h0m-17 3h0m-52 6h0m-91 1h0m-19-2h0m-19-1h0m-39-6h0m817-682h0m-2 66h0m-12 84h0m-12 48h0m-6 22h0m-15 43h0m-95 170h0m-200 179h0m-165 71h0m-32 8h0m-50 10h0m-52 6h0m-53 3h0m707-617h0m-8 54h0m-6 25h0m-6 24h0m-6 23h0m-77 170h0m-76 101h0m202-464h0m-4 63h0m-26 128h0m-481 494h0m-48 13h0m577-703h0m-1 33h0m-3 31h0m-8 56h0m-5 26h0m-12 48h0m-21 66h0"/><path stroke="#6a00a8" d="M1247 7459h0m56 37h0m18 33h0m-8 18h0m-4 61h0m-54 67h0m79-56h0m-32 42h0m-22 26h0m-24 23h0m-12 11h0m-12 11h0m-27 50h0"/><path class="b" stroke="#6a00a8" d="M1216 7803h0m-14 8h0m-42 24h0m52-4h0m-14 8h0m-14 8h0m303-356h0m-279 366h0m-14 8h0m-29 14h0m-14 7h0m-569-54h0m607 57h0m-15 7h0m-15 7h0m-29 12h0m-16 5h0m-47 15h0m-469-70h0m599 40h0m-15 7h0m-44 19h0m-46 16h0m-32 8h0m-67 12h0m-88 5h0m-37-2h0m-19-1h0m-19-3h0m-40-7h0m-20-4h0m-21-5h0m-44-14h0m-22-8h0m401 40h0m-82 16h0m-17 2h0m-18 2h0m-90 1h0m-58-6h0m-20-3h0m-20-4h0m-85-25h0m398 33h0m-49 11h0m563-537h0"/><path stroke="#7401a8" d="M1202 7475h0m38 4h0m-8 18h0m44-18h0m-16 37h0m35-1h0m9 49h0m15 28h0m-20 30h0m-21 28h0m-11 12h0m1 37h0m-49 43h0m-39 27h0m88-36h0m-118 81h0"/><path class="b" stroke="#7401a8" d="M1174 7827h0m-18 34h0m-15 6h0m-14 7h0m-535-60h0m544 78h0m-30 11h0m111-29h0m-72 35h0m-46 17h0m-16 4h0m-32 8h0m-66 12h0m-35 3h0m-53 1h0m-19-1h0m-97-14h0m-21-5h0m-21-6h0m-67-25h0m-49-23h0m484 62h0m-97 23h0m-34 4h0m-17 1h0m-18 1h0m-18 1h0m-36-1h0m-77-8h0m-199-69h0m504 64h0m-97 24h0"/><path stroke="#7e03a8" d="M1268 7498h0m19 35h0m7 47h0m-10 15h0m5 41h0m-45 50h0m-12 11h0m-13 11h0m-38 29h0m25 14h0m-13 9h0m-27 17h0m-14 8h0m39 6h0m-13 8h0m-14 8h0"/><path class="b" stroke="#7e03a8" d="M1146 7841h0m-29 13h0m-516-60h0m569 60h0m-58 25h0m-493-47h0m502 66h0m-145 34h0m-185-11h0m-42-10h0m-90-35h0m-50-27h0m426 93h0m-16 3h0m-17 3h0m-34 4h0m-35 2h0m-18 0h0m-56-3h0m-19-2h0m-19-2h0m-20-4h0m-84-22h0m-69-29h0m395 67h0m-16 3h0"/><path stroke="#8707a6" d="M1194 7493h0m57 40h0m27 16h0m-10 16h0m6 44h0m-10 14h0m-11 13h0m-59 92h0m-59 93h0m-14 6h0"/><path class="b" stroke="#8707a6" d="M1131 7848h0m-29 12h0m-31 10h0m-443-58h0m468 73h0m-15 5h0m-32 8h0m-404-52h0m445 62h0m-15 5h0m-16 4h0m-16 4h0m-17 3h0m-16 3h0m-17 2h0m-34 4h0m-18 1h0m-54 0h0m-37-3h0m-20-2h0m-19-4h0m-41-8h0m-87-30h0m-48-23h0m60 49h0"/><path stroke="#8f0da4" d="M1185 7509h0m56 40h0m7 46h0m-7 54h0m-11 12h0m-12 11h0m-12 11h0m-25 20h0m26 15h0m-39 28h0m-14 8h0m-14 8h0m-2 30h0m-14 7h0m-482-35h0m464 69h0m-470-44h0"/><path class="b" stroke="#8f0da4" d="M1086 7865h0m-408-26h0m387 55h0m-32 8h0m-16 3h0m-50 7h0m-108-1h0m-20-2h0m-39-7h0m-107-33h0m-24-10h0m255 76h0m-18 0h0m-37-2h0m-141-29h0m-22-8h0"/><path stroke="#99159f" d="M1145 7500h0m78 14h0m-9 16h0m44 50h0m-20 28h0m-45 85h0m-25 19h0m-495 40h0m437 53h0m-15 6h0m-15 6h0m11 22h0m-15 5h0"/><path class="b" stroke="#99159f" d="M1055 7874h0m-401-48h0m346 82h0m-104 6h0m-19-1h0m-57-7h0m-40-8h0m-21-6h0m-44-14h0"/><path stroke="#a11b9b" d="M1175 7524h0m29 121h0m-12 11h0m-13 10h0m-24 55h0m-14 8h0m-14 8h0m-1 32h0m-14 7h0m-14 6h0m-15 6h0m-23 61h0m-398-45h0"/><path class="b" stroke="#a11b9b" d="M1039 7878h0m-16 4h0m-16 3h0m-33 4h0m10 21h0m-35 3h0m-17 1h0m-195-28h0"/><path stroke="#aa2395" d="M1135 7515h0m69 30h0m28 19h0m-11 14h0m6 43h0m-12 12h0m-48 43h0m-54 68h0m-411-8h0m347 90h0m-16 4h0m12 23h0"/><path class="b" stroke="#aa2395" d="M990 7887h0m-69 5h0m-18 0h0m-95-10h0m-41-10h0m-21-6h0m-22-8h0m190 56h0"/><path stroke="#b12a90" d="M1211 7591h0m-11 13h0m-46 82h0m-13 8h0m-14 9h0m-28 48h0m-31 42h0m-370-27h0m367 56h0m-397-42h0m361 77h0m-16 3h0m-33 5h0m-52 4h0m-36 0h0m-206-52h0"/><path class="b" stroke="#b12a90" d="M956 7891h0m-71 1h0m-19-2h0m-19-2h0m-145-39h0"/><path stroke="#b7318a" d="M1124 7528h0m41 10h0m28 21h0m-465 158h0m327 51h0m-59 95h0m-51 5h0m-235-41h0"/><path class="b" stroke="#b7318a" d="M939 7892h0m-111-6h0"/><path stroke="#bf3984" d="M1183 7572h0m-11 13h0m16 31h0m-12 11h0m-12 11h0m-25 19h0m-25 53h0m-29 47h0m-15 6h0m-17 35h0m-16 4h0m-20 32h0m-16 3h0m-285-33h0m-23-11h0m270 74h0m-53 2h0m-75-6h0m-19-3h0m-20-4h0m-21-6h0m-43-14h0"/><path class="b" stroke="#bf3984" d="M788 7878h0"/><path stroke="#c5407e" d="M1113 7540h0m41 11h0m-11 12h0m-346 112h0m355-27h0m-26 18h0m-26 52h0m-14 6h0m-65 82h0m-36 34h0m-34 3h0m-77 25h0m-19-2h0m-101-22h0"/><path stroke="#cc4778" d="M857 7655h0m242 27h0m-324 21h0m296 28h0m-320-4h0m-25 21h0m263 65h0m-267-36h0m246 65h0m-52 3h0m-177-32h0"/><path stroke="#d14e72" d="M1101 7551h0m59 45h0m-12 11h0m-12 11h0m-318 64h0m295-7h0m-28 15h0m-29 46h0m-16 37h0m-291-15h0m256 52h0m-33 5h0m-228-28h0m190 57h0m-36 0h0m-37-2h0"/><path stroke="#d6556d" d="M1089 7561h0m-179 61h0m221-47h0m-12 10h0m-78 156h0m-15 5h0m-252-10h0m250 41h0m-144 66h0m-38-4h0m-20-3h0m-20-4h0m-41-12h0"/><path stroke="#dc5d67" d="M1123 7627h0m-52 69h0m-14 6h0m-260 9h0m213 39h0m-2 31h0m-16 3h0m-16 2h0m-20 31h0m-18 1h0m-172-24h0m16 33h0"/><path stroke="#e16462" d="M1076 7571h0m-200 87h0m235-22h0m-14 9h0m-13 8h0m-246 34h0m104 103h0m-171-23h0m150 51h0m-55-2h0"/><path stroke="#e66c5c" d="M928 7622h0m114 86h0m-15 5h0m-32 40h0m-200-10h0m164 45h0m-167-15h0m111 45h0m-18-1h0m-38-3h0m-19-4h0m-41-9h0"/><path stroke="#ea7457" d="M1107 7595h0m-13 10h0m-200 54h0m-77 58h0m-9 89h0"/><path stroke="#ee7b51" d="M1063 7579h0m7 81h0m-29 12h0m-183 19h0m153 26h0m-33 39h0m-16 2h0m-37 32h0m-36 0h0m-19-2h0m-58-9h0"/><path stroke="#f2844b" d="M1056 7666h0m-60 55h0m-159 0h0m108 39h0m-110-7h0m-20-4h0m92 41h0m-75-7h0"/><path stroke="#f58c46" d="M1050 7587h0m-105 33h0m136-7h0m-169 47h0m-36 34h0m104 30h0m-86 5h0m-37-4h0m71 36h0m-36-1h0m-18-1h0m-19-3h0m-3 30h0"/><path stroke="#f89540" d="M1036 7594h0m-75 24h0m106 3h0m-41 57h0m-15 4h0m-116 13h0m68 31h0m-16 2h0m-18 1h0m-53-2h0m34 34h0"/><path stroke="#fa9e3b" d="M992 7611h0m-15 4h0m19 71h0m-16 4h0m-67 6h0m-1 33h0"/><path stroke="#fca636" d="M1022 7601h0m-15 5h0m46 22h0m-123 32h0m34 32h0m-34 3h0"/><path stroke="#fdb130" d="M1039 7635h0m-14 5h0m-79 18h0m1 36h0"/><path stroke="#feba2c" d="M1010 7645h0"/><path stroke="#fdc527" d="M995 7650h0m-16 3h0m-16 3h0"/></g><use href="#grid" x="91.5" y="734.4"/><use href="#oval" x="91.5" y="734.4"/><text class="t" x="91.3" y="636.2">jup.9007.02</text><text class="t" x="91.5" y="652.7">2017-03-19 10:01 UT</text><text class="a m" x="91.5" y="675.8">60</text><text class="a m" x="91.5" y="696.4">70</text><text class="a m" x="91.5" y="717.1">80</text><text class="a e" x="22.2" y="697.1">320</text><text class="a" x="160.7" y="697.1">60</text><text class="a e" x="22.2" y="782.4">240</text><text class="a" x="160.7" y="784.7">120</text><g class="d" style="stroke-width:27" transform="scale(.1)"><path stroke="#370499" d="M2597 7436h0"/><path stroke="#41049d" d="M2637 7461h0m-6-20h0m-5-22h0m-17 59h0m-6-20h0m-21 34h0m-7-20h0m-11-44h0m-4-24h0m-32-40h0"/><path stroke="#4c02a1" d="M2667 7443h0m-23 37h0m-52-67h0m-23 38h0m-20 33h0m-6-21h0m-5-22h0m-5-24h0m-3-25h0m-18 59h0"/><path stroke="#5601a4" d="M2674 7462h0m-58 34h0m-27 14h0m-26 12h0m-7-18h0m-32-10h0m-6-21h0m-25 9h0m-5-22h0m-5-24h0m-19 30h0"/><path stroke="#6001a6" d="M2652 7498h0m-20 33h0m-8-17h0m-27 14h0m-26 12h0m-33-8h0m-7-18h0m-24-86h0m-3-25h0m-3-27h0m5 146h0m-6-20h0m-21-90h0m-4-56h0m23 210h0m-28-78h0m-15-70h0m-4-55h0"/><path class="b" stroke="#6001a6" d="M2409 7399h0m-8 198h0m-38 88h0m-84-405h0m11 332h0m-8-20h0m-29-111h0"/><path stroke="#6a00a8" d="M2681 7480h0m-40 67h0m-27 14h0m-9-16h0m-17 28h0m-42-23h0m12 73h0m-44-82h0m-38-156h0m31 198h0m-24-54h0m-7-20h0m-16-66h0m-8-51h0m-2-60h0"/><path class="b" stroke="#6a00a8" d="M2511 7638h0m-27-49h0m-8-18h0m-8-18h0m-14-39h0m-6-21h0m-11-46h0m-7-51h0m41 214h0m-45-114h0m-5-22h0m-5-24h0m-9-79h0m-1-31h0m1-34h0m34 290h0m-16-37h0m-7-20h0m-18-64h0m37 157h0m-39-92h0m-23-89h0m-9-112h0m1-34h0m108 421h0m-49-76h0m-76-254h0m148 386h0m-83-115h0m-9-17h0m-64-179h0m-4-25h0m-4-26h0m-4-89h0m158 467h0m-74-98h0m-45-85h0m-22-58h0m-28-114h0m-7-84h0m132 415h0m-69-106h0m-41-92h0m-19-63h0m-6-24h0m-4-24h0m-11-111h0m235 533h0m-13-11h0m-24-22h0m-69-77h0m-31-44h0m-10-15h0m-45-85h0m-8-19h0m-14-39h0m-7-21h0m-12-44h0m-17-101h0m5-170h0m343 738h0m-120-85h0m-13-11h0m-102-117h0m-49-78h0m-41-92h0m-7-21h0m-37-228h0m433 684h0m-168-100h0m-51-44h0m-12-12h0m-12-12h0m-67-80h0m-20-30h0m-38-65h0m-9-18h0m-8-18h0m-58-195h0m-6-54h0m-1-96h0m9-80h0"/><path stroke="#7401a8" d="M2689 7497h0m-29 18h0m-27 76h0m-9-15h0m-17 27h0m-9-15h0m-19-31h0m23 85h0m-20-28h0m-10-15h0m-9-16h0m-9-16h0m-6 41h0m-9-16h0m-17-33h0m22 87h0m-53-98h0"/><path class="b" stroke="#7401a8" d="M2531 7667h0m-70-133h0m-19-63h0m-9-48h0m-5-55h0m0-31h0m80 336h0m-10-15h0m-19-31h0m-25-52h0m-8-18h0m-7-20h0m-7-20h0m-20-92h0m116 307h0m-11-13h0m-31-42h0m-37-64h0m-16-35h0m-22-59h0m-6-22h0m-10-46h0m-4-25h0m-3-26h0m-2-60h0m1-34h0m165 480h0m-12-11h0m-11-13h0m-23-25h0m-41-57h0m-19-31h0m-17-34h0m-9-18h0m-8-18h0m-7-19h0m-19-63h0m-14-72h0m-3-26h0m223 446h0m-62-54h0m-34-38h0m-11-13h0m-50-74h0m-18-33h0m-8-18h0m-16-36h0m-8-20h0m-19-63h0m-13-73h0m-5-56h0m0-32h0m234 526h0m-12-10h0m-25-22h0m-12-11h0m-24-24h0m-34-38h0m-10-14h0m-11-14h0m-20-30h0m-37-65h0m-8-18h0m-16-37h0m-7-20h0m-7-20h0m-6-22h0m-21-124h0m-2-29h0m269 533h0m-64-51h0m-24-23h0m-12-12h0m-23-25h0m-22-27h0m-10-14h0m-21-29h0m-19-31h0m-9-16h0m-9-17h0m-25-54h0m-7-20h0m-14-41h0m-16-68h0m-8-51h0m-2-28h0m0-98h0m4-39h0m171 574h0m-11-12h0m-12-13h0m-32-40h0m-11-15h0m-10-14h0m-29-47h0m-27-52h0m-8-18h0m-7-19h0m-15-40h0m-26-116h0m-3-27h0m-4-91h0m2-36h0m5-40h0m364 731h0m-57-32h0m-14-9h0m-13-9h0m-14-10h0m-26-19h0m-37-33h0m-24-23h0m-12-13h0m-12-12h0m-11-13h0m-11-13h0m-21-28h0m-11-15h0m-29-46h0m-19-34h0m-8-17h0m-24-56h0m-20-62h0m-11-46h0m-5-25h0m-4-25h0m-5-56h0m-1-31h0m409 657h0m-29-14h0m-57-33h0m-14-8h0m-103-83h0m-12-12h0m-24-24h0m-11-13h0m-11-13h0m-11-14h0m-11-14h0m-40-61h0m-10-16h0m-26-51h0m-8-19h0m-8-19h0m-22-61h0m-6-22h0m-10-46h0m-5-25h0m-4-26h0m-2-28h0m-2-29h0m0-65h0m2-37h0m592 804h0m-115-31h0m-106-46h0m-14-8h0m-28-17h0m-14-9h0m-27-19h0m-39-30h0m-13-11h0m-72-71h0m-11-13h0m-22-28h0m-21-29h0m-30-47h0m-9-16h0m-34-72h0m-22-60h0m-7-21h0m-11-45h0m-13-76h0m-4-58h0m-1-32h0m4-72h0"/><path stroke="#7e03a8" d="M2719 7477h0m-21 36h0m-19 33h0m-10-15h0m-18 31h0m-7 42h0m-52 24h0m-25 10h0m-37-62h0m24 84h0m-20-29h0m-10-15h0m-9-16h0"/><path class="b" stroke="#7e03a8" d="M2596 7744h0m-34-36h0m-11-13h0m-10-14h0m-39-59h0m-9-16h0m80 145h0m-23-24h0m-11-13h0m-50-71h0m-27-50h0m124 199h0m-24-23h0m-23-24h0m-32-39h0m-11-14h0m-19-30h0m-10-16h0m-9-16h0m-72-259h0m241 478h0m-110-99h0m-21-27h0m-21-28h0m-19-31h0m-65-145h0m-11-44h0m-13-105h0m251 495h0m-52-40h0m-12-11h0m-47-48h0m-42-54h0m-11-15h0m-9-15h0m-66-143h0m-7-21h0m-11-45h0m-4-24h0m-7-148h0m342 629h0m-57-32h0m-27-18h0m-13-9h0m-38-31h0m-36-34h0m-35-37h0m-42-56h0m-20-30h0m-43-86h0m-34-103h0m-15-198h0m395 670h0m-59-28h0m-42-24h0m-13-9h0m-27-19h0m-13-9h0m-13-11h0m-12-10h0m-25-22h0m-58-62h0m-32-42h0m-56-97h0m-43-118h0m-6-23h0m-16-165h0m468 678h0m-92-36h0m-43-23h0m-28-17h0m-14-8h0m-13-10h0m-39-29h0m-13-11h0m-12-10h0m-13-12h0m-12-11h0m-46-50h0m-52-72h0m-10-15h0m-27-50h0m-45-116h0m-26-150h0m492 641h0m-16-5h0m-16-6h0m-61-24h0m-58-29h0m-14-9h0m-68-45h0m-277-591h0m485 720h0m-15-6h0m-32-11h0m-102-51h0m-41-27h0m-14-9h0m-13-10h0m-26-20h0m-61-58h0m-77-95h0m-10-16h0m-37-66h0m-57-160h0m-10-275h0m789 854h0m-78 3h0m-91-7h0m-68-12h0m-17-4h0m-16-4h0m-16-5h0m-94-35h0m-15-7h0m-14-8h0m-43-23h0m-42-27h0m-26-19h0m-51-43h0m-48-48h0m-34-39h0m-52-74h0m-88-207h0"/><path stroke="#8707a6" d="M2671 7590h0m-17 28h0m-16 26h0m-21-27h0m18 63h0m-11-12h0m9 46h0m-34-36h0m-11-13h0m-10-13h0m30 72h0m-22-24h0m-11-13h0"/><path class="b" stroke="#8707a6" d="M2633 7777h0m-60-57h0m-52-67h0m126 162h0m-50-41h0m-35-35h0m-33-38h0m-11-14h0m119 145h0m-13-9h0m-26-20h0m-24-22h0m-23-23h0m130 126h0m-27-17h0m-40-27h0m-13-10h0m-13-11h0m-12-10h0m-12-11h0m-79-89h0m216 206h0m-57-32h0m-65-48h0m-37-33h0m-23-24h0m187 159h0m-43-22h0m-14-8h0m-27-17h0m61 56h0m-29-15h0m-14-9h0m222 103h0m-17-3h0m-33-8h0m-109-39h0m-29-14h0m-15-7h0m-28-16h0m-54-36h0m-13-10h0m395 161h0m-71-6h0m-52-9h0m-16-4h0m-17-4h0m-79-26h0m-15-6h0m-30-14h0m-29-14h0m319 102h0m-19-1h0m-36-3h0m-18-2h0m-35-5h0m-17-3h0m-16-3h0m-17-4h0m-16-5h0m-17-4h0m-47-16h0m-31-12h0m-30-14h0m-29-15h0m-109-72h0m391 174h0m-87-12h0m-82-22h0m-32-11h0m-15-6h0"/><path stroke="#8f0da4" d="M2728 7493h0m-19 93h0m-10-12h0m-11-14h0m-7 43h0m-21-27h0m16 66h0m-11-12h0m7 49h0m-23-23h0m-21-25h0m30 72h0m-11-11h0m-34-37h0m44 81h0m-36-33h0m-11-12h0m60 85h0m-25-19h0m-13-11h0m-35-34h0m-33-38h0"/><path class="b" stroke="#8f0da4" d="M2671 7805h0m-26-18h0m-25-21h0m-12-11h0m-23-23h0m75 92h0m-38-29h0m-13-10h0m-24-22h0m106 104h0m-80-54h0m119 115h0m-44-21h0m-14-8h0m-14-8h0m-27-17h0m-26-19h0m161 107h0m-30-12h0m-15-6h0m-44-21h0m161 78h0m-17-4h0m-32-9h0m-16-5h0m-15-5h0m38 31h0m-32-10h0m-15-5h0m-16-6h0m-15-6h0m223 71h0m-71-9h0m-17-3h0m-113-31h0m454 32h0m-148 28h0m-39 2h0m-19 0h0m-56-2h0m-53-6h0m425-45h0m-50 21h0m-136 38h0m-21 4h0m-21 2h0m-79 6h0m-37-1h0m-19 0h0m-36-3h0m-35-5h0"/><path stroke="#99159f" d="M2717 7542h0m-10-14h0m-15 87h0m-5 39h0m-3 36h0m-23-22h0m22 56h0m-13-11h0m38 61h0m-38-28h0m-25-21h0m51 70h0m-39-28h0m-37-32h0"/><path class="b" stroke="#99159f" d="M2658 7796h0m86 75h0m-70-38h0m-40-28h0m71 70h0m-28-16h0m-14-9h0m137 85h0m-61-23h0m-15-6h0m-14-7h0m-15-8h0m-28-15h0m-27-18h0m199 107h0m-32-9h0m-16-5h0m-31-10h0m-45-19h0m99 55h0m-16-5h0m-16-5h0m-31-11h0m190 60h0m-53-5h0m-83-18h0m-63-21h0m-45-19h0m253 82h0m-53-5h0m-18-2h0m-50-10h0m187 35h0m-19 1h0m-19 0h0m-73-5h0m440-72h0m-54 28h0m-119 43h0m-44 10h0m-21 4h0m-21 3h0m302-93h0m-57 34h0m-53 24h0m-72 27h0m-23 6h0m-147 25h0m-19 1h0"/><path stroke="#a11b9b" d="M2728 7556h0m-1 93h0m-24-22h0m-8 106h0m0 32h0m-13-9h0m28 47h0m-27-17h0"/><path class="b" stroke="#a11b9b" d="M2712 7831h0m-14-8h0m61 55h0m-44-21h0m-14-8h0m-14-8h0m76 61h0m-29-13h0m-15-7h0m-69-40h0m134 88h0m-15-5h0m-15-6h0m69 42h0m-48-15h0m-30-11h0m102 50h0m-17-4h0m76 32h0m-35-5h0m-17-3h0m-142-45h0m373 69h0m-60 6h0m-19 1h0m-19 0h0m-18 0h0m-37-2h0m-18-2h0m390-53h0m-122 47h0m-44 11h0m-42 8h0m-41 6h0m-132 0h0m394-59h0m-51 24h0m-116 37h0m-84 15h0m-40 3h0m333-81h0m-129 59h0m-69 20h0m-22 5h0"/><path stroke="#aa2395" d="M2737 7508h0m-17 90h0m-5 40h0m22 57h0m-13-10h0m-13-10h0m-12-10h0m23 54h0m-13-9h0m-12-10h0m38 60h0m-27-17h0m28 47h0"/><path class="b" stroke="#aa2395" d="M2740 7846h0m-14-8h0m-41-24h0m104 76h0m-60-26h0m81 54h0m-16-5h0m-15-5h0m-31-13h0m68 45h0m56 32h0m-16-4h0m24 23h0m-17-3h0m172 28h0m-19 1h0m-19 1h0m-19 0h0m-55-3h0m204 6h0m-62 10h0m-20 2h0m208-31h0m-24 9h0m-24 8h0m-45 13h0m-85 16h0m-40 4h0m370-113h0m-31 21h0m-133 66h0m-24 8h0m236-108h0m-34 25h0"/><path stroke="#b12a90" d="M2732 7610h0m7 49h0m24 53h0m-42 40h0m1 30h0m30 44h0m-15-8h0"/><path class="b" stroke="#b12a90" d="M2769 7859h0m35 36h0m37 32h0m-16-4h0m7 21h0m57 31h0m80 25h0m-19-1h0m-17-1h0m-18-2h0m-18-2h0m198 15h0m-40 5h0m-96 3h0m282-30h0m-24 9h0m-68 21h0m-43 8h0m226-61h0m-54 27h0m-161 51h0"/><path stroke="#b7318a" d="M2747 7522h0m-9 46h0m18 63h0m-12-10h0m21 56h0m-15 26h0m-2 34h0m-13-9h0m13 40h0m2 30h0m31 41h0m-58-28h0"/><path class="b" stroke="#b7318a" d="M2784 7865h0m-29-13h0m81 52h0m-16-4h0m-46-16h0m84 47h0m75 31h0m-17-2h0m-35-5h0m-16-3h0m-17-4h0m168 33h0m-56 0h0m-18-1h0m-18-1h0m-18-2h0m243 2h0m-64 13h0m-40 5h0m-58 3h0m292-49h0m-74 30h0m-45 14h0m-22 6h0m-22 4h0m-41 7h0m272-78h0m-28 17h0m-53 26h0m-72 27h0m-23 7h0m253-108h0m-33 24h0m-31 20h0m78-33h0"/><path stroke="#bf3984" d="M2750 7580h0m2 88h0m10 76h0m0 31h0m16 36h0m-14-6h0m32 40h0m-30-13h0"/><path class="b" stroke="#bf3984" d="M2846 7885h0m-47-15h0m92 67h0m-17-3h0m77 29h0m-53-5h0m197 15h0m-98 9h0m-19 0h0m149 3h0m-21 4h0m-41 6h0m-40 4h0m-19 1h0m248-37h0m-25 10h0m-47 16h0m110-24h0"/><path stroke="#c5407e" d="M2758 7535h0m15 66h0m-12-10h0m20 58h0m-13-9h0m10 46h0m-2 34h0m29 45h0m-28 17h0"/><path class="b" stroke="#c5407e" d="M2815 7876h0m70 39h0m-17-3h0m120 52h0m150 0h0m-63 12h0m-20 2h0m139-12h0m216-75h0m-33 24h0"/><path stroke="#cc4778" d="M2789 7513h0m-13 239h0m15 37h0m17 34h0m-15-5h0m33 37h0m-15-5h0"/><path class="b" stroke="#cc4778" d="M2831 7880h0m71 38h0m-50-10h0m128 36h0m-19 0h0m-18-1h0m-17-2h0m-18-2h0m137 22h0m-19 1h0m-19 1h0m153-5h0m-44 10h0m-81 12h0m136-7h0m225-94h0m-62 42h0m-28 16h0"/><path stroke="#d14e72" d="M2794 7658h0m26 50h0m-28-14h0m-2 33h0m29 44h0m-29-12h0m31 42h0m-15-6h0m52 69h0m-16-4h0"/><path class="b" stroke="#d14e72" d="M2896 7895h0m-17-3h0m-16-3h0m73 33h0m-17-2h0m187 32h0m-41 7h0m-96 5h0m214-13h0m84-14h0m-25 11h0m-25 10h0m147-56h0"/><path stroke="#d6556d" d="M2800 7525h0m-20 34h0m-12-11h0m18 63h0m36 62h0m-14-7h0m-2 35h0m28 45h0m-30-12h0m66 108h0m-32-8h0m-15-5h0m51 39h0"/><path class="b" stroke="#d6556d" d="M2930 7900h0m-17-2h0m41 25h0m102 17h0m-39 4h0m110 3h0m-42 9h0m121-13h0m145-54h0m-30 19h0m-28 15h0"/><path stroke="#dc5d67" d="M2798 7620h0m36 94h0m-15 26h0m15 37h0m2 29h0m18 32h0m37 33h0"/><path class="b" stroke="#dc5d67" d="M2948 7901h0m61 23h0m-37 0h0m64 18h0m-38 2h0m283-34h0m-51 23h0"/><path stroke="#e16462" d="M2849 7720h0m0 32h0m1 30h0m17 33h0m-16-4h0m36 35h0"/><path class="b" stroke="#e16462" d="M2984 7902h0m84 16h0m-40 5h0m-37 1h0m127 6h0m-21 4h0m241-58h0m-83 46h0"/><path stroke="#e66c5c" d="M2811 7629h0m25 51h0m28 45h0m0 32h0m1 30h0m72 66h0m-17-2h0m22 27h0m-17-2h0m-18-2h0"/><path class="b" stroke="#e66c5c" d="M3002 7902h0m-37 0h0m83 19h0m28 17h0m143-20h0m-24 10h0m-23 7h0m-23 7h0m160-48h0"/><path stroke="#ea7457" d="M2811 7536h0m-7 44h0m-12-10h0m33 66h0m55 125h0m1 30h0m19 31h0m-17-3h0m20 30h0m57 30h0"/><path class="b" stroke="#ea7457" d="M3021 7901h0m67 14h0m74 3h0m-23 7h0m105-17h0"/><path stroke="#ee7b51" d="M2823 7547h0m-7 42h0m49 102h0m-15-5h0m45 47h0m36 66h0m2 28h0m-17-2h0m57 30h0m-18 0h0m60 24h0m-19 1h0m-18 0h0"/><path class="b" stroke="#ee7b51" d="M3081 7894h0m28 17h0m76 0h0m141-49h0m-29 18h0m-28 15h0"/><path stroke="#f2844b" d="M2880 7729h0m32 39h0m-16-3h0m18 32h0m-17-3h0m94 61h0"/><path class="b" stroke="#f2844b" d="M3060 7898h0m-19 2h0m90 6h0"/><path stroke="#f58c46" d="M2853 7650h0m-14-6h0m72 93h0m18 33h0m40 60h0m-18-1h0m103 46h0m-20 2h0"/><path class="b" stroke="#f58c46" d="M3233 7891h0"/><path stroke="#f89540" d="M2849 7565h0m-13-9h0m-7 42h0m38 58h0m29 45h0m-16-5h0m85 106h0m-17-1h0m57 29h0m24 24h0m-19 1h0"/><path class="b" stroke="#f89540" d="M3101 7890h0m74 2h0m-22 8h0m162-53h0m-29 17h0m-27 15h0m-51 23h0"/><path stroke="#fa9e3b" d="M2928 7740h0m18 32h0m41 58h0m87 42h0"/><path stroke="#fca636" d="M2843 7605h0m69 99h0m33 38h0m18 32h0m20 29h0m85 46h0"/><path class="b" stroke="#fca636" d="M3123 7886h0m182-58h0"/><path stroke="#fdb130" d="M2882 7661h0m99 113h0m21 29h0m41 24h0m51 42h0"/><path class="b" stroke="#fdb130" d="M3145 7880h0m131-34h0m-77 38h0"/><path stroke="#feba2c" d="M2862 7573h0m-5 39h0m71 95h0m34 36h0m37 31h0m22 28h0m3 26h0m65 17h0m-41 7h0m68 12h0"/><path class="b" stroke="#feba2c" d="M3167 7872h0m82-11h0m-26 12h0"/><path stroke="#fdc527" d="M2876 7580h0m-5 39h0m27 47h0m47 44h0m35 34h0m60 56h0m23 24h0"/><path class="b" stroke="#fdc527" d="M3268 7826h0"/><path stroke="#fcce25" d="M3018 7773h0"/><path stroke="#fad824" d="M2920 7596h0m-30-10h0m24 84h0m48 41h0m36 33h0m86 76h0m54 38h0"/><path class="b" stroke="#fad824" d="M3215 7853h0m-24 11h0"/><path stroke="#f7e425" d="M2936 7599h0m-31-8h0m-19 34h0m94 87h0m37 31h0m20 28h0m95 63h0m-22 6h0m151-36h0"/><path stroke="#f3ee27" d="M2930 7673h0m106 68h0m21 27h0m3 29h0m45 18h0m55 36h0"/><path class="b" stroke="#f3ee27" d="M3241 7841h0"/><path stroke="#f0f921" d="M3002 7642h0m-19 0h0m-17-1h0m-17-1h0m-17-3h0m-16-3h0m-15-4h0m157 40h0m-21 4h0m-19 2h0m-19 2h0m-18 0h0m-18-1h0m-17-1h0m153 18h0m-22 6h0m-21 5h0m-20 3h0m-19 3h0m-19 1h0m122 9h0m-22 7h0m-21 6h0m-21 4h0m88 6h0m-23 8h0m-22 7h0m-21 5h0m117-12h0m-25 12h0m-24 10h0m-23 8h0m-22 6h0m-21 5h0m118-12h0m-25 11h0m-24 10h0m-22 7h0m101-14h0m-26 13h0m-24 10h0m-24 9h0m80-8h0m-26 12h0m-24 11h0"/></g><use href="#grid" x="298.6" y="734.4"/><use href="#oval" x="298.6" y="734.4"/><text class="t" x="298.4" y="636.2">jup.9017.01</text><text class="t" x="298.6" y="652.7">2017-03-19 11:37 UT</text><text class="a m" x="298.6" y="675.8">60</text><text class="a m" x="298.6" y="696.4">70</text><text class="a m" x="298.6" y="717.1">80</text><text class="a e" x="229.3" y="697.1">320</text><text class="a" x="367.8" y="697.1">60</text><text class="a e" x="229.3" y="783.3">240</text><text class="a" x="367.8" y="784.3">120</text><g class="d" style="stroke-width:27" transform="scale(.1)"><path stroke="#1d068e" d="M4603 7475h0m-17-95h0m-22 35h0"/><path stroke="#2a0593" d="M4723 7463h0m-35-4h0m-5-21h0m-28 15h0m-5-22h0m-21 34h0m-6-22h0m-5-23h0m-29-13h0m-4 97h0m-35-35h0m-9-47h0"/><path stroke="#370499" d="M4717 7443h0m-14 54h0m-8-18h0m-17-63h0m-10 77h0m-26 12h0m-27-110h0m9 138h0m-7-18h0m-7-19h0m-12-42h0m-5-23h0m-14 53h0m-6-22h0m-5-23h0m-7-50h0m-2-28h0m25 205h0m-39-120h0m-8-50h0m-2-28h0"/><path class="b" stroke="#370499" d="M4527 7473h0m-14-100h0m-1-30h0m0 155h0m-11-45h0m-8-50h0"/><path stroke="#41049d" d="M4731 7481h0m-56 30h0m-14-38h0m-16-66h0m-10 78h0m-3 65h0m-24 9h0m-8-17h0m-8-19h0m-30-13h0m-27-172h0"/><path class="b" stroke="#41049d" d="M4546 7535h0m-6-20h0m-18-64h0m-4-25h0m-3-25h0m17 157h0m-7-19h0m-7-20h0m-21-90h0m-6-53h0m0-63h0m13 228h0m-13-41h0m-6-22h0m-5-23h0m-4-25h0m-3-26h0m-2-28h0m-1-30h0m1-32h0m20 247h0m-7-19h0m-27-112h0m-4-27h0m-2-91h0m7 208h0m-6-21h0m-6-23h0m-8-49h0m-3-26h0m-3-59h0m1 155h0m-32-75h0m-4-57h0m-1-31h0m-16-40h0m-32 144h0m-16-201h0m-21 193h0"/><path stroke="#4c02a1" d="M4760 7463h0m-21 35h0m-47 46h0m-9-16h0m-17 29h0m-9-17h0m-8-17h0m1 60h0m-9-16h0m-25 9h0m-5 39h0m-35-67h0m-7-18h0m-13-40h0"/><path class="b" stroke="#4c02a1" d="M4617 7666h0m-10-14h0m-10-15h0m-18-31h0m-9-17h0m-8-17h0m-8-18h0m-21-59h0m33 131h0m-9-16h0m-9-17h0m-42-117h0m-16-130h0m29 233h0m-22-58h0m26 111h0m-17-34h0m-29-77h0m-6-21h0m-6-22h0m-4-24h0m-10-79h0m-1-30h0m133 406h0m-32-41h0m-30-44h0m-18-33h0m-17-35h0m-7-18h0m-8-19h0m-29-109h0m69 230h0m-19-32h0m-9-16h0m-16-36h0m-8-18h0m-36-130h0m-4-25h0m-3-27h0m-2-60h0m1-34h0m4-37h0m133 503h0m-22-27h0m-40-59h0m-9-16h0m-18-34h0m-8-18h0m-36-99h0m-5-22h0m-5-23h0m52 196h0m-18-34h0m-8-18h0m-15-38h0m-30-109h0m-4-25h0m-4-26h0m-4-57h0m0-32h0m30 267h0m-27-83h0m-20-126h0m-1-63h0m2-35h0m5-39h0m320 705h0m-209-192h0m-20-30h0m-10-15h0m-19-32h0m-17-35h0m-31-76h0m-7-20h0m-6-22h0m-6-22h0m-17-100h0m0-128h0m375 711h0m-220-174h0m-53-70h0m-20-31h0m-9-16h0m-85-243h0m-3-26h0m-3-157h0m507 783h0m-166-74h0m-14-9h0m-79-58h0m-128-138h0m-21-30h0m-46-83h0m-45-118h0m-6-22h0m-14-72h0m-9-115h0m4-71h0"/><path stroke="#5601a4" d="M4768 7481h0m-40 65h0m-9-15h0m-44 41h0m-6 41h0m-25 9h0m-9-15h0m-10-15h0m-23 7h0m-9-16h0"/><path class="b" stroke="#5601a4" d="M4605 7685h0m-20-28h0m-10-15h0m-35-66h0m53 128h0m-20-28h0m-20-30h0m-9-16h0m-9-17h0m-8-17h0m-16-36h0m128 223h0m-35-36h0m-11-12h0m-11-14h0m-30-42h0m-10-15h0m-10-16h0m-17-33h0m-17-35h0m207 280h0m-88-72h0m-23-24h0m-99-148h0m-31-75h0m-31-169h0m0-63h0m187 506h0m-12-12h0m-12-11h0m-23-25h0m-11-13h0m-11-14h0m-21-28h0m-29-45h0m-49-107h0m-7-20h0m-6-21h0m-11-45h0m-13-105h0m313 548h0m-80-55h0m-50-43h0m-23-24h0m-34-38h0m-31-43h0m-38-63h0m-33-72h0m-7-20h0m-6-20h0m-22-92h0m-6-53h0m0-95h0m3-38h0m391 707h0m-114-62h0m-14-9h0m-51-40h0m-71-71h0m-11-13h0m-11-14h0m-10-14h0m-11-14h0m-10-15h0m-19-32h0m-18-33h0m-25-54h0m-14-39h0m-13-43h0m-5-22h0m-15-102h0m4-135h0m477 756h0m-108-42h0m-15-7h0m-42-24h0m-93-67h0m-36-33h0m-12-12h0m-56-66h0m-10-14h0m-11-15h0m-19-31h0m-18-32h0m-9-18h0m-9-17h0m-8-19h0m-15-38h0m-7-21h0m-17-66h0m-5-24h0m-4-25h0m-3-26h0m-4-58h0m610 696h0m-69-12h0m-33-8h0m-32-10h0m-135-60h0m-28-17h0m-14-9h0m-13-9h0m-14-9h0m-13-10h0m-13-11h0m-12-10h0m-25-22h0m-24-24h0m-12-12h0m-33-39h0m-11-14h0m-51-75h0m-18-33h0m-25-54h0m-7-20h0m-31-107h0m-5-25h0m-9-81h0m-1-30h0m1-33h0m6-76h0m594 824h0m-34-6h0m-34-8h0m-64-19h0m-31-12h0m-15-7h0m-15-6h0m-58-30h0m-14-9h0m-42-26h0m-26-20h0m-38-31h0m-37-35h0m-46-51h0m-11-14h0m-10-14h0m-68-110h0m-8-18h0m-16-37h0m-15-40h0m-13-43h0m-5-23h0m-5-23h0m-11-78h0m-2-29h0m-1-31h0m1-34h0m795 778h0m-133 0h0m-87-14h0m-34-8h0m-16-4h0m-48-15h0m-46-19h0m-45-21h0m-14-8h0m-14-8h0m-42-26h0m-27-19h0m-27-20h0m-25-21h0m-12-11h0m-13-12h0m-12-11h0m-68-79h0m-21-29h0m-29-47h0m-9-16h0m-9-17h0m-26-55h0m-14-39h0m-7-20h0m-18-67h0m-5-24h0m-11-79h0m-1-95h0m8-78h0"/><path stroke="#6001a6" d="M4776 7497h0m-29 18h0m-37-1h0m-9 46h0m-7 42h0m-10-15h0m-25 11h0m5 52h0m-10-14h0m-24 9h0m-10-15h0"/><path class="b" stroke="#6001a6" d="M4628 7679h0m-40-58h0m61 116h0m-23-25h0m-11-13h0m-20-28h0m20 59h0m-11-13h0m-41-56h0m126 164h0m-26-20h0m-12-11h0m-35-34h0m-44-52h0m-10-14h0m117 147h0m-25-20h0m-13-11h0m-12-11h0m-23-23h0m-34-38h0m-11-14h0m-20-28h0m-10-15h0m-19-31h0m254 266h0m-56-32h0m-27-18h0m-13-9h0m-38-31h0m-91-99h0m-21-29h0m-45-82h0m404 364h0m-63-21h0m-15-7h0m-87-44h0m-14-8h0m-26-18h0m-14-10h0m-38-31h0m-12-11h0m-24-23h0m-23-24h0m-43-54h0m-20-30h0m-53-101h0m391 388h0m-61-24h0m-15-7h0m-29-15h0m-14-8h0m-14-8h0m-54-36h0m-13-10h0m-13-11h0m-25-21h0m-12-11h0m-12-12h0m-11-12h0m-12-12h0m-74-99h0m-73-163h0m573 499h0m-18-3h0m-17-2h0m-99-24h0m-16-5h0m-31-12h0m-15-6h0m-59-28h0m-14-8h0m-28-17h0m-14-9h0m-26-19h0m-13-10h0m-13-10h0m-25-21h0m-12-12h0m-36-36h0m-11-12h0m-11-13h0m-52-72h0m-19-32h0m-63-150h0m548 512h0m-51-10h0m-32-9h0m-32-10h0m-16-6h0m-15-6h0m-15-6h0m-30-14h0m-15-7h0m-14-8h0m-134-94h0m-24-23h0m-35-37h0m-11-13h0m-43-55h0m-65-116h0m747 437h0m-20 2h0m-20 2h0m-20 1h0m-19 1h0m-19 0h0m-38-1h0m-18-2h0m-18-1h0m-17-2h0m-35-6h0m-67-15h0m-16-5h0m-16-5h0m-92-37h0m-29-15h0m-42-25h0m-14-9h0m-27-19h0m-26-20h0m-13-11h0m-25-22h0m-12-11h0m-24-24h0m-11-13h0m-55-68h0m-20-30h0m-28-49h0m-26-54h0m-15-38h0m-13-41h0m870 522h0m-22 4h0m-42 7h0m-61 7h0m-19 0h0m-57 0h0m-72-6h0m-35-6h0m-34-7h0m-65-19h0m-31-11h0m-46-20h0m-15-7h0m-99-58h0m-26-19h0m-99-91h0m-12-13h0m-11-13h0m-11-14h0m-52-74h0m-44-85h0m-16-38h0m-49-239h0"/><path stroke="#6a00a8" d="M4815 7493h0m-77 68h0m-18 28h0m-9-14h0m-7 40h0m-25 12h0m-4 36h0m-13 22h0m-11-13h0"/><path class="b" stroke="#6a00a8" d="M4672 7730h0m-12-12h0m-22-25h0m22 55h0m-23-23h0m115 120h0m-14-8h0m-39-28h0m-25-21h0m-13-10h0m-23-23h0m-12-12h0m-43-53h0m201 195h0m-28-15h0m-80-55h0m-49-43h0m162 136h0m-14-7h0m-15-8h0m-28-16h0m-13-8h0m-27-18h0m196 112h0m-63-20h0m-74-34h0m-14-8h0m-14-8h0m-66-46h0m-73-68h0m263 191h0m-16-6h0m-45-18h0m-15-7h0m-14-7h0m-15-8h0m-55-33h0m-52-39h0m389 169h0m-36-3h0m-69-10h0m-17-4h0m-16-4h0m-32-9h0m-32-11h0m-15-6h0m-59-26h0m-57-33h0m459 118h0m-41 5h0m-19 1h0m-38 1h0m-19-1h0m-18 0h0m-18-2h0m-70-9h0m-34-7h0m-16-5h0m-64-20h0m-158-83h0m-145-138h0m630 278h0m-40 3h0m-76 1h0m-19-1h0m-18-1h0m-35-5h0m-34-6h0m-159-51h0m546 39h0m-47 15h0m-44 12h0m-22 4h0m-21 4h0m-279-10h0m-97-29h0m547 9h0m-72 26h0m-23 6h0m-65 14h0m-121 11h0m-19 0h0m-37-2h0m-36-3h0m-35-5h0m-163-46h0m-258-177h0"/><path stroke="#7401a8" d="M4825 7507h0m-40 5h0m-19 33h0m-14 83h0m-21-25h0m-16 26h0m-4 36h0m-11-12h0m-11-13h0m20 60h0m-23-24h0m34 66h0m-47-45h0m-33-38h0"/><path class="b" stroke="#7401a8" d="M4721 7772h0m-37-31h0m-35-36h0m48 76h0m-25-21h0m53 68h0m-13-10h0m-26-19h0m-37-33h0m149 126h0m-28-14h0m-28-16h0m-27-18h0m-13-9h0m211 116h0m-16-4h0m-16-4h0m-32-10h0m-103-47h0m-80-55h0m238 137h0m-32-9h0m-16-5h0m-76-31h0m-84-48h0m-52-39h0m318 161h0m-34-6h0m-17-3h0m-48-13h0m236 45h0m-57 2h0m-36-2h0m-36-4h0m-17-2h0m-17-3h0m-66-15h0m259 40h0m-58 4h0m-161-16h0m-142-47h0m501 48h0m-22 7h0m-23 6h0m-43 9h0m-21 3h0m-80 7h0m-19 1h0m-19 0h0m366-73h0m-79 38h0m-93 30h0m-203 22h0m483-138h0m-94 61h0m-54 28h0m-51 21h0m-24 8h0m-153 34h0"/><path stroke="#7e03a8" d="M4795 7527h0m-39 3h0m-8 45h0m-7 40h0m-15 26h0m-29 47h0m48 74h0m-61-53h0"/><path class="b" stroke="#7e03a8" d="M4746 7791h0m-13-9h0m-25-20h0m-12-10h0m52 67h0m-26-18h0m-13-10h0m-25-20h0m124 104h0m-14-7h0m-15-7h0m-14-8h0m78 58h0m-15-6h0m-100-52h0m201 102h0m-64-17h0m-31-11h0m-15-6h0m-15-6h0m185 67h0m-18-2h0m-17-2h0m-17-3h0m-97-27h0m-30-11h0m223 66h0m-36-2h0m-52-7h0m-50-10h0m265 30h0m-41 5h0m-39 2h0m-19 1h0m130 5h0m-21 3h0m172-32h0m-49 19h0m-91 26h0m-83 12h0m262-55h0m-26 12h0m-74 28h0m170-59h0m-57 32h0"/><path stroke="#8707a6" d="M4786 7572h0m-10-13h0m4 53h0m-11-11h0m-11-13h0m6 51h0m8 47h0m-35-33h0m21 56h0m-12-10h0m-12-11h0m-12-11h0m23 55h0m-24-21h0m11 42h0m-24-21h0m-12-11h0"/><path class="b" stroke="#8707a6" d="M4833 7864h0m-15-7h0m-28-14h0m-28-16h0m-27-17h0m149 94h0m-16-5h0m-45-17h0m51 40h0m-16-6h0m-45-17h0m203 68h0m-36-4h0m-17-2h0m137 23h0m-39 2h0m-18 0h0m-123-15h0m-125-41h0m355 67h0m-21 3h0m-58 4h0m-19 0h0m-37-1h0m-36-4h0m267-4h0m-44 11h0m-63 11h0m119-7h0m-23 6h0m-22 6h0m211-66h0m-29 16h0m-27 14h0m-51 22h0m120-39h0m45-8h0"/><path stroke="#8f0da4" d="M4805 7541h0m-45 135h0m-12-11h0m10 76h0m-25-20h0m25 51h0"/><path class="b" stroke="#8f0da4" d="M4815 7832h0m-28-15h0m-14-8h0m-13-9h0m118 81h0m-15-5h0m-59-25h0m-28-15h0m77 58h0m-15-6h0m84 47h0m-16-4h0m-16-5h0m162 42h0m-54-3h0m-52-7h0m173 25h0m-39 2h0m-56 0h0m-18-1h0m164 10h0m-61 8h0m-19 1h0m253-45h0m-50 21h0m-24 8h0m-45 14h0m-43 9h0m201-51h0m-52 25h0m-25 10h0m-24 8h0m173-65h0m47-12h0m-33 24h0"/><path stroke="#99159f" d="M4835 7521h0m-38 63h0m-6 40h0m-16 26h0m-4 69h0m13 41h0m-14-9h0m28 46h0m-13-8h0m-14-8h0"/><path class="b" stroke="#99159f" d="M4801 7825h0m109 66h0m22 26h0m-16-4h0m-16-4h0m108 39h0m-35-4h0m-17-3h0m-17-3h0m232 19h0m-137 10h0m147 7h0m-21 3h0m197-46h0m-51 24h0m-48 17h0m-23 7h0m-44 11h0m127-21h0m38 3h0m131-59h0"/><path stroke="#a11b9b" d="M4845 7533h0m-30 20h0m-7 42h0m-5 40h0m9 46h0m-12-10h0m-13-10h0m37 93h0m-27-16h0m-13-9h0m27 47h0m-14-8h0m29 44h0"/><path class="b" stroke="#a11b9b" d="M4889 7862h0m-15-5h0m-15-6h0m-15-6h0m-15-6h0m130 62h0m-33-6h0m-32-9h0m-46-16h0m206 60h0m-89-7h0m-16-3h0m113 30h0m-18-1h0m-19 0h0m-35-3h0m160 15h0m-20 2h0m-20 2h0m-20 2h0m180-18h0m-23 8h0m-23 6h0m-22 6h0m-63 11h0m246-64h0m-54 28h0m-49 20h0m-69 21h0m157-40h0m70-21h0m-30 19h0"/><path stroke="#aa2395" d="M4815 7645h0m-4 69h0m-13-9h0m-13-9h0m70 129h0m-14-6h0m-29-14h0"/><path class="b" stroke="#aa2395" d="M4905 7867h0m187 62h0m-56 1h0m-18-1h0m-18-1h0m-17-2h0m117 22h0m-19 1h0m202-24h0m-69 23h0m-143 20h0m223-28h0m165-51h0m-32 22h0m-29 18h0m75-28h0"/><path stroke="#b12a90" d="M4857 7545h0m-31 20h0m-1 125h0m-15 56h0m29 45h0m62 51h0m-15-5h0m-16-6h0"/><path class="b" stroke="#b12a90" d="M4970 7881h0m-16-3h0m-17-3h0m56 31h0m-17-2h0m-34-6h0m169 30h0m-38 2h0m67 14h0m-20 2h0m139-12h0m-23 7h0m-44 12h0m180-51h0m-27 15h0m-26 12h0m95-31h0"/><path stroke="#b7318a" d="M4838 7577h0m-6 40h0m-12-11h0m21 57h0m-13-9h0m9 77h0m-13-8h0m28 46h0m-15-7h0m31 42h0m-15-6h0m-29-14h0"/><path class="b" stroke="#b7318a" d="M5005 7886h0m-84-15h0m108 38h0m-18-1h0m214 17h0m-43 11h0m-21 4h0m146-25h0m126-51h0m-32 21h0m45-9h0"/><path stroke="#bf3984" d="M4868 7556h0m-18 31h0m-6 39h0m8 80h0m-1 32h0m15 37h0m17 35h0m82 47h0m-16-3h0m-16-4h0m-16-4h0"/><path class="b" stroke="#bf3984" d="M4987 7884h0m78 26h0m-18 0h0m84 15h0m191-37h0m-119 43h0m157-42h0m-27 14h0"/><path stroke="#c5407e" d="M4880 7566h0m-42 132h0m75 122h0m-15-5h0m84 45h0"/><path class="b" stroke="#c5407e" d="M5022 7887h0m81 21h0m-19 1h0m282-68h0m-172 73h0m-22 5h0m-20 3h0m225-65h0m-28 17h0m-53 26h0m-24 10h0m-24 8h0m141-46h0"/><path stroke="#cc4778" d="M4862 7597h0m-8 75h0m26 48h0m-14-7h0m28 45h0m-29-13h0m46 47h0m-15-5h0m-15-5h0m48 43h0m70 37h0"/><path class="b" stroke="#cc4778" d="M5077 7888h0m-37 0h0m83 18h0m93 2h0"/><path stroke="#d14e72" d="M4870 7644h0m-13-8h0m24 51h0m-14-7h0m27 47h0m-14 25h0m46 45h0m52 38h0m-33-7h0m90 37h0m-18-1h0"/><path class="b" stroke="#d14e72" d="M5059 7888h0m298-65h0m-214 80h0m168-31h0m-49 21h0m-24 8h0"/><path stroke="#d6556d" d="M4893 7575h0m-19 31h0m35 127h0m0 30h0m49 42h0m-16-4h0m19 31h0m92 33h0"/><path class="b" stroke="#d6556d" d="M5096 7887h0m233-47h0m-165 59h0m174-41h0m-52 25h0"/><path stroke="#dc5d67" d="M4884 7652h0m11 42h0m45 79h0m-15-5h0m50 40h0m20 29h0m76 28h0"/><path class="b" stroke="#dc5d67" d="M5156 7879h0m-40 6h0m186-32h0m-73 30h0m-22 6h0m-22 6h0"/><path stroke="#e16462" d="M4906 7584h0m-19 31h0m10 44h0m42 84h0m-15-5h0m32 39h0m92 64h0m-18-1h0m-18-1h0m78 25h0"/><path class="b" stroke="#e16462" d="M5136 7882h0"/><path stroke="#e66c5c" d="M4919 7592h0m5 114h0m-14-6h0m45 47h0m54 66h0m-17-2h0m93 29h0m-19 1h0m64 19h0m-20 2h0"/><path class="b" stroke="#e66c5c" d="M5321 7819h0m-143 55h0m99-9h0m-24 10h0"/><path stroke="#ea7457" d="M4901 7623h0m11 43h0m94 119h0m-34-5h0m72 35h0m-18-1h0"/><path class="b" stroke="#ea7457" d="M5294 7833h0"/><path stroke="#ee7b51" d="M4926 7672h0m29 44h0m33 38h0m-17-3h0m18 32h0"/><path class="b" stroke="#ee7b51" d="M5199 7869h0"/><path stroke="#f2844b" d="M4933 7599h0m7 112h0m83 76h0m39 28h0m62 21h0m-20 3h0m210-42h0m-164 60h0"/><path class="b" stroke="#f2844b" d="M5269 7845h0m-24 9h0m-23 8h0"/><path stroke="#f58c46" d="M4947 7605h0m-32 25h0m126 158h0m40 27h0m90 37h0"/><path stroke="#f89540" d="M4962 7611h0m-33 26h0m12 41h0m63 78h0m140 77h0m143-22h0"/><path stroke="#fa9e3b" d="M4956 7683h0m15 37h0m51 38h0m37 30h0m41 25h0"/><path stroke="#fca636" d="M5043 7627h0m-66-11h0m-34 26h0m44 81h0m52 36h0m176 82h0m-23 6h0"/><path stroke="#fdb130" d="M5025 7625h0m-16-2h0m-16-3h0m-21 67h0m32 39h0m53 34h0m21 28h0m42 23h0m162-24h0m-20 36h0"/><path stroke="#feba2c" d="M4958 7648h0m63 80h0m144 101h0m73 4h0"/><path stroke="#fdc527" d="M4974 7652h0m14 38h0m50 39h0m38 30h0m21 27h0"/><path stroke="#fcce25" d="M5095 7661h0m-89-2h0m-16-3h0m14 37h0m252 106h0m-69 25h0"/><path stroke="#fad824" d="M5076 7662h0m-36 1h0m-17-2h0m93 123h0m24 24h0m69 9h0"/><path stroke="#f7e425" d="M5058 7663h0m-37 32h0m35 34h0m39 29h0m66 46h0m71 5h0"/><path stroke="#f3ee27" d="M5134 7688h0m-59 41h0m62 52h0m115-8h0"/><path stroke="#f0f921" d="M5114 7692h0m-20 3h0m-19 2h0m-19 0h0m-17 0h0m138 13h0m-22 6h0m-22 5h0m-20 4h0m-19 2h0m106 7h0m-23 8h0m-22 6h0m-21 4h0m-20 3h0m111 0h0m-24 9h0m-22 7h0m-22 6h0m71 6h0m-23 8h0m-23 7h0"/></g><use href="#grid" x="505.6" y="734.4"/><use href="#oval" x="505.6" y="734.4"/><text class="t" x="505.4" y="636.2">jup.9017.02</text><text class="t" x="505.6" y="652.7">2017-03-19 11:37 UT</text><text class="a m" x="505.6" y="675.8">60</text><text class="a m" x="505.6" y="696.4">70</text><text class="a m" x="505.6" y="717.1">80</text><text class="a e" x="436.3" y="696.7">320</text><text class="a" x="574.8" y="696.7">60</text><text class="a e" x="436.3" y="783.8">240</text><text class="a" x="574.8" y="783.8">120</text><defs><linearGradient id="cb" x1="0" x2="1" y1="0" y2="0"><stop offset="0.00" stop-color="#0d0887"/><stop offset="0.05" stop-color="#2a0593"/><stop offset="0.10" stop-color="#41049d"/><stop offset="0.15" stop-color="#5601a4"/><stop offset="0.20" stop-color="#6a00a8"/><stop offset="0.25" stop-color="#7e03a8"/><stop offset="0.30" stop-color="#8f0da4"/><stop offset="0.35" stop-color="#a11b9b"/><stop offset="0.40" stop-color="#b12a90"/><stop offset="0.45" stop-color="#bf3984"/><stop offset="0.50" stop-color="#cc4778"/><stop offset="0.55" stop-color="#d6556d"/><stop offset="0.60" stop-color="#e16462"/><stop offset="0.65" stop-color="#ea7457"/><stop offset="0.70" stop-color="#f2844b"/><stop offset="0.75" stop-color="#f89540"/><stop offset="0.80" stop-color="#fca636"/><stop offset="0.85" stop-color="#feba2c"/><stop offset="0.90" stop-color="#fcce25"/><stop offset="0.95" stop-color="#f7e425"/><stop offset="1.00" stop-color="#f0f921"/></linearGradient></defs><rect x="42.0" y="848.1" width="512.7" height="11.6" fill="url(#cb)" stroke="#444" stroke-width="0.6"/><path d="M93.3 848.1v1.6M93.3 859.7v-1.6M144.5 848.1v1.6M144.5 859.7v-1.6M195.8 848.1v1.6M195.8 859.7v-1.6M247.1 848.1v1.6M247.1 859.7v-1.6M298.4 848.1v1.6M298.4 859.7v-1.6M349.6 848.1v1.6M349.6 859.7v-1.6M400.9 848.1v1.6M400.9 859.7v-1.6M452.2 848.1v1.6M452.2 859.7v-1.6M503.4 848.1v1.6M503.4 859.7v-1.6" stroke="#333" stroke-width="0.6" fill="none" opacity=".7"/><text class="c" x="42.0" y="874.6">100</text><text class="c" x="144.5" y="874.6">240</text><text class="c" x="247.1" y="874.6">380</text><text class="c" x="349.6" y="874.6">520</text><text class="c" x="452.2" y="874.6">660</text><text class="c" x="554.7" y="874.6">800</text><text y="900.3" style="font-size:16.9px"><tspan x="192.3">Radiance</tspan><tspan x="270.9">(nW</tspan><tspan x="309.2">cm</tspan><tspan x="331.4" dy="-7.7" style="font-size:11.3px">-2</tspan><tspan x="346.3" dy="7.7">sr</tspan><tspan x="360.0" dy="-7.7" style="font-size:11.3px">-1</tspan><tspan x="375.3" dy="7.7">cm)</tspan></text></svg></body></html>
